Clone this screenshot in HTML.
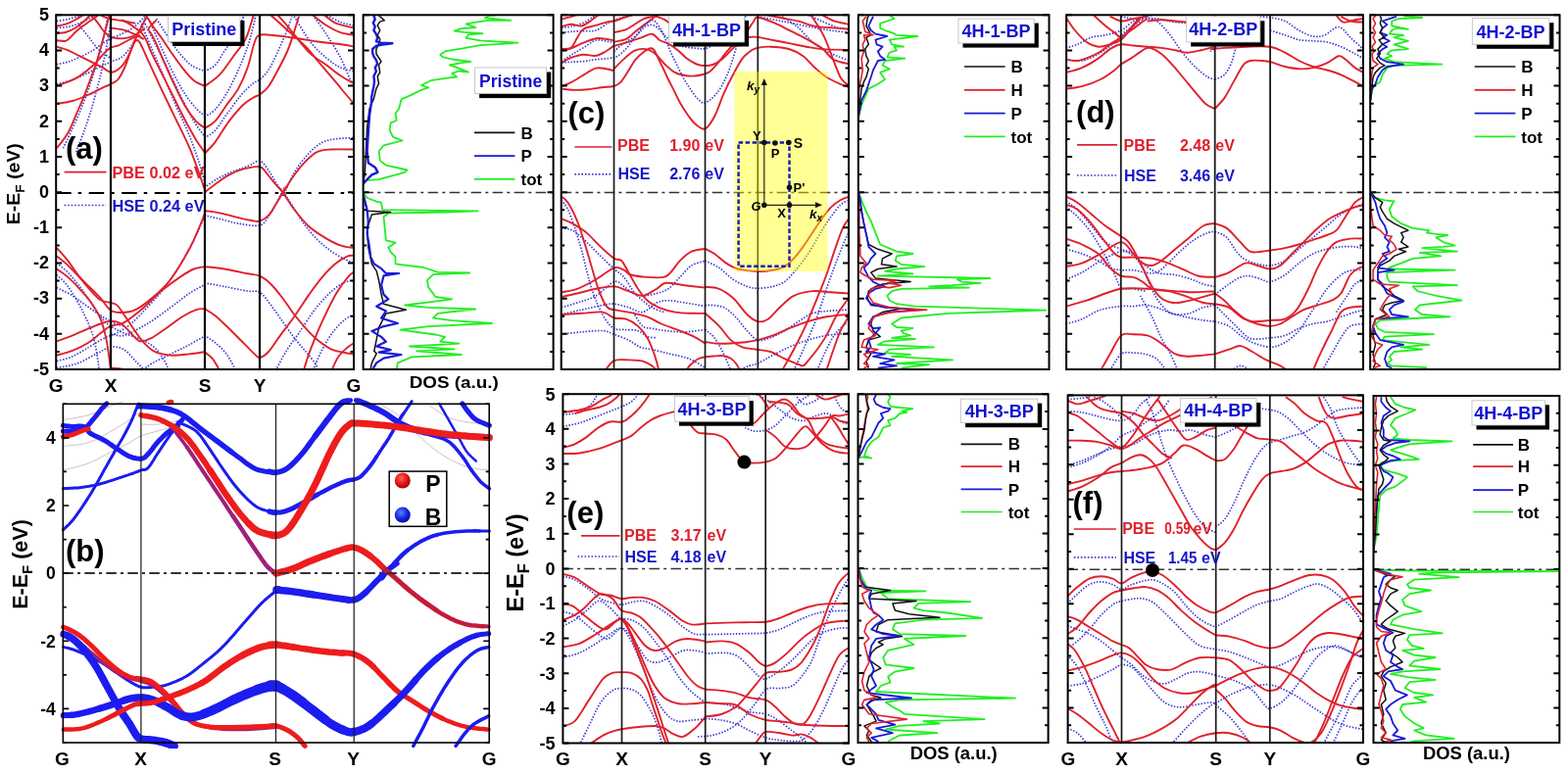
<!DOCTYPE html>
<html><head><meta charset="utf-8"><title>Band structures</title>
<style>
html,body{margin:0;padding:0;background:#fff;}
svg{display:block;}
</style></head><body>
<svg width="1600" height="790" viewBox="0 0 1600 790" style="font-family:'Liberation Sans',Arial,sans-serif;font-weight:bold">
<rect width="1600" height="790" fill="#fff"/>
<defs>
<clipPath id="ca"><rect x="57.2" y="15.3" width="303.8" height="361.7"/></clipPath>
<clipPath id="cda"><rect x="370.6" y="15.3" width="194" height="361.7"/></clipPath>
<clipPath id="cc"><rect x="572.7" y="15.3" width="293.3" height="361.7"/></clipPath>
<clipPath id="cdc"><rect x="875.8" y="15.3" width="194.7" height="361.7"/></clipPath>
<clipPath id="cd"><rect x="1088.1" y="15.3" width="302.9" height="361.7"/></clipPath>
<clipPath id="cdd"><rect x="1398.2" y="15.3" width="193.3" height="361.7"/></clipPath>
<clipPath id="cb"><rect x="61.3" y="406.3" width="441.9" height="357.7"/></clipPath>
<clipPath id="ce"><rect x="574.4" y="402.2" width="291.6" height="356.3"/></clipPath>
<clipPath id="cde"><rect x="875.5" y="402.3" width="194.1" height="355.7"/></clipPath>
<clipPath id="cf"><rect x="1089.6" y="403.4" width="301.4" height="354.6"/></clipPath>
<clipPath id="cdf"><rect x="1401.5" y="404" width="189.8" height="354"/></clipPath>
</defs>
<g clip-path="url(#ca)">
<path d="M64.5,151.3 C66.1,147.9 71.1,137.6 74,131 C77,124.5 79.8,118.3 82.4,112 C85,105.7 87.3,99.3 89.5,93 C91.8,86.6 94,80.3 96,73.9 C97.9,67.6 99.8,60.8 101.4,54.9 C103,48.9 104.3,43.3 105.5,38.2 C106.7,33 107.8,27.9 108.6,23.9 C109.4,19.9 110,16 110.2,14.4" stroke="#3a3ad6" stroke-width="1.7" fill="none" stroke-dasharray="1.5 1.6"/>
<path d="M77.6,154.9 C79,151.3 83.4,140.6 86,133.4 C88.5,126.3 90.9,119.1 93.1,112 C95.3,104.9 97.3,97.3 99,90.6 C100.8,83.8 102.3,77.9 103.8,71.5 C105.3,65.2 106.6,58.8 107.9,52.5 C109.1,46.1 110.3,38.6 111.2,33.4 C112.1,28.3 113,23.5 113.3,21.5" stroke="#3a3ad6" stroke-width="1.7" fill="none" stroke-dasharray="1.5 1.6"/>
<path d="M57.9,65.6 C59.8,65.2 65.4,64.4 69.3,63.2 C73.2,62 77.2,60.2 81.2,58.4 C85.2,56.6 89.1,54.9 93.1,52.5 C97.1,50.1 101.7,46.3 105,44.1 C108.3,42 110.1,40.8 112.9,39.4 C115.6,38 118.6,37.2 121.7,35.8 C124.7,34.4 128.4,32.6 131.2,31 C134,29.5 136,28.3 138.3,26.3 C140.7,24.3 143.7,21.1 145.5,19.1 C147.3,17.2 148.5,15.2 149,14.4" stroke="#3a3ad6" stroke-width="1.7" fill="none" stroke-dasharray="1.5 1.6"/>
<path d="M57.9,85.8 C60.2,85.2 67,83.8 71.7,82.2 C76.3,80.7 81.2,78.5 86,76.3 C90.7,74.1 95.8,71.3 100.2,69.1 C104.7,67 108.9,65 112.9,63.2 C116.8,61.4 120.6,61 124,58.4 C127.5,55.8 130.8,51.7 133.6,47.7 C136.3,43.7 138.5,39 140.7,34.6 C142.9,30.3 145.1,24.9 146.7,21.5 C148.3,18.2 149.6,15.6 150.2,14.4" stroke="#3a3ad6" stroke-width="1.7" fill="none" stroke-dasharray="1.5 1.6"/>
<path d="M57.9,21.5 C59.8,21.2 65.4,20.5 69.3,19.6 C73.2,18.7 78,17.2 81.2,16.3 C84.4,15.3 87.1,14.3 88.3,13.9" stroke="#3a3ad6" stroke-width="1.7" fill="none" stroke-dasharray="1.5 1.6"/>
<path d="M57.9,28.7 C60.2,28.3 67.4,27.8 71.7,26.8 C76,25.8 80,24.2 83.6,22.7 C87.1,21.2 90.5,19.3 93.1,18 C95.7,16.6 98.1,15 99,14.4" stroke="#3a3ad6" stroke-width="1.7" fill="none" stroke-dasharray="1.5 1.6"/>
<path d="M81.2,26.3 C82.8,28.3 87.5,34.2 90.7,38.2 C93.9,42.2 96.5,46.5 100.2,50.1 C103.9,53.7 110.8,58 112.9,59.6" stroke="#3a3ad6" stroke-width="1.7" fill="none" stroke-dasharray="1.5 1.6"/>
<path d="M143.1,21.5 C145.1,26.3 151,40.8 155,50.1 C159,59.4 162.9,68.2 166.9,77.5 C170.9,86.8 174.8,96.9 178.8,106 C182.8,115.2 187.1,123.7 190.7,132.2 C194.3,140.8 197.5,149.5 200.2,157.2 C202.9,165 205.3,173.1 206.9,178.7 C208.5,184.2 209.3,188.6 209.8,190.6" stroke="#3a3ad6" stroke-width="1.7" fill="none" stroke-dasharray="1.5 1.6"/>
<path d="M146.7,21.5 C148.8,25.9 155.2,38.6 159.8,47.7 C164.3,56.8 169.7,67.4 174,76.3 C178.4,85.2 182,93.3 186,101.3 C189.9,109.2 193.9,117.4 197.9,123.9 C201.8,130.5 207.8,137.8 209.8,140.6" stroke="#3a3ad6" stroke-width="1.7" fill="none" stroke-dasharray="1.5 1.6"/>
<path d="M151.4,19.1 C153.4,23.5 159.2,36.2 163.3,45.3 C167.5,54.5 172.3,65.6 176.4,73.9 C180.6,82.2 184.4,89.2 188.3,95.3 C192.3,101.5 196.7,106.9 200.2,110.8 C203.8,114.7 208.2,117.6 209.8,118.9" stroke="#3a3ad6" stroke-width="1.7" fill="none" stroke-dasharray="1.5 1.6"/>
<path d="M159.8,19.1 C161.7,22.3 167.7,32.2 171.7,38.2 C175.6,44.1 179.6,50.1 183.6,54.9 C187.5,59.6 191.1,63.7 195.5,66.8 C199.8,69.8 207.4,71.9 209.8,73" stroke="#3a3ad6" stroke-width="1.7" fill="none" stroke-dasharray="1.5 1.6"/>
<path d="M57.9,151.3 C59.8,148.7 65.8,142 69.3,135.8 C72.8,129.7 76,120.7 78.8,114.4 C81.6,108 83.6,103.7 86,97.7 C88.3,91.8 90.9,84.6 93.1,78.7 C95.3,72.7 97.3,67.6 99,62 C100.8,56.4 102.3,50.7 103.8,45.3 C105.3,40 106.7,34.4 107.9,29.9 C109,25.3 110.2,20.7 111,18 C111.7,15.2 111.9,14 112.1,13.2" stroke="#e0202c" stroke-width="1.9" fill="none"/>
<path d="M57.9,106 C60.6,105.5 68.6,104.5 74,103 C79.5,101.4 86,98.6 90.7,96.5 C95.5,94.5 98.9,92.4 102.6,90.6 C106.3,88.8 109.9,87.4 112.9,85.8 C115.8,84.2 118,84 120.5,81 C122.9,78.1 125.4,72.9 127.6,68 C129.8,63 131.8,55.7 133.6,51.3 C135.4,46.9 136.8,43.1 138.3,41.8 C139.8,40.5 140.6,40.5 142.6,43.4 C144.6,46.4 146.6,51.8 150.2,59.6 C153.9,67.5 159.8,80.5 164.5,90.6 C169.3,100.7 174,110.4 178.8,120.3 C183.6,130.3 188.9,140.4 193.1,150.1 C197.3,159.8 201,170.9 203.8,178.7 C206.6,186.4 208.8,193.5 209.8,196.5" stroke="#e0202c" stroke-width="1.9" fill="none"/>
<path d="M57.9,47.7 C59.8,48.3 65.4,49.7 69.3,51.3 C73.2,52.9 77.2,55.3 81.2,57.2 C85.2,59.2 89.1,61.2 93.1,63.2 C97.1,65.2 101.7,67.4 105,69.1 C108.3,70.9 110.3,73.6 112.9,73.9 C115.4,74.2 118,72.8 120.5,71 C122.9,69.3 125.4,66.5 127.6,63.2 C129.8,59.9 131.8,55.3 133.6,51.3 C135.4,47.3 136.5,43.3 138.3,39.4 C140.1,35.4 142.3,31.2 144.3,27.5 C146.3,23.7 149.2,18.5 150.2,16.8" stroke="#e0202c" stroke-width="1.9" fill="none"/>
<path d="M57.9,87.7 C61.3,86.3 72.3,82.9 78.8,79.1 C85.3,75.4 92.2,69.1 96.7,65.1 C101.1,61.1 102.8,57.8 105.5,55.1 C108.2,52.4 110.3,50.1 112.9,48.7 C115.4,47.2 117.9,47.6 121,46.3 C124,45 128.3,42.4 131,41 C133.7,39.7 135.1,39.1 137.1,38.2 C139.2,37.3 142.1,36.2 143.1,35.8" stroke="#e0202c" stroke-width="1.9" fill="none"/>
<path d="M209.8,156.8 C208.2,154.5 203.8,148.8 200.2,143 C196.7,137.1 192.3,129.1 188.3,121.5 C184.4,114 180.4,105.7 176.4,97.7 C172.5,89.8 168.1,81 164.5,73.9 C161,66.8 157.6,60.4 155,54.9 C152.4,49.3 150.8,44.1 149,40.6 C147.3,37 146.1,35.4 144.3,33.4 C142.5,31.4 140.5,30.3 138.3,28.7 C136.2,27.1 133.6,25.3 131.2,23.9 C128.8,22.5 125.2,20.9 124,20.3" stroke="#e0202c" stroke-width="1.9" fill="none"/>
<path d="M209.8,131 C208.2,129.9 203.8,127.9 200.2,123.9 C196.7,119.9 192.3,114 188.3,107.2 C184.4,100.5 180,91 176.4,83.4 C172.9,75.9 169.7,68.3 166.9,62 C164.1,55.7 161.8,49.9 159.8,45.3 C157.7,40.8 155.9,37.2 154.5,34.6 C153.1,32 151.3,31.4 151.4,29.9 C151.5,28.3 153.6,26.7 155,25.1 C156.4,23.5 159,21.1 159.8,20.3" stroke="#e0202c" stroke-width="1.9" fill="none"/>
<path d="M209.8,88.2 C207.8,87.2 201.8,85.4 197.9,82.2 C193.9,79.1 189.9,74.1 186,69.1 C182,64.2 177.6,57.6 174,52.5 C170.5,47.3 167.3,42.2 164.5,38.2 C161.7,34.2 159.4,31.4 157.4,28.7 C155.4,25.9 154,23.7 152.6,21.5 C151.2,19.3 149.6,16.6 149,15.6" stroke="#e0202c" stroke-width="1.9" fill="none"/>
<path d="M57.9,26.8 C59.8,26.3 65.8,25.2 69.3,23.9 C72.8,22.6 76,20.7 78.8,19.1 C81.6,17.6 84.8,15.2 86,14.4" stroke="#e0202c" stroke-width="1.9" fill="none"/>
<path d="M57.9,33.9 C59.4,33.7 63.8,33.8 66.9,33 C70,32.1 73.3,30.6 76.4,28.7 C79.6,26.8 83.2,23.9 86,21.5 C88.7,19.1 91.9,15.6 93.1,14.4" stroke="#e0202c" stroke-width="1.9" fill="none"/>
<path d="M57.9,41.3 C59.4,41.4 64.6,42.3 66.9,41.8 C69.2,41.2 69.7,40 71.7,38.2 C73.7,36.4 76,33.4 78.8,31 C81.6,28.7 84.8,26.5 88.3,23.9 C91.9,21.3 98.3,17 100.2,15.6" stroke="#e0202c" stroke-width="1.9" fill="none"/>
<path d="M93.1,15.6 C94.3,17 98.1,21.1 100.2,23.9 C102.4,26.7 104.1,29.9 106.2,32.2 C108.3,34.5 109.9,36.5 112.9,37.7 C115.8,38.9 120.6,39.4 124,39.4 C127.5,39.4 130.8,38.6 133.6,37.7 C136.3,36.8 138.3,35.4 140.7,33.9 C143.1,32.4 146.7,29.5 147.9,28.7" stroke="#e0202c" stroke-width="1.9" fill="none"/>
<path d="M112.9,28.4 C115.1,28.8 122.2,29.4 126.4,30.6 C130.7,31.7 135,33.7 138.3,35.3 C141.7,36.9 145.3,39.3 146.7,40.1" stroke="#e0202c" stroke-width="1.9" fill="none"/>
<path d="M102.6,15.6 C104.2,16.2 108.2,18.2 112.1,19.1 C116.1,20.1 122.1,20.7 126.4,21.5 C130.8,22.3 136.3,23.5 138.3,23.9" stroke="#e0202c" stroke-width="1.9" fill="none"/>
<path d="M208.6,72.7 C210.4,71.7 215.9,70.1 219.3,66.8 C222.7,63.4 225.6,57.2 228.8,52.5 C232,47.7 235.6,43 238.3,38.2 C241.1,33.4 243.7,27.7 245.5,23.9 C247.3,20.1 248.5,17 249,15.6" stroke="#3a3ad6" stroke-width="1.7" fill="none" stroke-dasharray="1.5 1.6"/>
<path d="M208.6,119.1 C210.4,118 215.5,116 219.3,112 C223.1,108 227.2,102.1 231.2,95.3 C235.2,88.6 239.5,79.5 243.1,71.5 C246.7,63.6 250,55.3 252.6,47.7 C255.2,40.2 257.2,31.6 258.6,26.3 C260,20.9 260.6,17.4 261,15.6" stroke="#3a3ad6" stroke-width="1.7" fill="none" stroke-dasharray="1.5 1.6"/>
<path d="M208.6,140.6 C210.4,139.4 215.5,137.4 219.3,133.4 C223.1,129.5 226.8,122.7 231.2,116.8 C235.6,110.8 241.1,102.9 245.5,97.7 C249.8,92.6 254.1,88.6 257.4,85.8 C260.6,83 262.2,83.4 265,81 C267.8,78.7 271,76.3 274,71.5 C277.1,66.8 280.6,58.8 283.6,52.5 C286.5,46.1 289.5,39.4 291.9,33.4 C294.3,27.5 296.9,19.5 297.9,16.8" stroke="#3a3ad6" stroke-width="1.7" fill="none" stroke-dasharray="1.5 1.6"/>
<path d="M208.6,191.8 C210.4,190.5 215.1,186.4 219.3,183.9 C223.5,181.4 228,179.1 233.6,176.8 C239.1,174.4 247.4,171.7 252.6,169.6 C257.9,167.6 261.4,163.7 265,164.4 C268.6,165.1 271.3,170.3 274,173.9 C276.7,177.5 278.8,182 281.2,185.8 C283.6,189.6 287.1,194.1 288.3,196.5 C289.6,198.9 288.7,199.5 288.8,200.1" stroke="#3a3ad6" stroke-width="1.7" fill="none" stroke-dasharray="1.5 1.6"/>
<path d="M288.8,200.1 C290.7,196.1 296,183.4 300.2,176.3 C304.5,169.1 309.8,162.4 314.5,157.2 C319.3,152.1 324,147.9 328.8,145.3 C333.6,142.8 337.7,142.6 343.1,141.8 C348.5,141 358,140.8 361,140.6" stroke="#3a3ad6" stroke-width="1.7" fill="none" stroke-dasharray="1.5 1.6"/>
<path d="M300.2,16.8 C303,21.1 311.3,35.8 316.9,43 C322.5,50.1 328.4,55.3 333.6,59.6 C338.7,64 343.3,67 347.9,69.1 C352.4,71.3 358.8,72.1 361,72.7" stroke="#3a3ad6" stroke-width="1.7" fill="none" stroke-dasharray="1.5 1.6"/>
<path d="M319.3,15.6 C321.7,18.9 328.8,28.5 333.6,35.8 C338.3,43.2 343.9,52.1 347.9,59.6 C351.8,67.2 355,76.7 357.4,81 C359.8,85.4 361.3,85 362.1,85.8" stroke="#3a3ad6" stroke-width="1.7" fill="none" stroke-dasharray="1.5 1.6"/>
<path d="M333.6,15.6 C336,16.8 343.1,20.9 347.9,22.7 C352.6,24.5 359.8,25.7 362.1,26.3" stroke="#3a3ad6" stroke-width="1.7" fill="none" stroke-dasharray="1.5 1.6"/>
<path d="M208.6,88.2 C211.2,86.2 219.1,81.4 224,76.3 C229,71.1 234,63.2 238.3,57.2 C242.7,51.3 247.3,46.1 250.2,40.6 C253.2,35 254.8,28.1 256.2,23.9 C257.6,19.7 258.2,17 258.6,15.6" stroke="#e0202c" stroke-width="1.9" fill="none"/>
<path d="M208.6,131 C210.4,129.9 215.5,127.9 219.3,123.9 C223.1,119.9 227.2,112.8 231.2,107.2 C235.2,101.7 239.5,96.9 243.1,90.6 C246.7,84.2 249.8,77.1 252.6,69.1 C255.4,61.2 257.7,48.5 259.8,43 C261.8,37.4 262.2,37 265,35.8 C267.8,34.6 270.6,35.3 276.4,35.8 C282.3,36.3 292.3,37.6 300.2,38.7 C308.2,39.8 316.1,41.4 324,42.5 C332,43.6 341.5,44.5 347.9,45.3 C354.2,46.2 359.8,47.3 362.1,47.7" stroke="#e0202c" stroke-width="1.9" fill="none"/>
<path d="M208.6,156.8 C210.4,154.9 215.1,150.8 219.3,145.3 C223.5,139.9 228.8,130.3 233.6,123.9 C238.3,117.6 243.5,111.4 247.9,107.2 C252.2,103.1 256.9,100.7 259.8,98.9 C262.6,97.1 262.6,98.3 265,96.5 C267.4,94.7 271,92.4 274,88.2 C277.1,84 280.4,77.5 283.6,71.5 C286.7,65.6 290.5,58.4 293.1,52.5 C295.7,46.5 297.1,41.8 299,35.8 C301,29.9 304,19.9 305,16.8" stroke="#e0202c" stroke-width="1.9" fill="none"/>
<path d="M208.6,196.5 C210.4,195.1 215.1,191.2 219.3,188.2 C223.5,185.2 228.8,181.2 233.6,178.7 C238.3,176.1 242.6,174.1 247.9,172.7 C253.1,171.3 261,169.7 265,170.3 C269,170.9 269,173.3 271.7,176.3 C274.4,179.3 278.3,184.8 281.2,188.2 C284,191.6 287,194.5 288.8,196.5 C290.6,198.5 291.4,199.5 291.9,200.1" stroke="#e0202c" stroke-width="1.9" fill="none"/>
<path d="M286,200.1 C286.4,199.5 286.4,200.1 288.8,196.5 C291.2,193 296.3,184 300.2,178.7 C304.1,173.3 308.2,168.3 312.1,164.4 C316.1,160.4 319.7,156.8 324,154.9 C328.4,152.9 332,152.9 338.3,152.5 C344.7,152.1 358.2,152.5 362.1,152.5" stroke="#e0202c" stroke-width="1.9" fill="none"/>
<path d="M276.4,15.6 C278.4,17.4 284.6,22.9 288.3,26.3 C292.1,29.7 295.1,32.2 299,35.8 C303,39.4 308,43.3 312.1,47.7 C316.3,52.1 319.7,56.8 324,62 C328.4,67.2 334,73.5 338.3,78.7 C342.7,83.8 346.3,88.2 350.2,93 C354.2,97.7 360.2,104.9 362.1,107.2" stroke="#e0202c" stroke-width="1.9" fill="none"/>
<path d="M283.6,15.6 C285.2,17.4 289.9,22.5 293.1,26.3 C296.3,30.1 298.7,33.4 302.6,38.2 C306.6,43 311.7,50.1 316.9,54.9 C322.1,59.6 328.4,63 333.6,66.8 C338.7,70.5 343.1,74.3 347.9,77.5 C352.6,80.7 359.8,84.4 362.1,85.8" stroke="#e0202c" stroke-width="1.9" fill="none"/>
<path d="M319.3,15.6 C321.7,17.4 328.8,23.3 333.6,26.3 C338.3,29.3 343.1,31.8 347.9,33.4 C352.6,35 359.8,35.4 362.1,35.8" stroke="#e0202c" stroke-width="1.9" fill="none"/>
<path d="M331.2,15.6 C333.2,17 337.9,21.7 343.1,23.9 C348.3,26.1 359,27.9 362.1,28.7" stroke="#e0202c" stroke-width="1.9" fill="none"/>
<path d="M57.9,268.6 C59.8,270.2 65.4,274.1 69.3,278.1 C73.2,282.1 77.2,287.2 81.2,292.4 C85.2,297.5 89.5,303.9 93.1,309 C96.7,314.2 99.3,319.4 102.6,323.3 C105.9,327.3 108.9,330.1 112.9,332.9 C116.8,335.6 121,337.6 126.4,340 C131.9,342.4 139.9,344.4 145.5,347.1 C151,349.9 155.8,352.7 159.8,356.7 C163.7,360.6 167.3,367.4 169.3,371 C171.3,374.5 171.3,376.9 171.7,378.1" stroke="#3a3ad6" stroke-width="1.7" fill="none" stroke-dasharray="1.5 1.6"/>
<path d="M57.9,280.5 C59.8,282.5 65,286.4 69.3,292.4 C73.6,298.3 79.2,307.5 83.6,316.2 C87.9,324.9 92.5,334.4 95.5,344.8 C98.5,355.1 100.4,372.5 101.4,378.1" stroke="#3a3ad6" stroke-width="1.7" fill="none" stroke-dasharray="1.5 1.6"/>
<path d="M57.9,293.6 C60.6,295 68.6,298.5 74,301.9 C79.5,305.3 84.2,309.4 90.7,313.8 C97.2,318.2 106.9,324.9 112.9,328.1 C118.8,331.3 124.2,332.1 126.4,332.9" stroke="#3a3ad6" stroke-width="1.7" fill="none" stroke-dasharray="1.5 1.6"/>
<path d="M57.9,375.7 C61.3,374.9 72.1,373.3 78.8,371 C85.5,368.6 92.2,364.2 97.9,361.4 C103.5,358.7 108.1,355.1 112.9,354.3 C117.6,353.5 122.2,354.3 126.4,356.7 C130.7,359 134.8,365 138.3,368.6 C141.9,372.1 146.3,376.5 147.9,378.1" stroke="#3a3ad6" stroke-width="1.7" fill="none" stroke-dasharray="1.5 1.6"/>
<path d="M112.9,340 C115.1,340.4 120.2,344 126.4,342.4 C132.7,340.8 142.3,335.2 150.2,330.5 C158.2,325.7 166.9,319 174,313.8 C181.2,308.7 187.1,303.5 193.1,299.5 C199,295.6 207,291.6 209.8,290" stroke="#3a3ad6" stroke-width="1.7" fill="none" stroke-dasharray="1.5 1.6"/>
<path d="M209.8,342.4 C207,344 199,348.7 193.1,351.9 C187.1,355.1 180.4,358.3 174,361.4 C167.7,364.6 159.8,368.2 155,371 C150.2,373.7 147.1,376.9 145.5,378.1" stroke="#3a3ad6" stroke-width="1.7" fill="none" stroke-dasharray="1.5 1.6"/>
<path d="M209.8,218.6 C207.8,222.9 202.2,236 197.9,244.8 C193.5,253.5 188.7,262.6 183.6,271 C178.4,279.3 172.5,287.6 166.9,294.8 C161.3,301.9 155.8,307.9 150.2,313.8 C144.7,319.8 138.7,326.1 133.6,330.5 C128.4,334.8 122.7,338 119.3,340 C115.8,342 115.6,341.2 112.9,342.4 C110.1,343.6 106.3,345.2 102.6,347.1 C98.9,349.1 95.5,351.5 90.7,354.3 C86,357.1 79.5,361.4 74,363.8 C68.6,366.2 60.6,367.8 57.9,368.6" stroke="#3a3ad6" stroke-width="1.7" fill="none" stroke-dasharray="1.5 1.6"/>
<path d="M57.9,253.1 C59.8,255.3 65.4,261.2 69.3,266.2 C73.2,271.2 77.2,277.7 81.2,282.9 C85.2,288 89.5,293.3 93.1,297.1 C96.7,301 99.3,304.2 102.6,306.2 C105.9,308.2 110.1,308.2 112.9,309 C115.6,309.9 117,309.4 119.3,311.4 C121.5,313.4 123.7,317 126.4,321 C129.2,324.9 132.8,330.7 136,335.2 C139.1,339.8 141.9,344.4 145.5,348.3 C149,352.2 152.6,356.2 157.4,358.6 C162.1,361 168.1,362.1 174,362.6 C180,363.1 187.1,362 193.1,361.4 C199,360.8 207,359.4 209.8,359" stroke="#e0202c" stroke-width="1.9" fill="none"/>
<path d="M57.9,261.4 C59.4,262.6 63.4,265.4 66.9,268.6 C70.4,271.7 74.8,276.5 78.8,280.5 C82.8,284.4 86.7,288.4 90.7,292.4 C94.7,296.3 98.9,300.2 102.6,304.3 C106.3,308.3 109.3,314.2 112.9,316.7 C116.4,319.1 119.8,319.1 124,319 C128.3,319 133.2,318.7 138.3,316.2 C143.5,313.7 149,309.4 155,304.3 C161,299.1 167.7,293.6 174,285.2 C180.4,276.9 187.9,263.8 193.1,254.3 C198.3,244.8 202.2,234.6 205,228.1 C207.8,221.5 209,217.2 209.8,215" stroke="#e0202c" stroke-width="1.9" fill="none"/>
<path d="M57.9,274.5 C59.8,275.9 65.4,279.5 69.3,282.9 C73.2,286.2 77.2,290.4 81.2,294.8 C85.2,299.1 89.5,303.9 93.1,309 C96.7,314.2 100,319.4 102.6,325.7 C105.2,332.1 106.9,338.8 108.6,347.1 C110.3,355.5 112.1,371 112.9,375.7" stroke="#e0202c" stroke-width="1.9" fill="none"/>
<path d="M57.9,348.3 C60.6,347.3 68.6,344.6 74,342.4 C79.5,340.2 86,337.2 90.7,335.2 C95.5,333.3 98.9,331.7 102.6,330.5 C106.3,329.2 109.3,327.6 112.9,327.6 C116.4,327.6 120.6,328.4 124,330.5 C127.5,332.5 130.4,337 133.6,340 C136.7,343 139.5,347.5 143.1,348.3 C146.7,349.1 150.6,346.9 155,344.8 C159.4,342.6 164.1,338.8 169.3,335.2 C174.4,331.7 180.8,326.5 186,323.3 C191.1,320.2 196.3,317.6 200.2,316.2 C204.2,314.8 208.2,315.2 209.8,315" stroke="#e0202c" stroke-width="1.9" fill="none"/>
<path d="M57.9,362.6 C60.6,361.8 68.6,360 74,357.9 C79.5,355.7 86,352.5 90.7,349.5 C95.5,346.5 98.9,342.8 102.6,340 C106.3,337.2 108.9,334.6 112.9,332.9 C116.8,331.1 121,332.3 126.4,329.3 C131.9,326.3 139.1,320.4 145.5,315 C151.8,309.6 158.2,302.5 164.5,297.1 C170.9,291.8 178,286.6 183.6,282.9 C189.1,279.1 193.5,276.3 197.9,274.5 C202.2,272.7 207.8,272.5 209.8,272.1" stroke="#e0202c" stroke-width="1.9" fill="none"/>
<path d="M112.9,375.7 C114.3,375.8 118.6,375.8 121.7,376.2 C124.7,376.6 129.6,377.8 131.2,378.1" stroke="#e0202c" stroke-width="1.9" fill="none"/>
<path d="M208.6,219.8 C211.2,220.4 218.3,221.9 224,223.3 C229.8,224.7 236.3,227 243.1,228.1 C249.9,229.2 259.8,231.2 265,230 C270.2,228.8 271.3,224.4 274,221 C276.7,217.5 278.8,213.4 281.2,209 C283.6,204.7 286.7,197.9 288.3,194.8 C289.9,191.6 290.3,190.8 290.7,190" stroke="#3a3ad6" stroke-width="1.7" fill="none" stroke-dasharray="1.5 1.6"/>
<path d="M288.8,196 C290.3,198.1 294.4,203.7 297.9,209 C301.3,214.4 305.4,222.1 309.8,228.1 C314.1,234 319.3,240 324,244.8 C328.8,249.5 333.6,253.3 338.3,256.7 C343.1,260 348.7,263 352.6,265 C356.6,267 360.6,268 362.1,268.6" stroke="#3a3ad6" stroke-width="1.7" fill="none" stroke-dasharray="1.5 1.6"/>
<path d="M208.6,288.8 C211.9,289.4 221.5,291 228.8,292.4 C236.2,293.8 246.6,296.2 252.6,297.1 C258.7,298.1 261,296 265,298.3 C269,300.7 272.5,306.5 276.4,311.4 C280.3,316.4 284.4,322.5 288.3,328.1 C292.3,333.7 296.3,339.6 300.2,344.8 C304.2,349.9 308.6,354.7 312.1,359 C315.7,363.4 319.7,367.8 321.7,371 C323.7,374.1 323.7,376.9 324,378.1" stroke="#3a3ad6" stroke-width="1.7" fill="none" stroke-dasharray="1.5 1.6"/>
<path d="M208.6,342.4 C210.4,343.6 215.5,346.3 219.3,349.5 C223.1,352.7 227.6,356.7 231.2,361.4 C234.8,366.2 239.1,375.3 240.7,378.1" stroke="#3a3ad6" stroke-width="1.7" fill="none" stroke-dasharray="1.5 1.6"/>
<path d="M281.2,378.1 C283.2,374.5 289.1,363 293.1,356.7 C297.1,350.3 300.6,346.3 305,340 C309.4,333.7 314.5,324.9 319.3,318.6 C324,312.2 328.8,306.7 333.6,301.9 C338.3,297.1 343.1,292.8 347.9,290 C352.6,287.2 359.8,286 362.1,285.2" stroke="#3a3ad6" stroke-width="1.7" fill="none" stroke-dasharray="1.5 1.6"/>
<path d="M319.3,378.1 C320.9,374.5 325.2,363.4 328.8,356.7 C332.4,349.9 336.7,342.8 340.7,337.6 C344.7,332.5 349,328.5 352.6,325.7 C356.2,322.9 360.6,321.7 362.1,321" stroke="#3a3ad6" stroke-width="1.7" fill="none" stroke-dasharray="1.5 1.6"/>
<path d="M208.6,215 C211.2,215.4 218.3,216.2 224,217.4 C229.8,218.6 237.5,220.8 243.1,222.1 C248.7,223.5 253.7,224.6 257.4,225.2 C261,225.8 262.2,226.6 265,225.7 C267.8,224.8 271.3,222.5 274,219.8 C276.7,217 278.8,212.8 281.2,209 C283.6,205.3 286.3,200.3 288.3,197.1 C290.3,194 292.3,191.2 293.1,190" stroke="#e0202c" stroke-width="1.9" fill="none"/>
<path d="M286,192.4 C286.4,193.1 286.4,193.1 288.8,196.7 C291.2,200.2 296,208.2 300.2,213.8 C304.5,219.4 309.4,225.7 314.5,230.5 C319.7,235.2 325.6,239 331.2,242.4 C336.7,245.8 342.7,248.9 347.9,250.7 C353,252.5 359.8,252.7 362.1,253.1" stroke="#e0202c" stroke-width="1.9" fill="none"/>
<path d="M208.6,272.1 C211.9,272.5 221.5,273.3 228.8,274.5 C236.2,275.7 246.6,278.1 252.6,279.3 C258.7,280.5 261,279.9 265,281.7 C269,283.5 272.5,286.2 276.4,290 C280.3,293.8 284.4,299.1 288.3,304.3 C292.3,309.4 296.3,315.8 300.2,321 C304.2,326.1 308.2,330.9 312.1,335.2 C316.1,339.6 319.7,343.6 324,347.1 C328.4,350.7 333.6,354.5 338.3,356.7 C343.1,358.8 348.7,359.4 352.6,360.2 C356.6,361 360.6,361.2 362.1,361.4" stroke="#e0202c" stroke-width="1.9" fill="none"/>
<path d="M208.6,315 C210.4,316.2 215.1,318.8 219.3,322.1 C223.5,325.5 228.8,330.7 233.6,335.2 C238.3,339.8 243.5,345.2 247.9,349.5 C252.2,353.9 256.9,358.8 259.8,361.4 C262.6,364 262.6,365.4 265,365 C267.4,364.6 270.6,362.8 274,359 C277.5,355.3 281.6,348.3 286,342.4 C290.3,336.4 295.5,330.1 300.2,323.3 C305,316.6 309.8,308.7 314.5,301.9 C319.3,295.2 324,288.4 328.8,282.9 C333.6,277.3 338.7,272.1 343.1,268.6 C347.5,265 351.8,262.7 355,261.4 C358.2,260.2 361,261 362.1,261" stroke="#e0202c" stroke-width="1.9" fill="none"/>
<path d="M309.8,378.1 C311,374.5 313.7,365 316.9,356.7 C320.1,348.3 324.4,337.6 328.8,328.1 C333.2,318.6 338.7,307.1 343.1,299.5 C347.5,292 351.8,286.6 355,282.9 C358.2,279.1 361,277.9 362.1,276.9" stroke="#e0202c" stroke-width="1.9" fill="none"/>
<path d="M208.6,359 C210,360.2 214.3,363 216.9,366.2 C219.5,369.4 222.9,376.1 224,378.1" stroke="#e0202c" stroke-width="1.9" fill="none"/>
<path d="M338.3,378.1 C339.5,375.7 342.7,367.8 345.5,363.8 C348.3,359.8 352.2,356.7 355,354.3 C357.8,351.9 361,350.3 362.1,349.5" stroke="#e0202c" stroke-width="1.9" fill="none"/>
</g>
<path d="M57.2,197H361" stroke="#000" stroke-width="2.2" stroke-dasharray="15.5 7 3.5 7.5" fill="none"/>
<path d="M113,15.3V377M209,15.3V377M265,15.3V377" stroke="#000" stroke-width="2.2" fill="none"/>
<rect x="57.2" y="15.3" width="303.8" height="361.7" fill="none" stroke="#000" stroke-width="2"/>
<path d="M57.2,377h6 M361,377h-6 M57.2,358.9h3.5 M361,358.9h-3.5 M57.2,340.8h6 M361,340.8h-6 M57.2,322.7h3.5 M361,322.7h-3.5 M57.2,304.7h6 M361,304.7h-6 M57.2,286.6h3.5 M361,286.6h-3.5 M57.2,268.5h6 M361,268.5h-6 M57.2,250.4h3.5 M361,250.4h-3.5 M57.2,232.3h6 M361,232.3h-6 M57.2,214.2h3.5 M361,214.2h-3.5 M57.2,196.2h6 M361,196.2h-6 M57.2,178.1h3.5 M361,178.1h-3.5 M57.2,160h6 M361,160h-6 M57.2,141.9h3.5 M361,141.9h-3.5 M57.2,123.8h6 M361,123.8h-6 M57.2,105.7h3.5 M361,105.7h-3.5 M57.2,87.6h6 M361,87.6h-6 M57.2,69.6h3.5 M361,69.6h-3.5 M57.2,51.5h6 M361,51.5h-6 M57.2,33.4h3.5 M361,33.4h-3.5 M57.2,15.3h6 M361,15.3h-6 " stroke="#000" stroke-width="2" fill="none"/>
<g clip-path="url(#cda)">
<polyline points="369.8,184.4 386.6,183.2 413.1,175.9 415.5,173.5 393.9,168.7 387.8,163.9 386.6,154.3 391.5,148.3 401.1,145.9 410.7,143.5 401.1,139.9 397.5,132.7 398.7,125.4 404.7,123 403.5,115.8 407.1,111 409.5,101.4 420.3,96.6 429.9,91.8 437.2,89.4 429.9,87 439.6,82.2 456.4,79.7 466,78.5 461.2,74.9 468.4,72.5 478,73.7 466,68.9 458.8,66.5 470.8,64.1 480.4,62.9 461.2,60.5 451.6,58.1 449.2,55.7 455.2,52.1 470.8,49.7 490.1,46.1 528.5,43.7 490.1,41.3 475.6,38.9 478,35.3 492.5,34.1 473.2,32.8 463.6,31.6 470.8,29.2 485.3,28 475.6,24.4 497.3,20.8 521.3,20.8 494.9,18.4 499.7,16 509.3,14.8" stroke="#22ee22" stroke-width="1.8" fill="none" stroke-linejoin="round"/>
<polyline points="386.5,15.8 392.2,20.9 387.7,22.1 385.2,25.9 387.7,31 385.2,36 387.7,39.8 386.5,44.9 383.9,50 383.9,55 389,62.6 386.5,66.4 387.7,74 385.2,77.8 386.5,85.4 383.9,90.5 382.7,95.5 381.4,100.6 377,111 374.6,130.3 373.4,154.3 372.2,178.4 370.3,188" stroke="#111" stroke-width="1.5" fill="none" stroke-linejoin="round"/>
<polyline points="381.4,15.8 382.7,19.6 380.8,23.4 382.7,27.2 381.4,31 383.9,34.8 385.2,38.6 383.9,42.4 389,43.6 400.4,44.3 390.3,45.5 383.9,46.8 380.1,50 380.1,53.8 381.4,57.6 383.9,61.4 385.2,65.2 382.7,69 383.9,72.8 381.4,77.8 382,82.9 381.4,87.9 380.1,94.3 378.9,100.6 379.4,101.4 377,118.2 375.8,135.1 374.6,154.3 375.8,166.3 383,171.1 385.4,175.9 379.4,178.4 374.6,183.2 370.3,188" stroke="#1a1ad8" stroke-width="2.4" fill="none" stroke-linejoin="round"/>
<polyline points="370.3,196 374.6,202 384.2,205.6 389.1,206.8 390.3,214.1 487.7,215.3 456.4,216.5 396.3,217.7 391.5,221.3 392.7,233.3 393.9,245.3 403.5,247.7 396.3,252.5 398.7,257.3 403.5,262.2 403.5,269.4 413.1,270.6 432.3,273 446.8,277.8 479.2,278.5 442,280.2 435.9,286.2 437.2,293.4 444.4,303 461.2,305.4 442,307.8 413.1,311.5 437.2,313.9 485.3,315.5 446.8,319.9 442,324.7 461.2,327.1 502.1,330 437.2,333.1 408.3,336.7 444.4,341.5 454,343.9 449.2,348.7 468.4,350.7 417.9,353.5 463.6,356.4 425.1,358.4 470.8,362 420.3,364.4 405.9,370.4 404.7,376.4" stroke="#22ee22" stroke-width="1.8" fill="none" stroke-linejoin="round"/>
<polyline points="370.3,197.2 374.6,215.3 398.7,216.5 379.4,218.9 374.6,233.3 375.8,252.5 379.4,269.4 384.2,276.6 386.6,286.2 389.1,300.6 391.5,310.3 414.3,316.3 393.9,319.9 391.5,324.7 386.6,334.3 384.2,346.3 381.8,358.4 384.2,360.8 379.4,370.4 378.2,376.4" stroke="#111" stroke-width="1.5" fill="none" stroke-linejoin="round"/>
<polyline points="370.3,197.2 372.2,204.4 374.6,214.1 375.8,226.1 374.6,238.1 377,252.5 378.2,262.2 381.8,269.4 389.1,274.2 393.9,279 407.1,279 391.5,281.4 389.1,291 391.5,300.6 396.3,305.4 384.2,312.7 393.9,317.5 389.1,324.7 405.9,330 391.5,333.1 379.4,337.9 389.1,343.9 393.9,348.7 384.2,353.5 398.7,357.1 386.6,359.6 409.5,362 391.5,365.6 384.2,370.4 380.6,376.4" stroke="#1a1ad8" stroke-width="2.2" fill="none" stroke-linejoin="round"/>
</g>
<path d="M370.6,196.5H564.6" stroke="#333" stroke-width="1.6" stroke-dasharray="10.5 4.2 3 4.3" fill="none"/>
<rect x="370.6" y="15.3" width="194" height="361.7" fill="none" stroke="#000" stroke-width="2"/>
<path d="M370.6,377h6 M564.6,377h-6 M370.6,358.9h3.5 M564.6,358.9h-3.5 M370.6,340.8h6 M564.6,340.8h-6 M370.6,322.7h3.5 M564.6,322.7h-3.5 M370.6,304.7h6 M564.6,304.7h-6 M370.6,286.6h3.5 M564.6,286.6h-3.5 M370.6,268.5h6 M564.6,268.5h-6 M370.6,250.4h3.5 M564.6,250.4h-3.5 M370.6,232.3h6 M564.6,232.3h-6 M370.6,214.2h3.5 M564.6,214.2h-3.5 M370.6,196.2h6 M564.6,196.2h-6 M370.6,178.1h3.5 M564.6,178.1h-3.5 M370.6,160h6 M564.6,160h-6 M370.6,141.9h3.5 M564.6,141.9h-3.5 M370.6,123.8h6 M564.6,123.8h-6 M370.6,105.7h3.5 M564.6,105.7h-3.5 M370.6,87.6h6 M564.6,87.6h-6 M370.6,69.6h3.5 M564.6,69.6h-3.5 M370.6,51.5h6 M564.6,51.5h-6 M370.6,33.4h3.5 M564.6,33.4h-3.5 M370.6,15.3h6 M564.6,15.3h-6 " stroke="#000" stroke-width="2" fill="none"/>
<g clip-path="url(#cc)">
<path d="M573.2,62.6 C574.7,61.6 579,58.6 582.7,56.3 C586.4,54 591.1,51.2 595.3,48.7 C599.5,46.2 603.8,42.2 608,41.1 C612.2,40.1 617.6,42 620.6,42.4 C623.7,42.8 625.4,43.4 626.3,43.6" stroke="#3a3ad6" stroke-width="1.7" fill="none" stroke-dasharray="1.5 1.6"/>
<path d="M573.2,33.5 C574.7,33.3 579,32.6 582.7,32.3 C586.4,31.9 591.1,31.8 595.3,31.6 C599.5,31.4 603.8,32.4 608,31 C612.2,29.6 617.6,25.1 620.6,23.4 C623.7,21.7 624.2,21.7 626.3,20.9 C628.4,20 630.9,19.1 633.3,18.3 C635.7,17.6 638.4,17.1 640.9,16.4 C643.4,15.8 647.2,14.8 648.5,14.5" stroke="#3a3ad6" stroke-width="1.7" fill="none" stroke-dasharray="1.5 1.6"/>
<path d="M573.2,28.5 C574.7,28.2 579,28 582.7,27.2 C586.4,26.3 591.5,25.1 595.3,23.4 C599.1,21.7 603.1,18.5 605.4,17.1 C607.8,15.6 608.6,15 609.2,14.5" stroke="#3a3ad6" stroke-width="1.7" fill="none" stroke-dasharray="1.5 1.6"/>
<path d="M573.2,87.9 C574.7,87.3 579,86.1 582.7,84.2 C586.4,82.3 591.1,79 595.3,76.6 C599.5,74.1 604.2,70.6 608,69.6 C611.8,68.5 615,69.8 618.1,70.2 C621.2,70.6 625,71.8 626.3,72.1" stroke="#e0202c" stroke-width="1.9" fill="none"/>
<path d="M573.2,63.9 C574.7,63.1 579,60.2 582.7,58.8 C586.4,57.5 591.1,56 595.3,55.7 C599.5,55.4 604.2,57.5 608,56.9 C611.8,56.4 615,54.2 618.1,52.5 C621.2,50.8 625,47.8 626.3,46.8" stroke="#e0202c" stroke-width="1.9" fill="none"/>
<path d="M573.2,51.9 C574.7,51.5 579,50.7 582.7,49.3 C586.4,48 591.1,45.3 595.3,43.6 C599.5,42 604.2,39.8 608,39.2 C611.8,38.6 615,39.5 618.1,39.8 C621.2,40.2 625,40.9 626.3,41.1" stroke="#e0202c" stroke-width="1.9" fill="none"/>
<path d="M573.2,50 C574.7,49.8 580,50.6 582.7,48.7 C585.3,46.8 586.9,41.7 589,38.6 C591.1,35.4 592.2,31.8 595.3,29.7 C598.5,27.6 603.8,27.2 608,25.9 C612.2,24.7 617.6,22.9 620.6,22.1 C623.7,21.4 623.8,22.1 626.3,21.5 C628.9,20.9 633,19.3 635.8,18.3 C638.7,17.4 641.3,16.4 643.4,15.8 C645.5,15.2 647.6,14.7 648.5,14.5" stroke="#e0202c" stroke-width="1.9" fill="none"/>
<path d="M573.2,27.2 C574.7,26.8 579.4,24.8 582.7,24.7 C585.9,24.6 589.6,27 592.8,26.6 C595.9,26.1 599.1,23.7 601.6,22.1 C604.2,20.5 606.3,18.3 608,17.1 C609.7,15.8 611.1,15 611.8,14.5" stroke="#e0202c" stroke-width="1.9" fill="none"/>
<path d="M573.2,19.6 C574.7,19.2 580,17.8 582.7,17.1 C585.3,16.3 587.9,15.5 589,15.2" stroke="#e0202c" stroke-width="1.9" fill="none"/>
<path d="M626.5,52.5 C628.1,51.2 632.4,47.1 636.2,44.4 C640,41.7 645.4,39.3 649.2,36.3 C653,33.3 655.7,28.2 658.9,26.6 C662.1,25 665.4,25 668.6,26.6 C671.9,28.2 675.1,33.3 678.3,36.3 C681.6,39.3 684.8,42.5 688.1,44.4 C691.3,46.3 694,46.8 697.8,47.7 C701.6,48.5 707.1,49 710.8,49.3 C714.4,49.6 716.4,50.4 719.7,49.6 C722.9,48.8 726.8,46.9 730.2,44.4 C733.6,41.9 737,37.9 739.9,34.7 C742.9,31.4 745.6,27.9 748,25 C750.5,22 753.4,18.2 754.5,16.9" stroke="#3a3ad6" stroke-width="1.7" fill="none" stroke-dasharray="1.5 1.6"/>
<path d="M773.2,16.9 C776,17.4 784.6,19 790.2,20.1 C795.7,21.2 799.6,22 806.4,23.3 C813.1,24.7 823.4,26.9 830.7,28.2 C838,29.6 844.1,30.6 850.1,31.4 C856.2,32.3 864.3,32.8 867.2,33.1" stroke="#3a3ad6" stroke-width="1.7" fill="none" stroke-dasharray="1.5 1.6"/>
<path d="M798.3,16.9 C801,18.8 809.1,23.6 814.5,28.2 C819.9,32.8 825.3,40.1 830.7,44.4 C836.1,48.7 840.8,51.2 846.9,54.1 C853,57.1 863.8,60.9 867.2,62.2" stroke="#3a3ad6" stroke-width="1.7" fill="none" stroke-dasharray="1.5 1.6"/>
<path d="M822.6,14.4 C825.3,15.6 833.4,19.4 838.8,21.7 C844.2,24 850.3,26.9 855,28.2 C859.7,29.6 865.1,29.6 867.2,29.8" stroke="#3a3ad6" stroke-width="1.7" fill="none" stroke-dasharray="1.5 1.6"/>
<path d="M626.5,70.3 C628.1,68.7 632.7,63.7 636.2,60.6 C639.7,57.5 643.8,53.5 647.6,51.7 C651.3,50 655.4,49.5 658.9,50.1 C662.4,50.6 665.4,52.4 668.6,54.9 C671.9,57.5 675.1,62.4 678.3,65.5 C681.6,68.6 684.8,71.7 688.1,73.6 C691.3,75.5 694.6,76.2 697.8,76.8 C701,77.5 704.3,77.8 707.5,77.6 C710.8,77.5 714.5,76.7 717.2,76 C719.9,75.3 721.6,75.1 723.7,73.6 C725.9,72.1 728,69.5 730.2,67.1 C732.4,64.7 734.5,61.7 736.7,59 C738.9,56.3 741,53.3 743.2,50.9 C745.3,48.5 747.2,46.3 749.7,44.4 C752.1,42.5 755.1,40.6 757.8,39.6 C760.5,38.5 763.3,38.2 765.9,37.9 C768.4,37.7 769.1,37.4 773.2,37.9 C777.2,38.5 784.6,40.1 790.2,41.2 C795.7,42.3 801,43.3 806.4,44.4 C811.8,45.5 817.2,46.7 822.6,47.7 C828,48.6 831.4,49.5 838.8,50.1 C846.2,50.6 862.4,50.8 867.2,50.9" stroke="#e0202c" stroke-width="1.9" fill="none"/>
<path d="M626.5,46.8 C628.1,46.4 633,45.4 636.2,44.4 C639.4,43.5 642.7,42.3 645.9,41.2 C649.2,40.1 652.4,39 655.7,37.9 C658.9,36.9 662.4,34.2 665.4,34.7 C668.4,35.2 670.8,39.6 673.5,41.2 C676.2,42.8 678.6,42.8 681.6,44.4 C684.6,46 688.1,48.3 691.3,50.9 C694.6,53.5 697.8,57.4 701,59.8 C704.3,62.2 707.7,64.3 710.8,65.5 C713.9,66.7 716.7,67.1 719.7,67.1 C722.6,67.1 725.8,66.6 728.6,65.5 C731.4,64.4 733.7,63.1 736.7,60.6 C739.7,58.2 743.4,53.9 746.4,50.9 C749.4,47.9 751.8,46 754.5,42.8 C757.2,39.6 760.2,35 762.6,31.4 C765.1,27.9 767.4,24 769.1,21.7 C770.9,19.4 769.6,17.4 773.2,17.7 C776.7,17.9 784.6,21 790.2,23.3 C795.7,25.6 801,28.7 806.4,31.4 C811.8,34.2 817.2,36.6 822.6,39.6 C828,42.5 834.2,45.8 838.8,49.3 C843.4,52.8 845.4,57.9 850.1,60.6 C854.9,63.3 864.3,64.7 867.2,65.5" stroke="#e0202c" stroke-width="1.9" fill="none"/>
<path d="M626.5,42.8 C628.6,42.3 635.7,41.4 639.4,39.6 C643.2,37.7 646.5,33.6 649.2,31.4 C651.9,29.3 653.5,28.2 655.7,26.6 C657.8,25 660,23.3 662.1,21.7 C664.3,20.1 666.7,18.1 668.6,16.9 C670.5,15.6 672.7,14.8 673.5,14.4" stroke="#e0202c" stroke-width="1.9" fill="none"/>
<path d="M626.5,33.1 C628.6,32.5 635.1,31.7 639.4,29.8 C643.8,27.9 649.2,23.6 652.4,21.7 C655.7,19.8 656.2,19.3 658.9,18.5 C661.6,17.7 665.4,16.6 668.6,16.9 C671.9,17.1 675.6,18.8 678.3,20.1 C681,21.5 683.7,24.2 684.8,25" stroke="#e0202c" stroke-width="1.9" fill="none"/>
<path d="M827.5,15.2 C829.6,18.8 836.6,28.7 840.4,36.3 C844.2,43.9 847.2,53.3 850.1,60.6 C853.1,67.9 855.4,75.5 858.2,80.1 C861.1,84.7 865.7,86.8 867.2,88.2" stroke="#e0202c" stroke-width="1.9" fill="none"/>
<path d="M782.1,15.2 C784.8,15.8 792.9,17.4 798.3,18.5 C803.7,19.6 809.1,20.4 814.5,21.7 C819.9,23.1 825.3,25.5 830.7,26.6 C836.1,27.7 840.8,27.7 846.9,28.2 C853,28.7 863.8,29.6 867.2,29.8" stroke="#e0202c" stroke-width="1.9" fill="none"/>
<path d="M838.8,15.2 C841,16.3 847,20.1 851.8,21.7 C856.5,23.3 864.6,24.4 867.2,25" stroke="#e0202c" stroke-width="1.9" fill="none"/>
<path d="M572.9,204.3 C574,205.9 577.2,209 579.5,213.8 C581.8,218.6 584.3,225.7 586.7,232.9 C589,240 591.4,247.9 593.8,256.7 C596.2,265.4 598.6,276.9 601,285.2 C603.3,293.6 605.3,299.9 608.1,306.7 C610.9,313.4 614.5,321 617.6,325.7 C620.7,330.5 623.5,333.5 626.7,335.2 C629.8,337 632.6,336 636.7,336.4 C640.7,336.8 647,336.4 651,337.6 C654.9,338.8 657.3,342.4 660.5,343.6 C663.7,344.8 668.4,344.6 670,344.8" stroke="#3a3ad6" stroke-width="1.7" fill="none" stroke-dasharray="1.5 1.6"/>
<path d="M572.9,232.9 C574.8,233.3 580,232.9 584.3,235.2 C588.6,237.6 593.8,242.8 598.6,247.1 C603.3,251.5 608.2,256.9 612.9,261.4 C617.5,266 622.7,271 626.7,274.5 C630.6,278.1 633.4,279.1 636.7,282.9 C639.9,286.6 643,293.2 646.2,297.1 C649.4,301.1 652.5,303.9 655.7,306.7 C658.9,309.4 661.7,311.8 665.2,313.8 C668.8,315.8 675.2,317.8 677.1,318.6" stroke="#3a3ad6" stroke-width="1.7" fill="none" stroke-dasharray="1.5 1.6"/>
<path d="M572.9,313.8 C575.6,313 583.2,311 589,309 C594.9,307.1 601.8,305.5 608.1,301.9 C614.4,298.3 621.9,289.2 626.7,287.6 C631.4,286 633.4,290.4 636.7,292.4 C639.9,294.4 643,297.9 646.2,299.5 C649.4,301.1 651.7,301.9 655.7,301.9 C659.7,301.9 665.6,300.7 670,299.5 C674.4,298.3 677.9,297.5 681.9,294.8 C685.9,292 689.8,286.8 693.8,282.9 C697.8,278.9 701.3,273.7 705.7,271 C710.1,268.2 717.6,267 720,266.2" stroke="#3a3ad6" stroke-width="1.7" fill="none" stroke-dasharray="1.5 1.6"/>
<path d="M572.9,321 C576.3,320.2 586.7,317.8 593.8,316.2 C600.9,314.6 609.8,312.4 615.2,311.4 C620.7,310.4 622.3,309.8 626.7,310.2 C631,310.6 636.6,312.4 641.4,313.8 C646.3,315.2 651,319.4 655.7,318.6 C660.5,317.8 665.6,311 670,309 C674.4,307.1 677.1,306.7 681.9,306.7 C686.7,306.7 692.2,308.1 698.6,309 C704.9,310 716.4,312 720,312.6" stroke="#3a3ad6" stroke-width="1.7" fill="none" stroke-dasharray="1.5 1.6"/>
<path d="M572.9,341.2 C576.3,340.8 586.7,339.4 593.8,338.8 C600.9,338.2 609.8,337.2 615.2,337.6 C620.7,338 622.3,339.6 626.7,341.2 C631,342.8 637,345 641.4,347.1 C645.9,349.3 649.4,352.7 653.3,354.3 C657.3,355.9 660.1,355.5 665.2,356.7 C670.4,357.9 677.9,359.8 684.3,361.4 C690.6,363 697.4,363.8 703.3,366.2 C709.3,368.6 717.2,374.1 720,375.7" stroke="#3a3ad6" stroke-width="1.7" fill="none" stroke-dasharray="1.5 1.6"/>
<path d="M646.2,318.6 C647.8,321 652.5,330.1 655.7,332.9 C658.9,335.6 661.3,334.4 665.2,335.2 C669.2,336 674,337 679.5,337.6 C685.1,338.2 691.8,339 698.6,338.8 C705.3,338.6 716.4,336.8 720,336.4" stroke="#3a3ad6" stroke-width="1.7" fill="none" stroke-dasharray="1.5 1.6"/>
<path d="M572.9,200.7 C574,201.7 576.8,202.5 579.5,206.7 C582.2,210.8 586.3,219 589,225.7 C591.8,232.5 593.8,239.6 596.2,247.1 C598.6,254.7 601,263 603.3,271 C605.7,278.9 607.9,287.8 610.5,294.8 C613.1,301.7 616.1,309 618.8,312.6 C621.5,316.2 622.9,315.2 626.7,316.2 C630.4,317.2 635.8,317.4 641.4,318.6 C647.1,319.8 654.9,321.3 660.5,323.3 C666,325.3 669.2,328.1 674.8,330.5 C680.3,332.9 688.3,335.4 693.8,337.6 C699.4,339.8 703.7,341.4 708.1,343.6 C712.5,345.8 718,349.5 720,350.7" stroke="#e0202c" stroke-width="1.9" fill="none"/>
<path d="M572.9,223.3 C574.8,224.1 580,225.7 584.3,228.1 C588.6,230.5 593.8,233.7 598.6,237.6 C603.3,241.6 608.2,247.5 612.9,251.9 C617.5,256.3 623.1,261.4 626.7,263.8 C630.2,266.2 631.8,263.8 634.3,266.2 C636.7,268.6 638.7,273.3 641.4,278.1 C644.2,282.9 647.8,290 651,294.8 C654.1,299.5 656.9,303.5 660.5,306.7 C664,309.8 667.6,311.8 672.4,313.8 C677.1,315.8 683.1,317.6 689,318.6 C695,319.6 702.9,319.6 708.1,319.8 C713.3,320 718,319.8 720,319.8" stroke="#e0202c" stroke-width="1.9" fill="none"/>
<path d="M572.9,298.3 C575.6,297.7 583.2,296.9 589,294.8 C594.9,292.6 601.8,288.8 608.1,285.2 C614.4,281.7 621.9,274.9 626.7,273.3 C631.4,271.7 633.8,274.5 636.7,275.7 C639.5,276.9 639.8,279.3 643.8,280.5 C647.8,281.7 654.9,282.5 660.5,282.9 C666,283.3 673.2,283.7 677.1,282.9 C681.1,282.1 681.5,280.9 684.3,278.1 C687.1,275.3 690.2,269.8 693.8,266.2 C697.4,262.6 701.3,258.7 705.7,256.7 C710.1,254.6 717.6,254.3 720,253.8" stroke="#e0202c" stroke-width="1.9" fill="none"/>
<path d="M572.9,303.1 C575.6,302.5 583.2,300.9 589,299.5 C594.9,298.1 601.8,296 608.1,294.8 C614.4,293.6 621.1,292 626.7,292.4 C632.2,292.8 636.6,295.6 641.4,297.1 C646.3,298.7 651,302.3 655.7,301.9 C660.5,301.5 666,296.9 670,294.8 C674,292.6 674.8,289.4 679.5,288.8 C684.3,288.2 691.8,290.4 698.6,291.2 C705.3,292 716.4,293.2 720,293.6" stroke="#e0202c" stroke-width="1.9" fill="none"/>
<path d="M572.9,321 C576.3,320.8 586.7,320.2 593.8,319.8 C600.9,319.4 609.8,317.8 615.2,318.6 C620.7,319.4 622.7,323.3 626.7,324.5 C630.6,325.7 635,324.3 639,325.7 C643.1,327.1 647.4,329.7 651,332.9 C654.5,336 657.7,340 660.5,344.8 C663.3,349.5 665.6,355.9 667.6,361.4 C669.6,367 671.6,375.3 672.4,378.1" stroke="#e0202c" stroke-width="1.9" fill="none"/>
<path d="M617.6,378.1 C619.1,376.4 622.7,369.9 626.7,368.1 C630.6,366.3 636.6,367.3 641.4,367.4 C646.3,367.5 651.7,367.6 655.7,368.6 C659.7,369.6 662.9,371.7 665.2,373.3 C667.6,374.9 669.2,377.3 670,378.1" stroke="#e0202c" stroke-width="1.9" fill="none"/>
<path d="M719.5,266.2 C721.9,267.4 729,270.2 733.8,273.3 C738.6,276.5 743.3,282.1 748.1,285.2 C752.9,288.4 758.2,290.9 762.4,292.4 C766.5,293.9 768.7,294.3 773.1,294.3 C777.5,294.3 784,293.5 788.6,292.4 C793.1,291.3 796.9,290 800.5,287.6 C804,285.2 806.8,281.7 810,278.1 C813.2,274.5 816.3,270.6 819.5,266.2 C822.7,261.8 825.9,257.1 829,251.9 C832.2,246.7 835.4,240.4 838.6,235.2 C841.7,230.1 844.9,225.3 848.1,221 C851.3,216.6 854.6,211.8 857.6,209 C860.6,206.3 864.6,205.1 866,204.3" stroke="#3a3ad6" stroke-width="1.7" fill="none" stroke-dasharray="1.5 1.6"/>
<path d="M719.5,311.9 C720.3,311.8 721.1,311.1 724.3,311.4 C727.5,311.7 734.2,311.8 738.6,313.8 C742.9,315.8 746.5,319.4 750.5,323.3 C754.4,327.3 758.6,333.7 762.4,337.6 C766.2,341.6 769.1,346 773.1,347.1 C777.1,348.3 781.6,346.3 786.2,344.8 C790.8,343.2 795.7,340.4 800.5,337.6 C805.2,334.8 810,331.1 814.8,328.1 C819.5,325.1 823.9,321.5 829,319.8 C834.2,318 839.6,318 845.7,317.4 C851.9,316.8 862.6,316.4 866,316.2" stroke="#3a3ad6" stroke-width="1.7" fill="none" stroke-dasharray="1.5 1.6"/>
<path d="M719.5,336.4 C721.1,337.8 725.9,340.6 729,344.8 C732.2,348.9 735.8,355.9 738.6,361.4 C741.3,367 744.5,375.3 745.7,378.1" stroke="#3a3ad6" stroke-width="1.7" fill="none" stroke-dasharray="1.5 1.6"/>
<path d="M752.9,378.1 C754.8,377.3 761.4,374.5 764.8,373.3 C768.1,372.1 769.5,372.5 773.1,371 C776.7,369.4 780.8,366.6 786.2,363.8 C791.5,361 798.9,357.1 805.2,354.3 C811.6,351.5 817.9,349.1 824.3,347.1 C830.6,345.2 836.4,343.6 843.3,342.4 C850.3,341.2 862.2,340.4 866,340" stroke="#3a3ad6" stroke-width="1.7" fill="none" stroke-dasharray="1.5 1.6"/>
<path d="M810,378.1 C812,373.7 817.9,361 821.9,351.9 C825.9,342.8 830.2,332.9 833.8,323.3 C837.4,313.8 840.2,303.9 843.3,294.8 C846.5,285.6 849.7,276.9 852.9,268.6 C856,260.2 860.2,249.9 862.4,244.8 C864.6,239.6 865.4,238.8 866,237.6" stroke="#3a3ad6" stroke-width="1.7" fill="none" stroke-dasharray="1.5 1.6"/>
<path d="M833.8,378.1 C835.4,374.5 840.2,363 843.3,356.7 C846.5,350.3 849.1,344.8 852.9,340 C856.6,335.2 863.8,330.1 866,328.1" stroke="#3a3ad6" stroke-width="1.7" fill="none" stroke-dasharray="1.5 1.6"/>
<path d="M719.5,253.8 C721.1,254.7 725.5,256.6 729,259 C732.6,261.5 737,266 741,268.6 C744.9,271.2 747.5,273.1 752.9,274.5 C758.2,275.9 767.1,276.7 773.1,276.9 C779,277.1 784,276.5 788.6,275.7 C793.1,274.9 796.9,274.1 800.5,272.1 C804,270.2 806.8,267.2 810,263.8 C813.2,260.4 816.3,256.3 819.5,251.9 C822.7,247.5 825.9,242.4 829,237.6 C832.2,232.9 835.4,227.7 838.6,223.3 C841.7,219 844.9,214.6 848.1,211.4 C851.3,208.3 854.6,206.1 857.6,204.3 C860.6,202.5 864.6,201.3 866,200.7" stroke="#e0202c" stroke-width="1.9" fill="none"/>
<path d="M719.5,292.9 C721.9,293.2 729,292.9 733.8,294.8 C738.6,296.7 743.3,299.9 748.1,304.3 C752.9,308.7 758.2,317 762.4,321 C766.5,324.9 769.5,327.3 773.1,328.1 C776.7,328.9 780,328.1 783.8,325.7 C787.6,323.3 791.3,317.8 795.7,313.8 C800.1,309.8 804.4,304.7 810,301.9 C815.6,299.1 822.7,297.7 829,297.1 C835.4,296.5 841.9,297.9 848.1,298.3 C854.2,298.7 863,299.3 866,299.5" stroke="#e0202c" stroke-width="1.9" fill="none"/>
<path d="M719.5,319.8 C721.9,321.9 729.4,328.3 733.8,332.9 C738.2,337.4 741.7,343.6 745.7,347.1 C749.7,350.7 753.3,352.7 757.6,354.3 C762,355.9 767.1,355.9 771.9,356.7 C776.7,357.5 781.4,357.5 786.2,359 C791,360.6 796.1,364.2 800.5,366.2 C804.8,368.2 809.2,369.8 812.4,371 C815.6,372.1 817.5,373.7 819.5,373.3 C821.5,372.9 821.9,371.3 824.3,368.6 C826.7,365.8 830.6,361 833.8,356.7 C837,352.3 840.2,347.9 843.3,342.4 C846.5,336.8 849.7,328.9 852.9,323.3 C856,317.8 860.2,312.2 862.4,309 C864.6,305.9 865.4,305.1 866,304.3" stroke="#e0202c" stroke-width="1.9" fill="none"/>
<path d="M719.5,349 C721.9,349.3 727.5,350.6 733.8,350.7 C740.2,350.8 751.1,350.1 757.6,349.5 C764.2,348.9 767.9,348.3 773.1,347.1 C778.3,346 783.2,344.4 788.6,342.4 C793.9,340.4 799.3,337.6 805.2,335.2 C811.2,332.9 817.9,330.1 824.3,328.1 C830.6,326.1 836.4,324.5 843.3,323.3 C850.3,322.1 862.2,321.3 866,321" stroke="#e0202c" stroke-width="1.9" fill="none"/>
<path d="M798.1,378.1 C800.1,374.5 806,364.2 810,356.7 C814,349.1 817.9,341.6 821.9,332.9 C825.9,324.1 830.2,313 833.8,304.3 C837.4,295.6 840.2,289.2 843.3,280.5 C846.5,271.7 850.1,259.8 852.9,251.9 C855.6,244 857.8,237.6 860,232.9 C862.2,228.1 865,224.9 866,223.3" stroke="#e0202c" stroke-width="1.9" fill="none"/>
<path d="M843.3,378.1 C844.5,374.5 848.1,363.4 850.5,356.7 C852.9,349.9 855,343.2 857.6,337.6 C860.2,332.1 864.6,325.7 866,323.3" stroke="#e0202c" stroke-width="1.9" fill="none"/>
<path d="M573,90.6 C575.5,90.8 583.2,91.8 588,91.9 C592.8,92 597.3,91.5 601.6,91.1 C605.9,90.6 609.9,89.7 614,89.2 C618.1,88.7 623.1,88.8 626.3,88 C629.5,87.2 630.6,86.7 633,84.2 C635.4,81.7 638.4,76.6 640.9,72.8 C643.4,69 645.5,64.6 648,61.4 C650.5,58.2 653.4,55.8 656,53.8 C658.6,51.8 661.8,49.7 663.7,49.3 C665.6,48.9 666.2,49.6 667.5,51.2 C668.8,52.8 669.8,55.8 671.3,58.8 C672.8,61.8 674.6,65.5 676.3,69 C678,72.5 679.5,76.1 681.4,80 C683.3,83.9 685.6,88.2 687.7,92.4 C689.8,96.6 691.6,100.7 694,105 C696.4,109.3 699.6,114.3 702.3,118 C705,121.7 707.1,124.8 710,127 C712.9,129.2 716.3,132.8 719.5,131.5 C722.7,130.2 725.8,125 729,119 C732.2,113 735.4,102.4 738.6,95.3 C741.8,88.2 744.8,82.2 748,76.3 C751.2,70.3 754.4,63.8 757.6,59.6 C760.8,55.4 764.4,53.1 767,51.3 C769.6,49.5 769.8,49.5 773,48.9 C776.2,48.3 780.7,47.5 786,47.7 C791.3,47.9 799.4,48.4 805,50 C810.6,51.6 815.1,54 819.5,57.2 C823.9,60.4 827.4,65.4 831.4,69 C835.4,72.6 838.9,75.9 843.3,78.7 C847.7,81.5 853.6,84 857.6,85.8 C861.6,87.6 865.4,88.8 867,89.4" stroke="#e0202c" stroke-width="1.9" fill="none"/>
<path d="M573.2,63.9 C574.8,63.8 579,63.5 582.7,63.3 C586.4,63.1 591.1,63 595.3,62.6 C599.5,62.2 602.8,61.3 608,60.7 C613.2,60.1 622.1,59.8 626.3,58.8 C630.5,57.8 630.9,56.9 633.3,55 C635.7,53.1 638.4,50.4 640.9,47.4 C643.4,44.4 646,40.7 648.5,37.3 C651,33.9 653.5,29.8 656,27.2 C658.5,24.6 661.6,22.4 663.7,21.5 C665.8,20.6 666.8,20.5 668.7,22.1 C670.6,23.7 673.1,27.6 675,31 C676.9,34.4 678.3,38.4 680,42.4 C681.7,46.4 683.3,50.8 685.2,55 C687.1,59.2 689.4,63.5 691.5,67.7 C693.6,71.9 695.7,76.6 697.8,80.4 C699.9,84.2 701.9,87.1 704.2,90.5 C706.5,93.9 709.2,98.2 711.8,100.6 C714.3,103 716.2,105.8 719.5,104.9 C722.8,104 727.8,99.7 731.4,95.3 C735,90.9 738.2,84.7 741,78.7 C743.8,72.8 745.7,66.8 748,59.6 C750.3,52.5 753,42.6 755,35.8 C757,29 758.8,23 760,19 C761.2,15 761.7,13.2 762,12" stroke="#3a3ad6" stroke-width="1.7" fill="none" stroke-dasharray="1.5 1.6"/>
<path d="M699.9,378 C700.8,377 703,373.9 705,372 C707,370.1 709.6,367.8 712,366.5 C714.4,365.2 716.4,364.9 719.1,364.4 C721.8,363.9 724.8,363.7 728,363.5 C731.2,363.3 735.4,362.8 738.4,363.2 C741.4,363.6 743.9,364.7 746,366 C748.1,367.3 749.5,369 751,371 C752.5,373 754.5,376.8 755.2,378" stroke="#e0202c" stroke-width="1.9" fill="none"/>
</g>
<path d="M572.7,196.5H866" stroke="#333" stroke-width="1.6" stroke-dasharray="10.5 4.2 3 4.3" fill="none"/>
<path d="M626.5,15.3V377M719.5,15.3V377M773.3,15.3V377" stroke="#1a1a1a" stroke-width="1.7" fill="none"/>
<rect x="749.5" y="73" width="95" height="204" fill="#ffff00" fill-opacity="0.42"/>
<rect x="753.6" y="145.5" width="51.9" height="126.3" fill="none" stroke="#1a1ab8" stroke-width="2.4" stroke-dasharray="4.5 2.5"/>
<path d="M779.8,209.3V84" stroke="#222" stroke-width="1.2"/>
<path d="M776.8,87 L779.8,80 L782.8,87 Z" fill="#111"/>
<path d="M779.8,209.3H833" stroke="#222" stroke-width="1.2"/>
<path d="M832,206.3 L839,209.3 L832,212.3 Z" fill="#111"/>
<circle cx="779.8" cy="145.5" r="2.8" fill="#111"/>
<circle cx="790.9" cy="146" r="2.8" fill="#111"/>
<circle cx="804.8" cy="145.5" r="2.8" fill="#111"/>
<circle cx="805.5" cy="191.3" r="2.8" fill="#111"/>
<circle cx="779.8" cy="209.3" r="2.8" fill="#111"/>
<circle cx="805.5" cy="209.3" r="2.8" fill="#111"/>
<text x="772.3" y="142.5" font-size="13" fill="#000" text-anchor="middle" >Y</text>
<text x="791" y="161" font-size="13" fill="#000" text-anchor="middle" >P</text>
<text x="814.5" y="151" font-size="14" fill="#000" text-anchor="middle" >S</text>
<text x="815.5" y="196" font-size="13" fill="#000" text-anchor="middle" >P'</text>
<text x="771.5" y="214.5" font-size="13" fill="#000" text-anchor="middle" font-style="italic">G</text>
<text x="797.5" y="222" font-size="13" fill="#000" text-anchor="middle" >X</text>
<text x="762" y="92" font-size="13.5" font-style="italic">k<tspan font-size="10" dy="3">y</tspan></text>
<text x="826" y="223" font-size="13.5" font-style="italic">k<tspan font-size="10" dy="3">x</tspan></text>
<rect x="572.7" y="15.3" width="293.3" height="361.7" fill="none" stroke="#000" stroke-width="2"/>
<path d="M572.7,377h6 M866,377h-6 M572.7,358.9h3.5 M866,358.9h-3.5 M572.7,340.8h6 M866,340.8h-6 M572.7,322.7h3.5 M866,322.7h-3.5 M572.7,304.7h6 M866,304.7h-6 M572.7,286.6h3.5 M866,286.6h-3.5 M572.7,268.5h6 M866,268.5h-6 M572.7,250.4h3.5 M866,250.4h-3.5 M572.7,232.3h6 M866,232.3h-6 M572.7,214.2h3.5 M866,214.2h-3.5 M572.7,196.2h6 M866,196.2h-6 M572.7,178.1h3.5 M866,178.1h-3.5 M572.7,160h6 M866,160h-6 M572.7,141.9h3.5 M866,141.9h-3.5 M572.7,123.8h6 M866,123.8h-6 M572.7,105.7h3.5 M866,105.7h-3.5 M572.7,87.6h6 M866,87.6h-6 M572.7,69.6h3.5 M866,69.6h-3.5 M572.7,51.5h6 M866,51.5h-6 M572.7,33.4h3.5 M866,33.4h-3.5 M572.7,15.3h6 M866,15.3h-6 " stroke="#000" stroke-width="2" fill="none"/>
<g clip-path="url(#cdc)">
<polyline points="875.6,121.5 879.1,107.2 886.3,90.6 895.8,85.8 903,81 898.2,73.9 907.7,70.3 900.6,66.8 903,62 923.2,59.6 905.3,58.4 907.7,53.7 914.9,51.3 912.5,47.7 922,47.7 910.1,45.3 907.7,40.6 936.3,37 914.9,35.8 910.1,33.4 903,31 898.2,28.7 898.2,23.9 905.3,21.5 912.5,19.1 907.7,15.6" stroke="#22ee22" stroke-width="1.8" fill="none" stroke-linejoin="round"/>
<polyline points="875.6,121.5 879.1,102.5 883.9,93 886.3,85.8 888.7,78.7 891,71.5 893.4,66.8 895.8,62 903,60.8 898.2,57.2 895.8,52.5 900.6,47.7 894.6,45.3 893.4,40.6 905.3,37 893.4,34.6 888.7,31 886.3,26.3 888.7,21.5 891,16.8" stroke="#1a1ad8" stroke-width="1.8" fill="none" stroke-linejoin="round"/>
<polyline points="875.6,119.1 879.1,90.6 881.5,83.4 883.9,78.7 886.3,70.3 883.9,66.8 886.3,62 883.9,57.2 882.7,50.1 886.3,45.3 883.9,38.2 888.7,35.8 886.3,31 883.9,26.3 885.1,19.1 886.3,15.6" stroke="#111" stroke-width="1.5" fill="none" stroke-linejoin="round"/>
<polyline points="875.6,116.8 876.8,90.6 878,83.4 880.3,71.5 879.1,59.6 881.5,52.5 880.3,45.3 882.7,40.6 881.5,35.8 891,35.8 882.7,32.2 881.5,26.3 880.3,21.5 883.9,16.8" stroke="#e0202c" stroke-width="1.6" fill="none" stroke-linejoin="round"/>
<polyline points="875.6,194.8 879.1,204.3 883.9,216.2 888.7,225.7 893.4,237.6 898.2,249.5 914.9,256.7 931.5,259 914.9,261.4 913.7,266.2 919.6,269.8 943.4,272.1 914.9,274.5 903,276.9 931.5,279.3 895.8,281.7 1010.1,284 976.8,285.2 981.5,287.6 1000.6,288.8 972,291.2 948.2,292.4 988.7,293.6 919.6,294.8 910.1,297.1 905.3,301.9 907.7,306.7 914.9,310.2 933.9,312.6 1067.2,316.7 967.2,319.8 919.6,324.5 910.1,330.5 914.9,334 931.5,334.8 919.6,337.6 922,340 929.1,342.4 910.1,344.8 933.9,346 903,348.3 895.8,351.9 953,354.3 907.7,356.7 903,360.2 929.1,361.9 910.1,363.8 972,367.4 914.9,371 948.2,372.1 919.6,375.7" stroke="#22ee22" stroke-width="1.8" fill="none" stroke-linejoin="round"/>
<polyline points="875.6,194.8 879.1,213.8 881.5,228.1 886.3,249.5 895.8,254.3 910.1,259 900.6,263.8 899.4,269.8 914.9,272.1 895.8,274.5 888.7,278.1 893.4,284 929.1,287.6 900.6,290 893.4,292.4 886.3,297.1 885.1,304.3 888.7,311.4 919.6,315 900.6,318.6 891,323.3 888.7,330.5 891,337.6 898.2,343.6 886.3,347.1 883.9,354.3 888.7,361.4 883.9,368.6 886.3,375.7" stroke="#111" stroke-width="1.5" fill="none" stroke-linejoin="round"/>
<polyline points="875.6,194.8 878,204.3 879.1,216.2 881.5,228.1 885.1,244.8 886.3,251.9 893.4,259 888.7,263.8 886.3,268.6 881.5,273.3 883.9,278.1 886.3,282.9 891,287.6 895.8,290 903,292.4 893.4,294.8 886.3,299.5 883.9,304.3 888.7,310.2 903,313.8 938.7,316.2 907.7,318.6 891,323.3 886.3,330.5 891,335.2 898.2,334.5 893.4,340 886.3,347.1 888.7,354.3 883.9,359 903,361.4 891,363.8 912.5,367.4 898.2,371 914.9,373.3 895.8,375.7" stroke="#1a1ad8" stroke-width="1.8" fill="none" stroke-linejoin="round"/>
<polyline points="875.6,194.8 876.8,213.8 876.8,237.6 878,261.4 883.9,268.6 879.1,273.3 878,278.1 881.5,280.5 891,285.2 914.9,286.4 905.3,288.8 919.6,291.2 907.7,293.6 895.8,292.4 888.7,294.8 886.3,301.9 891,309 907.7,313.8 945.8,316.2 910.1,318.6 893.4,322.1 888.7,328.1 886.3,335.2 893.4,342.4 881.5,347.1 879.1,354.3 895.8,356.7 881.5,361.4 886.3,366.2 881.5,371 886.3,373.3 881.5,375.7" stroke="#e0202c" stroke-width="1.6" fill="none" stroke-linejoin="round"/>
</g>
<path d="M875.8,196.5H1070.5" stroke="#333" stroke-width="1.6" stroke-dasharray="10.5 4.2 3 4.3" fill="none"/>
<rect x="875.8" y="15.3" width="194.7" height="361.7" fill="none" stroke="#000" stroke-width="2"/>
<path d="M875.8,377h6 M1070.5,377h-6 M875.8,358.9h3.5 M1070.5,358.9h-3.5 M875.8,340.8h6 M1070.5,340.8h-6 M875.8,322.7h3.5 M1070.5,322.7h-3.5 M875.8,304.7h6 M1070.5,304.7h-6 M875.8,286.6h3.5 M1070.5,286.6h-3.5 M875.8,268.5h6 M1070.5,268.5h-6 M875.8,250.4h3.5 M1070.5,250.4h-3.5 M875.8,232.3h6 M1070.5,232.3h-6 M875.8,214.2h3.5 M1070.5,214.2h-3.5 M875.8,196.2h6 M1070.5,196.2h-6 M875.8,178.1h3.5 M1070.5,178.1h-3.5 M875.8,160h6 M1070.5,160h-6 M875.8,141.9h3.5 M1070.5,141.9h-3.5 M875.8,123.8h6 M1070.5,123.8h-6 M875.8,105.7h3.5 M1070.5,105.7h-3.5 M875.8,87.6h6 M1070.5,87.6h-6 M875.8,69.6h3.5 M1070.5,69.6h-3.5 M875.8,51.5h6 M1070.5,51.5h-6 M875.8,33.4h3.5 M1070.5,33.4h-3.5 M875.8,15.3h6 M1070.5,15.3h-6 " stroke="#000" stroke-width="2" fill="none"/>
<g clip-path="url(#cd)">
<path d="M1087.9,48.9 C1089.8,48.3 1095,47.1 1099.3,45.3 C1103.6,43.5 1108.8,39.8 1113.6,38.2 C1118.3,36.6 1122.8,37 1127.9,35.8 C1132.9,34.6 1139.3,33.4 1144,31 C1148.8,28.7 1152.8,23.7 1156.4,21.5 C1160.1,19.3 1162.8,18.9 1166,18 C1169.1,17 1173.9,16 1175.5,15.6" stroke="#3a3ad6" stroke-width="1.7" fill="none" stroke-dasharray="1.5 1.6"/>
<path d="M1087.9,60.8 C1089.8,61 1095.8,62 1099.3,62 C1102.8,62 1104.8,62.2 1108.8,60.8 C1112.8,59.4 1118.3,56.6 1123.1,53.7 C1127.9,50.7 1133.4,46.3 1137.4,43 C1141.3,39.6 1143.7,36.2 1146.9,33.4 C1150.1,30.7 1153.3,28.5 1156.4,26.3 C1159.6,24.1 1164.4,21.3 1166,20.3" stroke="#3a3ad6" stroke-width="1.7" fill="none" stroke-dasharray="1.5 1.6"/>
<path d="M1166,16.8 C1168.3,17.6 1175.9,18.7 1180.2,21.5 C1184.6,24.3 1188.2,28.7 1192.1,33.4 C1196.1,38.2 1200.5,45.3 1204,50.1 C1207.6,54.9 1210.4,58.4 1213.6,62 C1216.7,65.6 1219.9,68.7 1223.1,71.5 C1226.3,74.3 1229.9,77.1 1232.6,78.7 C1235.3,80.3 1238.2,80.7 1239.3,81" stroke="#3a3ad6" stroke-width="1.7" fill="none" stroke-dasharray="1.5 1.6"/>
<path d="M1144,16.8 C1146.1,17.2 1150.4,18.7 1156.4,19.1 C1162.5,19.5 1173.1,18.5 1180.2,19.1 C1187.4,19.7 1192.9,21.9 1199.3,22.7 C1205.6,23.5 1211.7,23.3 1218.3,23.9 C1225,24.5 1235.8,25.9 1239.3,26.3" stroke="#3a3ad6" stroke-width="1.7" fill="none" stroke-dasharray="1.5 1.6"/>
<path d="M1087.9,90.6 C1090.6,90.2 1098.2,89.8 1104,88.2 C1109.9,86.6 1117.5,83.8 1123.1,81 C1128.7,78.3 1133.9,74.1 1137.4,71.5 C1140.9,68.9 1141.3,67.6 1144,65.6 C1146.8,63.6 1150.4,62 1154,59.6 C1157.7,57.2 1162.8,53.1 1166,51.3 C1169.1,49.5 1169.9,48.3 1173.1,48.9 C1176.3,49.5 1181,51.9 1185,54.9 C1189,57.8 1192.9,62.4 1196.9,66.8 C1200.9,71.1 1204.8,76.3 1208.8,81 C1212.8,85.8 1217.1,91.2 1220.7,95.3 C1224.3,99.5 1227.1,103.5 1230.2,106 C1233.3,108.6 1237.8,110 1239.3,110.8" stroke="#e0202c" stroke-width="1.9" fill="none"/>
<path d="M1087.9,73.9 C1090.6,73.1 1098.6,71.5 1104,69.1 C1109.5,66.8 1116,62.8 1120.7,59.6 C1125.5,56.4 1128.7,52.5 1132.6,50.1 C1136.5,47.7 1140.1,45.9 1144,45.3 C1148,44.7 1152,46.1 1156.4,46.5 C1160.9,46.9 1166,47.3 1170.7,47.7 C1175.5,48.1 1180.2,48.3 1185,48.9 C1189.8,49.5 1194.9,50.5 1199.3,51.3 C1203.7,52.1 1206.8,53.7 1211.2,53.7 C1215.6,53.7 1220.8,52.3 1225.5,51.3 C1230.2,50.3 1237,48.3 1239.3,47.7" stroke="#e0202c" stroke-width="1.9" fill="none"/>
<path d="M1087.9,60.8 C1089.8,61 1095.4,62.4 1099.3,62 C1103.2,61.6 1107.2,60 1111.2,58.4 C1115.2,56.8 1119.5,54.7 1123.1,52.5 C1126.7,50.3 1129.1,47.7 1132.6,45.3 C1136.1,43 1140.5,40.6 1144,38.2 C1147.6,35.8 1150.8,33.4 1154,31 C1157.3,28.7 1160.8,25.9 1163.6,23.9 C1166.3,21.9 1169.5,19.9 1170.7,19.1" stroke="#e0202c" stroke-width="1.9" fill="none"/>
<path d="M1087.9,18 C1089.4,20.1 1093.4,26.9 1096.9,31 C1100.4,35.2 1104.8,40.2 1108.8,43 C1112.8,45.7 1116.7,47.3 1120.7,47.7 C1124.7,48.1 1128.7,46.5 1132.6,45.3 C1136.5,44.1 1140.1,43.7 1144,40.6 C1148,37.4 1153.2,29.9 1156.4,26.3 C1159.7,22.7 1162.4,20.3 1163.6,19.1" stroke="#e0202c" stroke-width="1.9" fill="none"/>
<path d="M1116,15.6 C1117.9,17.4 1124.3,23.3 1127.9,26.3 C1131.4,29.3 1134.7,31.4 1137.4,33.4 C1140.1,35.4 1141.7,38.6 1144,38.2 C1146.4,37.8 1149.2,33.6 1151.7,31 C1154.1,28.5 1156.8,24.9 1158.8,22.7 C1160.8,20.5 1162.8,18.7 1163.6,18" stroke="#e0202c" stroke-width="1.9" fill="none"/>
<path d="M1132.6,16.8 C1134.6,17.6 1140.6,21.1 1144.5,21.5 C1148.5,21.9 1152.1,19.9 1156.4,19.1 C1160.8,18.3 1168.3,17.2 1170.7,16.8" stroke="#e0202c" stroke-width="1.9" fill="none"/>
<path d="M1170.7,21.5 C1173.1,21.3 1180.2,20.3 1185,20.3 C1189.8,20.3 1194.5,21.1 1199.3,21.5 C1204,21.9 1208.8,22.7 1213.6,22.7 C1218.3,22.7 1223.6,21.9 1227.9,21.5 C1232.1,21.1 1237.4,20.5 1239.3,20.3" stroke="#e0202c" stroke-width="1.9" fill="none"/>
<path d="M1239.8,81 C1241.3,80.3 1246.5,79.1 1249.3,76.3 C1252.1,73.5 1254.4,69.1 1256.4,64.4 C1258.4,59.6 1259.6,53.3 1261.2,47.7 C1262.8,42.2 1264.4,36.2 1266,31 C1267.5,25.9 1269.9,19.1 1270.7,16.8" stroke="#3a3ad6" stroke-width="1.7" fill="none" stroke-dasharray="1.5 1.6"/>
<path d="M1235,52.5 C1236.2,51.7 1239.8,49.7 1242.1,47.7 C1244.5,45.7 1246.9,43 1249.3,40.6 C1251.7,38.2 1255.2,34.6 1256.4,33.4" stroke="#3a3ad6" stroke-width="1.7" fill="none" stroke-dasharray="1.5 1.6"/>
<path d="M1296.2,31 C1298.7,31.8 1306.3,34.2 1311.2,35.8 C1316.1,37.4 1320.7,39.6 1325.5,40.6 C1330.2,41.6 1335,41.4 1339.8,41.8 C1344.5,42.2 1349.3,42 1354,43 C1358.8,43.9 1363.6,45.7 1368.3,47.7 C1373.1,49.7 1378.8,52.9 1382.6,54.9 C1386.4,56.8 1389.6,58.8 1391,59.6" stroke="#3a3ad6" stroke-width="1.7" fill="none" stroke-dasharray="1.5 1.6"/>
<path d="M1282.6,16.8 C1284.9,17 1291.4,17.2 1296.2,18 C1301,18.7 1306.3,19.3 1311.2,21.5 C1316.1,23.7 1320.7,28.5 1325.5,31 C1330.2,33.6 1335.4,36.2 1339.8,37 C1344.1,37.8 1347.3,37.4 1351.7,35.8 C1356,34.2 1361.6,27.1 1366,27.5 C1370.3,27.9 1373.7,34.4 1377.9,38.2 C1382,42 1388.8,48.1 1391,50.1" stroke="#3a3ad6" stroke-width="1.7" fill="none" stroke-dasharray="1.5 1.6"/>
<path d="M1239.8,110.8 C1241.3,109 1246.1,104.7 1249.3,100.1 C1252.5,95.5 1255.6,89 1258.8,83.4 C1262,77.9 1265.6,70.3 1268.3,66.8 C1271.1,63.2 1272.3,62.8 1275.5,62 C1278.7,61.2 1283.9,61.8 1287.4,62 C1290.8,62.2 1292.2,62.2 1296.2,63.2 C1300.2,64.2 1306.3,66.8 1311.2,68 C1316.1,69.1 1320.7,70.1 1325.5,70.3 C1330.2,70.5 1335,70.1 1339.8,69.1 C1344.5,68.2 1349.7,66.4 1354,64.4 C1358.4,62.4 1362.8,57.8 1366,57.2 C1369.1,56.6 1370.3,58.8 1373.1,60.8 C1375.9,62.8 1379.6,67 1382.6,69.1 C1385.6,71.3 1389.6,73.1 1391,73.9" stroke="#e0202c" stroke-width="1.9" fill="none"/>
<path d="M1235,50.1 C1237.4,49.9 1243.3,49.3 1249.3,48.9 C1255.2,48.5 1262.9,47.9 1270.7,47.7 C1278.5,47.5 1289.4,46.7 1296.2,47.7 C1302.9,48.7 1306.3,51.3 1311.2,53.7 C1316.1,56 1320.7,59.6 1325.5,62 C1330.2,64.4 1335,66.4 1339.8,68 C1344.5,69.5 1349.3,70.1 1354,71.5 C1358.8,72.9 1363.6,74.3 1368.3,76.3 C1373.1,78.3 1378.8,81.4 1382.6,83.4 C1386.4,85.4 1389.6,87.4 1391,88.2" stroke="#e0202c" stroke-width="1.9" fill="none"/>
<path d="M1363.6,15.6 C1364.8,16.8 1367.5,21.9 1370.7,22.7 C1373.9,23.5 1379.2,20.9 1382.6,20.3 C1386,19.7 1389.6,19.3 1391,19.1" stroke="#e0202c" stroke-width="1.9" fill="none"/>
<path d="M1368.3,16.8 C1369.9,17.6 1374.1,20.5 1377.9,21.5 C1381.6,22.5 1388.8,22.5 1391,22.7" stroke="#e0202c" stroke-width="1.9" fill="none"/>
<path d="M1087.9,205.5 C1089.8,206.9 1095,209.6 1099.3,213.8 C1103.6,218 1108.8,224.9 1113.6,230.5 C1118.3,236 1122.8,243.2 1127.9,247.1 C1132.9,251.1 1139.3,252.3 1144,254.3 C1148.8,256.3 1152.8,256.7 1156.4,259 C1160.1,261.4 1162.8,265.8 1166,268.6 C1169.1,271.3 1172.3,273.9 1175.5,275.7 C1178.7,277.5 1181,278.5 1185,279.3 C1189,280.1 1194.1,279.5 1199.3,280.5 C1204.4,281.5 1211.2,283.7 1216,285.2 C1220.7,286.8 1223.9,288.8 1227.9,290 C1231.8,291.2 1237.8,292 1239.8,292.4" stroke="#3a3ad6" stroke-width="1.7" fill="none" stroke-dasharray="1.5 1.6"/>
<path d="M1087.9,211.4 C1089.8,213 1095,216.6 1099.3,221 C1103.6,225.3 1108.8,230.9 1113.6,237.6 C1118.3,244.4 1123.9,254.3 1127.9,261.4 C1131.8,268.6 1134.7,275.1 1137.4,280.5 C1140.1,285.8 1140.9,291.2 1144,293.6 C1147.2,296 1152.4,294.2 1156.4,294.8 C1160.5,295.4 1166.3,296.7 1168.3,297.1" stroke="#3a3ad6" stroke-width="1.7" fill="none" stroke-dasharray="1.5 1.6"/>
<path d="M1087.9,254.3 C1090.6,255.1 1098.6,257.1 1104,259 C1109.5,261 1116,263.8 1120.7,266.2 C1125.5,268.6 1128.7,271.7 1132.6,273.3 C1136.5,274.9 1140.1,275.3 1144,275.7 C1148,276.1 1152.4,275.3 1156.4,275.7 C1160.5,276.1 1164.4,277.7 1168.3,278.1 C1172.3,278.5 1176.3,279.7 1180.2,278.1 C1184.2,276.5 1188.2,272.1 1192.1,268.6 C1196.1,265 1199.7,260.6 1204,256.7 C1208.4,252.7 1213.6,247.9 1218.3,244.8 C1223.1,241.6 1229,239 1232.6,237.6 C1236.2,236.2 1238.6,236.6 1239.8,236.4" stroke="#3a3ad6" stroke-width="1.7" fill="none" stroke-dasharray="1.5 1.6"/>
<path d="M1087.9,285.2 C1090.6,284 1098.2,281.3 1104,278.1 C1109.9,274.9 1116.4,269.8 1123.1,266.2 C1129.8,262.6 1138.5,257.5 1144,256.7 C1149.6,255.9 1152.8,258.7 1156.4,261.4 C1160.1,264.2 1163.2,268.6 1166,273.3 C1168.7,278.1 1170.7,284.8 1173.1,290 C1175.5,295.2 1177.5,299.9 1180.2,304.3 C1183,308.7 1186.6,313.4 1189.8,316.2 C1192.9,319 1195.3,320.4 1199.3,321 C1203.3,321.5 1208.8,321 1213.6,319.8 C1218.3,318.6 1223.5,315.2 1227.9,313.8 C1232.2,312.4 1237.8,311.8 1239.8,311.4" stroke="#3a3ad6" stroke-width="1.7" fill="none" stroke-dasharray="1.5 1.6"/>
<path d="M1087.9,330.5 C1090.6,329.7 1098.2,328.1 1104,325.7 C1109.9,323.3 1116.4,318.4 1123.1,316.2 C1129.8,314 1138.5,313.2 1144,312.6 C1149.6,312 1152.4,312.8 1156.4,312.6 C1160.5,312.4 1164.4,311.2 1168.3,311.4 C1172.3,311.6 1176.3,312.6 1180.2,313.8 C1184.2,315 1187.4,317 1192.1,318.6 C1196.9,320.2 1202.9,321.9 1208.8,323.3 C1214.8,324.7 1222.7,326.1 1227.9,326.9 C1233,327.7 1237.8,327.9 1239.8,328.1" stroke="#3a3ad6" stroke-width="1.7" fill="none" stroke-dasharray="1.5 1.6"/>
<path d="M1132.6,378.1 C1134.5,375.3 1140.1,364.4 1144,361.4 C1148,358.5 1152.4,360.2 1156.4,360.2 C1160.5,360.2 1164.4,360.4 1168.3,361.4 C1172.3,362.4 1176.7,363.4 1180.2,366.2 C1183.8,369 1188.2,376.1 1189.8,378.1" stroke="#3a3ad6" stroke-width="1.7" fill="none" stroke-dasharray="1.5 1.6"/>
<path d="M1163.6,301.9 C1165.6,305.5 1171.9,316.2 1175.5,323.3 C1179,330.5 1181.8,338.4 1185,344.8 C1188.2,351.1 1191.7,355.9 1194.5,361.4 C1197.3,367 1200.5,375.3 1201.7,378.1" stroke="#3a3ad6" stroke-width="1.7" fill="none" stroke-dasharray="1.5 1.6"/>
<path d="M1087.9,200.7 C1089.8,201.7 1095,203.7 1099.3,206.7 C1103.6,209.6 1108.8,214.6 1113.6,218.6 C1118.3,222.5 1122.8,226.7 1127.9,230.5 C1132.9,234.2 1140.1,238.4 1144,241.2 C1148,244 1149.2,244.2 1151.7,247.1 C1154.1,250.1 1156.4,254.7 1158.8,259 C1161.2,263.4 1163.2,267.8 1166,273.3 C1168.7,278.9 1172.3,287.2 1175.5,292.4 C1178.7,297.5 1181.4,301.5 1185,304.3 C1188.6,307.1 1192.9,308.5 1196.9,309 C1200.9,309.6 1204.4,308.7 1208.8,307.9 C1213.2,307.1 1217.9,305.7 1223.1,304.3 C1228.3,302.9 1237,300.3 1239.8,299.5" stroke="#e0202c" stroke-width="1.9" fill="none"/>
<path d="M1087.9,209 C1089.8,209.8 1095,210.6 1099.3,213.8 C1103.6,217 1108.8,222.5 1113.6,228.1 C1118.3,233.7 1123.9,242 1127.9,247.1 C1131.8,252.3 1134.7,256.5 1137.4,259 C1140.1,261.6 1140.9,262 1144,262.6 C1147.2,263.2 1151.2,262.4 1156.4,262.6 C1161.7,262.8 1169.5,262.8 1175.5,263.8 C1181.4,264.8 1186.6,266.6 1192.1,268.6 C1197.7,270.6 1203.7,273.5 1208.8,275.7 C1214,277.9 1217.9,280.5 1223.1,281.7 C1228.3,282.9 1237,282.7 1239.8,282.9" stroke="#e0202c" stroke-width="1.9" fill="none"/>
<path d="M1087.9,243.6 C1090.6,244.6 1098.6,246.9 1104,249.5 C1109.5,252.1 1116,255.1 1120.7,259 C1125.5,263 1128.7,269.6 1132.6,273.3 C1136.5,277.1 1140.1,280.1 1144,281.7 C1148,283.3 1152.8,281.9 1156.4,282.9 C1160.1,283.8 1162.8,285.6 1166,287.6 C1169.1,289.6 1171.1,293.2 1175.5,294.8 C1179.8,296.3 1186.6,296 1192.1,297.1 C1197.7,298.3 1202.9,299.9 1208.8,301.9 C1214.8,303.9 1222.7,307.7 1227.9,309 C1233,310.4 1237.8,310 1239.8,310.2" stroke="#e0202c" stroke-width="1.9" fill="none"/>
<path d="M1087.9,272.1 C1090.6,271.5 1098.2,270.8 1104,268.6 C1109.9,266.4 1116.4,262.6 1123.1,259 C1129.8,255.5 1138.5,247.1 1144,247.1 C1149.6,247.1 1152.8,255.5 1156.4,259 C1160.1,262.6 1162.8,266.6 1166,268.6 C1169.1,270.6 1172.3,271.3 1175.5,271 C1178.7,270.6 1181,269 1185,266.2 C1189,263.4 1194.5,258.3 1199.3,254.3 C1204,250.3 1208.8,246.3 1213.6,242.4 C1218.3,238.4 1223.5,232.9 1227.9,230.5 C1232.2,228.1 1237.8,228.5 1239.8,228.1" stroke="#e0202c" stroke-width="1.9" fill="none"/>
<path d="M1087.9,312.6 C1091.3,311.6 1102.1,308.8 1108.8,306.7 C1115.5,304.5 1122,301.5 1127.9,299.5 C1133.7,297.5 1139.3,295.6 1144,294.8 C1148.8,293.9 1152,294.3 1156.4,294.3 C1160.9,294.3 1166,294.5 1170.7,294.8 C1175.5,295 1180.2,295.6 1185,296 C1189.8,296.3 1193.7,296.7 1199.3,297.1 C1204.8,297.5 1212.8,298.3 1218.3,298.3 C1223.9,298.4 1229,297.7 1232.6,297.6 C1236.2,297.5 1238.6,297.6 1239.8,297.6" stroke="#e0202c" stroke-width="1.9" fill="none"/>
<path d="M1123.1,378.1 C1124.7,375.3 1129.1,367.4 1132.6,361.4 C1136.1,355.5 1140.1,345.8 1144,342.4 C1148,339 1152,341.2 1156.4,341.2 C1160.9,341.2 1166.7,341.4 1170.7,342.4 C1174.7,343.4 1177.1,345.2 1180.2,347.1 C1183.4,349.1 1186.6,351.9 1189.8,354.3 C1192.9,356.7 1195.7,359.8 1199.3,361.4 C1202.9,363 1206.4,363.6 1211.2,363.8 C1216,364 1223.1,363 1227.9,362.6 C1232.6,362.2 1237.8,361.6 1239.8,361.4" stroke="#e0202c" stroke-width="1.9" fill="none"/>
<path d="M1239.8,236.4 C1241.7,237.4 1247.7,238.6 1251.7,242.4 C1255.6,246.2 1260,255.1 1263.6,259 C1267.1,263 1269.5,264.4 1273.1,266.2 C1276.7,268 1281.1,269 1285,269.8 C1288.9,270.6 1292.1,271.5 1296.4,271 C1300.8,270.4 1306.3,269 1311.2,266.2 C1316,263.4 1320.7,258.3 1325.5,254.3 C1330.2,250.3 1335,246.3 1339.8,242.4 C1344.5,238.4 1349.3,234.4 1354,230.5 C1358.8,226.5 1363.6,221.7 1368.3,218.6 C1373.1,215.4 1378.7,213.2 1382.6,211.4 C1386.6,209.6 1390.6,208.5 1392.1,207.9" stroke="#3a3ad6" stroke-width="1.7" fill="none" stroke-dasharray="1.5 1.6"/>
<path d="M1239.8,300.7 C1242.1,298.9 1249.7,293 1254,290 C1258.4,287 1262.4,284.2 1266,282.9 C1269.5,281.5 1271.9,281.3 1275.5,281.7 C1279,282.1 1283.9,284.2 1287.4,285.2 C1290.9,286.2 1292.5,288.4 1296.4,287.6 C1300.4,286.8 1306.3,283.7 1311.2,280.5 C1316,277.3 1320.7,272.1 1325.5,268.6 C1330.2,265 1335,261.4 1339.8,259 C1344.5,256.7 1349.3,255.5 1354,254.3 C1358.8,253.1 1363.6,252.3 1368.3,251.9 C1373.1,251.5 1378.7,251.5 1382.6,251.9 C1386.6,252.3 1390.6,253.9 1392.1,254.3" stroke="#3a3ad6" stroke-width="1.7" fill="none" stroke-dasharray="1.5 1.6"/>
<path d="M1239.8,311.4 C1241.3,313 1246.1,317.8 1249.3,321 C1252.5,324.1 1255.6,327.3 1258.8,330.5 C1262,333.7 1265.2,337.4 1268.3,340 C1271.5,342.6 1273.2,345.2 1277.9,346 C1282.5,346.7 1290.9,345.4 1296.4,344.8 C1302,344.2 1306.3,344 1311.2,342.4 C1316,340.8 1320.7,337.2 1325.5,335.2 C1330.2,333.3 1335,331.7 1339.8,330.5 C1344.5,329.3 1349.3,329.3 1354,328.1 C1358.8,326.9 1363.6,324.9 1368.3,323.3 C1373.1,321.7 1378.7,319.8 1382.6,318.6 C1386.6,317.4 1390.6,316.6 1392.1,316.2" stroke="#3a3ad6" stroke-width="1.7" fill="none" stroke-dasharray="1.5 1.6"/>
<path d="M1239.8,328.1 C1242.1,328.9 1249.7,330.5 1254,332.9 C1258.4,335.2 1262,339.6 1266,342.4 C1269.9,345.2 1272.8,347.5 1277.9,349.5 C1282.9,351.5 1290.9,354.3 1296.4,354.3 C1302,354.3 1306.3,352.3 1311.2,349.5 C1316,346.7 1321.5,342 1325.5,337.6 C1329.4,333.3 1331.8,328.1 1335,323.3 C1338.2,318.6 1341.3,313.8 1344.5,309 C1347.7,304.3 1350.1,299.5 1354,294.8 C1358,290 1364,283.7 1368.3,280.5 C1372.7,277.3 1376.3,276.5 1380.2,275.7 C1384.2,274.9 1390.2,275.7 1392.1,275.7" stroke="#3a3ad6" stroke-width="1.7" fill="none" stroke-dasharray="1.5 1.6"/>
<path d="M1349.3,378.1 C1350.9,375.3 1355.6,367 1358.8,361.4 C1362,355.9 1365.2,349.5 1368.3,344.8 C1371.5,340 1373.9,335.2 1377.9,332.9 C1381.8,330.5 1389.8,330.9 1392.1,330.5" stroke="#3a3ad6" stroke-width="1.7" fill="none" stroke-dasharray="1.5 1.6"/>
<path d="M1363.6,318.6 C1365.2,316.2 1369.9,309 1373.1,304.3 C1376.3,299.5 1379.4,293.2 1382.6,290 C1385.8,286.8 1390.6,286 1392.1,285.2" stroke="#3a3ad6" stroke-width="1.7" fill="none" stroke-dasharray="1.5 1.6"/>
<path d="M1256.4,378.1 C1258,377.3 1262.8,373.3 1266,373.3 C1269.1,373.3 1273.9,377.3 1275.5,378.1" stroke="#3a3ad6" stroke-width="1.7" fill="none" stroke-dasharray="1.5 1.6"/>
<path d="M1239.8,228.1 C1241.7,228.9 1247.7,230.1 1251.7,232.9 C1255.6,235.6 1259.6,240.8 1263.6,244.8 C1267.5,248.7 1271.5,254.7 1275.5,256.7 C1279.4,258.7 1283.9,256.9 1287.4,256.7 C1290.9,256.5 1292.5,256.1 1296.4,255.5 C1300.4,254.9 1306.3,254.1 1311.2,253.1 C1316,252.1 1320.7,250.9 1325.5,249.5 C1330.2,248.1 1335,246.3 1339.8,244.8 C1344.5,243.2 1350.1,241.6 1354,240 C1358,238.4 1360.4,238.4 1363.6,235.2 C1366.7,232.1 1369.9,225.7 1373.1,221 C1376.3,216.2 1379.4,210 1382.6,206.7 C1385.8,203.3 1390.6,201.7 1392.1,200.7" stroke="#e0202c" stroke-width="1.9" fill="none"/>
<path d="M1239.8,282.9 C1242.1,282.1 1248.9,280.5 1254,278.1 C1259.2,275.7 1266,269.8 1270.7,268.6 C1275.5,267.4 1278.3,270 1282.6,271 C1286.9,271.9 1292.5,274.5 1296.4,274.5 C1300.4,274.5 1302.8,273.5 1306.4,271 C1310.1,268.4 1314.4,263 1318.3,259 C1322.3,255.1 1326.3,251.1 1330.2,247.1 C1334.2,243.2 1337.8,239.2 1342.1,235.2 C1346.5,231.3 1351.7,226.5 1356.4,223.3 C1361.2,220.2 1366.3,218.2 1370.7,216.2 C1375.1,214.2 1379,212.6 1382.6,211.4 C1386.2,210.2 1390.6,209.4 1392.1,209" stroke="#e0202c" stroke-width="1.9" fill="none"/>
<path d="M1239.8,299.5 C1241.3,300.7 1246.1,303.9 1249.3,306.7 C1252.5,309.4 1255.2,313 1258.8,316.2 C1262.4,319.4 1266.7,323.3 1270.7,325.7 C1274.7,328.1 1278.3,329.3 1282.6,330.5 C1286.9,331.7 1292.5,332.9 1296.4,332.9 C1300.4,332.9 1302.8,332.1 1306.4,330.5 C1310.1,328.9 1314.4,325.7 1318.3,323.3 C1322.3,321 1325.9,318.2 1330.2,316.2 C1334.6,314.2 1339.8,313 1344.5,311.4 C1349.3,309.8 1354.8,308.7 1358.8,306.7 C1362.8,304.7 1365.2,303.9 1368.3,299.5 C1371.5,295.2 1374.7,284.8 1377.9,280.5 C1381,276.1 1385,274.7 1387.4,273.3 C1389.8,271.9 1391.3,272.3 1392.1,272.1" stroke="#e0202c" stroke-width="1.9" fill="none"/>
<path d="M1239.8,310.2 C1242.1,310.8 1249.7,311.6 1254,313.8 C1258.4,316 1262,321 1266,323.3 C1269.9,325.7 1272.8,327.5 1277.9,328.1 C1282.9,328.7 1290.9,327.3 1296.4,326.9 C1302,326.5 1306.7,327.5 1311.2,325.7 C1315.6,323.9 1319.1,321.3 1323.1,316.2 C1327.1,311 1331.4,301.9 1335,294.8 C1338.6,287.6 1341.3,279.7 1344.5,273.3 C1347.7,267 1350.9,261 1354,256.7 C1357.2,252.3 1359.6,249.3 1363.6,247.1 C1367.5,245 1373.1,244.2 1377.9,243.6 C1382.6,243 1389.8,243.6 1392.1,243.6" stroke="#e0202c" stroke-width="1.9" fill="none"/>
<path d="M1239.8,361.4 C1242.1,360.6 1249.7,358.1 1254,356.7 C1258.4,355.3 1262,352.7 1266,353.1 C1269.9,353.5 1273.5,356.7 1277.9,359 C1282.2,361.4 1287.4,365 1292.1,367.4 C1296.9,369.8 1302.9,371.5 1306.4,373.3 C1310,375.1 1312.4,377.3 1313.6,378.1" stroke="#e0202c" stroke-width="1.9" fill="none"/>
<path d="M1339.8,378.1 C1341.3,374.5 1346.1,363.4 1349.3,356.7 C1352.5,349.9 1355.6,344 1358.8,337.6 C1362,331.3 1365.2,322.5 1368.3,318.6 C1371.5,314.6 1373.9,314.8 1377.9,313.8 C1381.8,312.8 1389.8,312.8 1392.1,312.6" stroke="#e0202c" stroke-width="1.9" fill="none"/>
</g>
<path d="M1088.1,196.5H1391" stroke="#333" stroke-width="1.6" stroke-dasharray="10.5 4.2 3 4.3" fill="none"/>
<path d="M1143.8,15.3V377M1239.7,15.3V377M1296.1,15.3V377" stroke="#1a1a1a" stroke-width="1.8" fill="none"/>
<rect x="1088.1" y="15.3" width="302.9" height="361.7" fill="none" stroke="#000" stroke-width="2"/>
<path d="M1088.1,377h6 M1391,377h-6 M1088.1,358.9h3.5 M1391,358.9h-3.5 M1088.1,340.8h6 M1391,340.8h-6 M1088.1,322.7h3.5 M1391,322.7h-3.5 M1088.1,304.7h6 M1391,304.7h-6 M1088.1,286.6h3.5 M1391,286.6h-3.5 M1088.1,268.5h6 M1391,268.5h-6 M1088.1,250.4h3.5 M1391,250.4h-3.5 M1088.1,232.3h6 M1391,232.3h-6 M1088.1,214.2h3.5 M1391,214.2h-3.5 M1088.1,196.2h6 M1391,196.2h-6 M1088.1,178.1h3.5 M1391,178.1h-3.5 M1088.1,160h6 M1391,160h-6 M1088.1,141.9h3.5 M1391,141.9h-3.5 M1088.1,123.8h6 M1391,123.8h-6 M1088.1,105.7h3.5 M1391,105.7h-3.5 M1088.1,87.6h6 M1391,87.6h-6 M1088.1,69.6h3.5 M1391,69.6h-3.5 M1088.1,51.5h6 M1391,51.5h-6 M1088.1,33.4h3.5 M1391,33.4h-3.5 M1088.1,15.3h6 M1391,15.3h-6 " stroke="#000" stroke-width="2" fill="none"/>
<g clip-path="url(#cdd)">
<polyline points="1398.3,102.5 1400,93 1401.1,88.2 1408.3,83.4 1410.7,76.3 1415.4,69.1 1422.6,66.8 1471.4,65.6 1422.6,63.2 1413,59.6 1420.2,57.2 1415.4,54.9 1420.2,51.3 1436.9,50.1 1429.7,47.7 1422.6,45.3 1436.9,41.8 1422.6,38.2 1432.1,35.8 1417.8,34.6 1420.2,31 1425,28.7 1436.9,29.9 1420.2,26.3 1420.2,21.5 1427.3,19.1 1451.1,18 1432.1,16.3" stroke="#22ee22" stroke-width="1.8" fill="none" stroke-linejoin="round"/>
<polyline points="1398.3,102.5 1400,90.6 1403.5,85.8 1405.9,78.7 1410.7,71.5 1415.4,68 1432.1,65.6 1415.4,63.2 1408.3,59.6 1405.9,54.9 1410.7,50.1 1415.4,47.7 1410.7,45.3 1417.8,41.8 1410.7,38.2 1415.4,35.8 1408.3,33.4 1410.7,28.7 1415.4,25.1 1410.7,21.5 1417.8,19.1 1425,16.8" stroke="#1a1ad8" stroke-width="1.8" fill="none" stroke-linejoin="round"/>
<polyline points="1398.3,102.5 1400,88.2 1401.1,78.7 1403.5,73.9 1408.3,69.1 1413,66.8 1408.3,64.4 1404.7,59.6 1408.3,54.9 1405.9,50.1 1410.7,45.3 1407.1,40.6 1413,38.2 1408.3,33.4 1410.7,28.7 1408.3,23.9 1409.5,19.1 1408.3,16.3" stroke="#111" stroke-width="1.5" fill="none" stroke-linejoin="round"/>
<polyline points="1398.3,102.5 1398.8,83.4 1400,73.9 1401.1,69.1 1405.9,65.6 1401.1,62 1400,54.9 1402.3,52.5 1400,47.7 1403.5,43 1401.1,38.2 1403.5,33.4 1401.1,28.7 1403.5,23.9 1401.1,19.1 1403.5,16.3" stroke="#e0202c" stroke-width="1.6" fill="none" stroke-linejoin="round"/>
<polyline points="1398.3,196 1403.5,201.9 1413,204.3 1422.6,205.5 1420.2,209 1417.8,213.8 1420.2,221 1429.7,228.1 1441.6,232.9 1458.3,235.2 1455.9,237.6 1465.4,238.8 1477.3,240 1465.4,242.4 1472.6,247.1 1484.5,250.7 1472.6,251.9 1451.1,253.1 1486.9,256.7 1448.8,257.9 1470.2,261.4 1441.6,263.8 1429.7,268.6 1420.2,272.1 1415.4,274.5 1484.5,275.7 1415.4,278.1 1415.4,282.9 1417.8,287.6 1486.9,291.2 1441.6,292.4 1446.4,297.1 1455.9,299.5 1465.4,301.9 1491.6,306.7 1470.2,309 1448.8,311.4 1444,316.2 1451.1,321 1479.7,323.3 1451.1,324.5 1408.3,326.9 1403.5,330.5 1405.9,335.2 1413,338.8 1463,341.2 1413,343.6 1410.7,347.1 1458.3,351.9 1429.7,354.3 1451.1,356.7 1422.6,359 1417.8,363.8 1420.2,367.4 1415.4,371 1420.2,373.3 1455.9,375.2" stroke="#22ee22" stroke-width="1.8" fill="none" stroke-linejoin="round"/>
<polyline points="1398.3,196 1403.5,201.9 1410.7,206.7 1408.3,211.4 1410.7,216.2 1415.4,223.3 1422.6,228.1 1436.9,235.2 1429.7,237.6 1432.1,242.4 1429.7,247.1 1436.9,251.9 1427.3,254.3 1434.5,256.7 1422.6,261.4 1417.8,266.2 1413,268.6 1408.3,271 1405.9,275.7 1405.9,285.2 1410.7,292.4 1417.8,297.1 1422.6,301.9 1432.1,306.7 1420.2,309 1413,311.4 1410.7,316.2 1415.4,321 1403.5,325.7 1401.1,332.9 1401.1,342.4 1403.5,351.9 1401.1,361.4 1403.5,371 1401.1,375.7" stroke="#111" stroke-width="1.5" fill="none" stroke-linejoin="round"/>
<polyline points="1398.3,196 1403.5,206.7 1405.9,216.2 1408.3,223.3 1413,230.5 1415.4,237.6 1413,242.4 1417.8,247.1 1415.4,251.9 1417.8,256.7 1410.7,259 1415.4,263.8 1408.3,268.6 1405.9,273.3 1422.6,275.7 1405.9,278.1 1405.9,285.2 1410.7,290 1413,294.8 1415.4,299.5 1420.2,301.9 1425,304.3 1432.1,307.9 1422.6,311.4 1417.8,316.2 1420.2,321 1436.9,323.3 1403.5,325.7 1401.1,332.9 1403.5,340 1408.3,347.1 1432.1,351.9 1420.2,354.3 1415.4,359 1413,366.2 1415.4,373.3 1420.2,375.7" stroke="#1a1ad8" stroke-width="1.8" fill="none" stroke-linejoin="round"/>
<polyline points="1398.3,196 1398.8,213.8 1401.1,230.5 1408.3,235.2 1413,240 1420.2,241.2 1417.8,244.8 1422.6,249.5 1425,254.3 1417.8,259 1410.7,261.4 1405.9,268.6 1401.1,275.7 1401.1,285.2 1408.3,290 1427.3,291.2 1417.8,294.8 1420.2,299.5 1415.4,304.3 1410.7,311.4 1408.3,316.2 1417.8,323.3 1403.5,325.7 1401.1,332.9 1398.8,342.4 1403.5,349.5 1410.7,351.9 1405.9,356.7 1403.5,361.4 1401.1,368.6 1408.3,373.3 1401.1,375.7" stroke="#e0202c" stroke-width="1.6" fill="none" stroke-linejoin="round"/>
</g>
<path d="M1398.2,196.5H1591.5" stroke="#333" stroke-width="1.6" stroke-dasharray="10.5 4.2 3 4.3" fill="none"/>
<rect x="1398.2" y="15.3" width="193.3" height="361.7" fill="none" stroke="#000" stroke-width="2"/>
<path d="M1398.2,377h6 M1591.5,377h-6 M1398.2,358.9h3.5 M1591.5,358.9h-3.5 M1398.2,340.8h6 M1591.5,340.8h-6 M1398.2,322.7h3.5 M1591.5,322.7h-3.5 M1398.2,304.7h6 M1591.5,304.7h-6 M1398.2,286.6h3.5 M1591.5,286.6h-3.5 M1398.2,268.5h6 M1591.5,268.5h-6 M1398.2,250.4h3.5 M1591.5,250.4h-3.5 M1398.2,232.3h6 M1591.5,232.3h-6 M1398.2,214.2h3.5 M1591.5,214.2h-3.5 M1398.2,196.2h6 M1591.5,196.2h-6 M1398.2,178.1h3.5 M1591.5,178.1h-3.5 M1398.2,160h6 M1591.5,160h-6 M1398.2,141.9h3.5 M1591.5,141.9h-3.5 M1398.2,123.8h6 M1591.5,123.8h-6 M1398.2,105.7h3.5 M1591.5,105.7h-3.5 M1398.2,87.6h6 M1591.5,87.6h-6 M1398.2,69.6h3.5 M1591.5,69.6h-3.5 M1398.2,51.5h6 M1591.5,51.5h-6 M1398.2,33.4h3.5 M1591.5,33.4h-3.5 M1398.2,15.3h6 M1591.5,15.3h-6 " stroke="#000" stroke-width="2" fill="none"/>
<g clip-path="url(#cb)">
<path d="M64.4,428.4 C68.7,427.6 81.9,426.1 90.1,423.7 C98.3,421.4 107.7,416.7 113.5,414.4 C119.4,412 123.3,410.5 125.3,409.7" stroke="#c8b8c0" stroke-width="0.9" fill="none"/>
<path d="M64.4,479.9 C68.7,478.8 81.9,476 90.1,472.9 C98.3,469.8 106.5,464.7 113.5,461.2 C120.6,457.7 127.2,454.6 132.3,451.8 C137.4,449.1 139.3,446.8 144,444.8 C148.7,442.9 154.9,441.7 160.4,440.1 C165.9,438.6 174,436.2 176.8,435.4" stroke="#c8b8c0" stroke-width="0.9" fill="none"/>
<path d="M144,433.1 C146.7,433.1 154.9,433.5 160.4,433.1 C165.9,432.7 170.9,431.9 176.8,430.8 C182.6,429.6 192.4,426.9 195.5,426.1" stroke="#c8b8c0" stroke-width="0.9" fill="none"/>
<path d="M64.4,455.4 C68.7,454.8 81.9,454.4 90.1,451.8 C98.3,449.3 106.5,444 113.5,440.1 C120.6,436.2 127.2,431.9 132.3,428.4 C137.4,424.9 142,420.6 144,419.1" stroke="#c8b8c0" stroke-width="0.9" fill="none"/>
<path d="M64.4,540.8L65.4,539.9L66.7,538.7L68.3,537.2L70.1,535.5L71.9,533.5L73.7,531.5L75.6,529.2L77.5,526.6L79.4,523.9L81.5,521L83.5,518L85.4,515.1L87.4,512.1L89.3,509.1L91.3,506L93.3,502.8L95.2,499.6L97.2,496.3L99.1,492.9L101.1,489.3L103.2,485.6L105.1,482L107,478.5L108.9,475.3L110.6,472.3L112.2,469.4L113.7,466.8L115.2,464.2L116.7,461.5L118.2,458.9L119.8,456.1L121.4,453.3L123.1,450.5L124.7,447.8L126.2,445.1L127.6,442.5L128.9,440L130.2,437.5L131.4,435.2L132.5,432.8L133.6,430.6L134.6,428.4L135.6,426.3L136.4,424.1L137.3,422L138,420L138.7,418.2L139.3,416.7L139.9,415.5L140.3,414.5L140.8,413.6L141.1,413L141.4,412.5L141.7,412" stroke="#1c1cf0" stroke-width="3.0" fill="none" stroke-linecap="round" stroke-linejoin="round"/>
<path d="M64.4,498.7L66.4,498.6L69.2,498.5L72.6,498.3L76.2,498.1L79.8,497.9L83.1,497.5L86.2,497.1L89.3,496.6L92.5,496L95.6,495.4L98.7,494.7L101.8,494L105,493.1L108.3,492.2L111.5,491.1L114.7,490.1L117.7,489.1L120.6,488.1L123.2,487.3L125.8,486.4L128.2,485.6L130.5,484.9L132.6,484.2L134.6,483.5L136.5,482.8L138.2,482.2L139.7,481.6L141.2,481L142.6,480.4L144,479.9L145.3,479.6L146.4,479.5L147.5,479.4L148.6,479.2L149.7,478.7L151,477.6L152.4,475.9L154,473.8L155.6,471.3L157.2,468.7L158.8,466L160.4,463.5L162,461.2L163.6,458.7L165.2,456.2L166.8,453.8L168.3,451.6L169.8,449.5L171.1,447.6L172.3,445.9L173.5,444.2L174.6,442.7L175.7,441.4L176.8,440.1L177.9,439L179,438L180.1,437.2L181.2,436.5L182,435.9L182.6,435.4" stroke="#1c1cf0" stroke-width="3.0" fill="none" stroke-linecap="round" stroke-linejoin="round"/>
<path d="M64.4,434.3L65.4,434.4L66.7,434.6L68.3,434.9L70.1,435.1L71.9,435.3L73.7,435.4L75.6,435.4L77.6,435.3L79.7,435.1L81.8,435L83.7,435.1L85.4,435.4L86.8,436.2L87.9,437.3L88.8,438.5L89.8,439.9L90.9,441.2L92.5,442.5L94.4,443.6L96.6,444.7L99.1,445.8L101.6,447L104.1,448.2L106.5,449.5L108.9,450.9L111.3,452.5L113.7,454.2L116.1,455.8L118.4,457.4L120.6,458.9L122.7,460.2L124.7,461.6L126.6,462.8L128.5,464L130.4,465L132.3,465.9L134.3,466.6L136.4,467.3L138.4,467.8L140.4,468.1L142.3,468.3L144,468.2L145.4,467.9L146.6,467.5L147.7,466.8L148.7,465.9L149.8,464.8L151,463.5L152.4,462L154,460.1L155.6,458L157.2,455.8L158.8,453.7L160.4,451.8L161.9,450.1L163.5,448.5L165.1,446.9L166.6,445.3L168.2,443.9L169.8,442.5L171.3,441.2L173,440L174.6,438.8L176.2,437.7L177.7,436.6L179.1,435.4L180.5,434.2L181.9,432.8L183.2,431.5L184.4,430.2L185.4,429.2L186.1,428.4" stroke="#1c1cf0" stroke-width="5.0" fill="none" stroke-linecap="round" stroke-linejoin="round"/>
<path d="M64.4,440.1L65.4,440.2L66.7,440.2L68.3,440.3L70.1,440.3L71.9,440.3L73.7,440.1L75.6,440L77.6,439.8L79.6,439.5L81.6,439.2L83.6,438.6L85.4,437.8L87.1,436.7L88.7,435.3L90.3,433.7L91.8,432L93.3,430.2L94.8,428.4L96.4,426.5L98.1,424.4L99.8,422.3L101.4,420.2L102.9,418.3L104.2,416.7L105.3,415.5L106.3,414.5L107.1,413.6L107.8,413L108.4,412.5L108.9,412" stroke="#1c1cf0" stroke-width="5.0" fill="none" stroke-linecap="round" stroke-linejoin="round"/>
<path d="M141.7,414.4L143.7,414.5L146.6,414.6L150,414.7L153.6,414.9L157.2,415.2L160.4,415.5L163.3,416L166.2,416.4L169,417L171.7,417.6L174.3,418.3" stroke="#1c1cf0" stroke-width="6.0" fill="none" stroke-linecap="round" stroke-linejoin="round"/>
<path d="M174.3,418.3L176.8,419.1L178.9,419.8L180.9,420.6L182.6,421.4L184.4,422.3L186.3,423.5L188.5,424.9L190.9,426.6L193.5,428.6L196.2,430.8L199.1,433.1L202,435.5L204.9,437.8L207.9,440.1L211,442.4L214.1,444.7L217.3,447.1L220.5,449.5L223.6,451.8L226.8,454.2L230,456.6L233.1,459L236.3,461.4" stroke="#1c1cf0" stroke-width="5.5" fill="none" stroke-linecap="round" stroke-linejoin="round"/>
<path d="M236.3,461.4L239.4,463.7L242.4,465.9L245.3,468.1L248.2,470.3L251,472.4L253.7,474.4L256.3,476.1L258.7,477.6L261,478.7L263,479.5L264.9,480L266.7,480.4L268.6,480.8L270.5,481.1L272.5,481.5L274.8,481.7L277,481.9L279.1,482.1L280.9,482.2L282.2,482.3" stroke="#1c1cf0" stroke-width="5.0" fill="none" stroke-linecap="round" stroke-linejoin="round"/>
<path d="M181.5,430.8L183.6,431.7L186.5,432.8L190,434.3L193.6,436L197.1,437.9L200.2,440.1L202.8,442.7L205.2,445.6L207.5,448.8L209.7,452.1L212,455.5L214.3,458.9L216.6,462.3L218.9,465.8L221.3,469.4L223.6,473L226,476.5L228.3,479.9L230.6,483.2L232.9,486.4L235.2,489.6L237.5,492.7L239.9,495.7L242.4,498.7L245,501.7L247.8,504.7L250.7,507.7L253.5,510.5L256.3,513L258.7,515.1L261,516.7L263,518L264.9,518.9L266.7,519.7L268.6,520.3L270.5,520.9L272.5,521.4L274.8,521.7L277,521.9L279.1,522L280.9,522L282.2,522.1" stroke="#1c1cf0" stroke-width="3.0" fill="none" stroke-linecap="round" stroke-linejoin="round"/>
<path d="M176.8,437.8L178.3,439.8L180.4,442.6L182.9,445.8L185.6,449.4L188.3,453L190.8,456.5" stroke="#a0207a" stroke-width="3.5" fill="none" stroke-linecap="round" stroke-linejoin="round"/>
<path d="M190.8,456.5L193.2,459.9L195.5,463.4L197.9,466.9L200.2,470.5L202.5,474.1L204.9,477.6L207.2,481.1L209.6,484.6L211.9,488.1L214.3,491.7L216.6,495.2L218.9,498.7L221.3,502.2L223.6,505.7L226,509.2L228.3,512.7L230.6,516.2L233,519.8L235.3,523.3L237.7,526.8" stroke="#a0207a" stroke-width="4.0" fill="none" stroke-linecap="round" stroke-linejoin="round"/>
<path d="M237.7,526.8L240,530.3L242.4,533.8L244.7,537.3L247,540.8L249.4,544.4L251.8,548L254.2,551.7L256.6,555.2L258.9,558.7L261.1,561.9L263.2,565L265.3,568.1L267.2,571L269.2,573.7L271,576.2L272.8,578.3L274.6,580.1L276.4,581.6L278.2,582.8L279.8,583.9" stroke="#a0207a" stroke-width="4.5" fill="none" stroke-linecap="round" stroke-linejoin="round"/>
<path d="M279.8,583.9L281.2,584.7L282.2,585.3" stroke="#a0207a" stroke-width="5.0" fill="none" stroke-linecap="round" stroke-linejoin="round"/>
<path d="M144,423.7L145.8,424.1L148.2,424.5L151.2,425L154.3,425.6L157.5,426.4L160.4,427.2L163.1,428.3L165.9,429.5L168.7,430.8L171.5,432.3L174.2,433.8L176.8,435.4" stroke="#ee1c1c" stroke-width="5.5" fill="none" stroke-linecap="round" stroke-linejoin="round"/>
<path d="M176.8,435.4L179.3,437.1L181.6,438.8L184,440.6L186.2,442.6L188.5,444.8L190.8,447.2L193.2,449.8L195.5,452.8L197.9,455.9L200.2,459.2L202.5,462.6L204.9,465.9L207.2,469.3L209.6,472.7L211.9,476.3L214.3,479.9" stroke="#ee1c1c" stroke-width="6.0" fill="none" stroke-linecap="round" stroke-linejoin="round"/>
<path d="M214.3,479.9L216.6,483.4L218.9,487L221.3,490.5L223.6,494.1L226,497.7L228.3,501.2L230.6,504.7L233,508L235.3,511.4L237.7,514.6L240,517.9L242.4,521L244.7,524L247,526.8L249.4,529.5L251.7,532.2L254.1,534.7" stroke="#ee1c1c" stroke-width="6.5" fill="none" stroke-linecap="round" stroke-linejoin="round"/>
<path d="M254.1,534.7L256.4,537L258.7,539.1L261.1,540.8L263.5,542.2L266,543.2L268.6,544L271,544.6L273.2,545.1L275.1,545.5L276.8,545.8L278.3,546L279.5,546L280.6,546L281.5,546L282.2,546" stroke="#ee1c1c" stroke-width="7.0" fill="none" stroke-linecap="round" stroke-linejoin="round"/>
<path d="M64.4,446L65.4,445.8L66.7,445.5L68.3,445.1L70.1,444.7L71.9,444.2L73.7,443.6L75.6,443L77.7,442.1L79.9,441.2L82,440.3L83.9,439.6L85.4,439L86.7,438.5L87.7,438.3L88.5,438.1L89.2,438L89.7,437.9L90.1,437.8" stroke="#ee1c1c" stroke-width="5.0" fill="none" stroke-linecap="round" stroke-linejoin="round"/>
<path d="M172.1,410.9L172.4,410.8L172.9,410.6L173.5,410.5L174.1,410.4L174.6,410.2L174.9,410.2" stroke="#ee1c1c" stroke-width="5.0" fill="none" stroke-linecap="round" stroke-linejoin="round"/>
<path d="M387.4,412 C390.5,414 399.9,418.7 406.1,423.7 C412.4,428.8 418.6,436.6 424.9,442.5 C431.1,448.3 437.4,454.2 443.6,458.9 C449.9,463.5 456.1,467.5 462.4,470.6 C468.6,473.7 474.9,476 481.1,477.6 C487.3,479.2 496.3,479.6 499.4,479.9" stroke="#c8b8c0" stroke-width="0.9" fill="none"/>
<path d="M438.9,414.4 C442.1,416.3 451.4,423.3 457.7,426.1 C463.9,428.8 469.5,429.6 476.4,430.8 C483.4,431.9 495.5,432.7 499.4,433.1" stroke="#c8b8c0" stroke-width="0.9" fill="none"/>
<path d="M275,481.1L275.7,481.3L276.6,481.6L277.8,482L279.1,482.3L280.5,482.4L282,482.3L283.7,481.9L285.5,481.5L287.4,480.9L289.5,480.1L291.6,479L293.7,477.6L295.9,475.9L298.2,473.8L300.6,471.5L303,468.9L305.4,466.3L307.8,463.5L310.1,460.7L312.5,457.6L314.8,454.5L317.2,451.2L319.5,448L321.8,444.8" stroke="#1c1cf0" stroke-width="5.5" fill="none" stroke-linecap="round" stroke-linejoin="round"/>
<path d="M321.8,444.8L324.2,441.6L326.6,438.4L329,435.2L331.4,432L333.7,428.9L335.9,426.1L338,423.3L340.1,420.7L342,418.1L344,415.8L345.8,413.7L347.6,412L349.4,410.8L351.2,409.9L353,409.4L354.6,409L356,408.8L357,408.5" stroke="#1c1cf0" stroke-width="6.0" fill="none" stroke-linecap="round" stroke-linejoin="round"/>
<path d="M275,522.1L275.7,522.3L276.6,522.5L277.8,522.8L279.1,523.1L280.5,523.3" stroke="#1c1cf0" stroke-width="5.5" fill="none" stroke-linecap="round" stroke-linejoin="round"/>
<path d="M280.5,523.3L282,523.3L283.7,523.1L285.4,523L287.3,522.7L289.3,522.3L291.5,521.7L293.7,520.9L296.2,519.9L298.9,518.7L301.6,517.3L304.5,515.8L307.3,514.2L310.1,512.7L312.9,511.2L315.6,509.6L318.3,508L321.1,506.4L323.8,504.9" stroke="#1c1cf0" stroke-width="5.0" fill="none" stroke-linecap="round" stroke-linejoin="round"/>
<path d="M323.8,504.9L326.5,503.4L329.3,501.9L332.2,500.4L335,499L337.8,497.6L340.5,496.3L342.9,495.2L345.2,494.1L347.3,493.2L349.4,492.4L351.2,491.7L353,491L354.6,490.5L356.1,490.1L357.3,489.9L358.4,489.8L359.5,489.7" stroke="#1c1cf0" stroke-width="4.5" fill="none" stroke-linecap="round" stroke-linejoin="round"/>
<path d="M359.5,489.7L360.5,489.6L361.7,489.3L362.8,488.9L363.9,488.6L365,488.1L366.2,487.6L367.4,486.8L368.7,485.8L370.1,484.5L371.6,482.9L373.2,481.2L374.8,479.3L376.5,477.3L378,475.3L379.6,473.1L381.2,470.8L382.7,468.5L384.3,466" stroke="#1c1cf0" stroke-width="4.0" fill="none" stroke-linecap="round" stroke-linejoin="round"/>
<path d="M384.3,466L385.9,463.6L387.4,461.2L389,458.9L390.5,456.6L392.1,454.3L393.7,452L395.2,449.6L396.8,447.2L398.3,444.5L399.9,441.8L401.5,439L403,436.1L404.6,433.4L406.1,430.8L407.8,428.2L409.4,425.6L411.1,423.1" stroke="#1c1cf0" stroke-width="3.5" fill="none" stroke-linecap="round" stroke-linejoin="round"/>
<path d="M411.1,423.1L412.7,420.8L414.2,418.6L415.5,416.7L416.6,415.1L417.6,413.6L418.4,412.3L419.2,411.2L419.7,410.4L420.2,409.7" stroke="#1c1cf0" stroke-width="3.0" fill="none" stroke-linecap="round" stroke-linejoin="round"/>
<path d="M364,408.5L365.5,409.1L367.6,410L370.1,411L372.8,412.1L375.5,413.3L378,414.4L380.4,415.4L382.7,416.5L385.1,417.7L387.4,418.8L389.8,420.1L392.1,421.4L394.4,422.8L396.8,424.4L399.1,426.1L401.5,427.7L403.8,429.3L406.1,430.8L408.4,432.1L410.7,433.4L412.9,434.6L415.2,435.7L417.6,436.8L420.2,437.8L423,438.7L425.9,439.6L429,440.4L432.2,441.2L435.5,441.9L438.9,442.5L442.4,443L445.9,443.5L449.5,443.9L453.4,444.2L457.6,444.5L462.4,444.8L468.2,445.1L475.1,445.3L482.3,445.5L489.3,445.7L495.2,445.9L499.4,446" stroke="#1c1cf0" stroke-width="6.0" fill="none" stroke-linecap="round" stroke-linejoin="round"/>
<path d="M406.1,430.8L408.2,431.5L411.2,432.6L414.6,433.9L418.3,435.3L421.8,436.6L424.9,437.8L427.4,438.8L429.7,439.8L431.9,440.7L434.1,441.6L436.4,442.6L438.9,443.6L441.8,444.7L445,445.6L448.3,446.6L451.6,447.7L454.8,449L457.7,450.7L460.3,452.7L462.9,455.2L465.3,457.8L467.6,460.6L469.7,463.3L471.7,465.9L473.6,468.3L475.2,470.7L476.7,473.1L478.1,475.5L479.6,477.7L481.1,479.9L482.7,482.1L484.2,484.2L485.8,486.2L487.4,488.2L488.9,490L490.5,491.7L492.1,493.2L493.8,494.6L495.5,495.9L497.1,497L498.4,498L499.4,498.7" stroke="#1c1cf0" stroke-width="3.5" fill="none" stroke-linecap="round" stroke-linejoin="round"/>
<path d="M448.3,412L449.3,413.8L450.7,416.3L452.4,419.2L454.2,422.3L456,425.5L457.7,428.4L459.2,431.2L460.8,433.9L462.4,436.6L463.9,439.3L465.5,442.1L467,444.8L468.6,447.6L470.2,450.5L471.7,453.4L473.3,456.3L474.8,458.9L476.4,461.2L478.1,463.3L479.9,465.2L481.7,466.9L483.3,468.4L484.8,469.6L485.8,470.6" stroke="#1c1cf0" stroke-width="2.5" fill="none" stroke-linecap="round" stroke-linejoin="round"/>
<path d="M471.7,412L472.5,413.1L473.5,414.5L474.8,416.3L476.1,418.1L477.5,419.9L478.7,421.4L479.8,422.7L480.8,424L481.9,425.1L482.9,426.3L484.2,427.3L485.8,428.4L487.8,429.5L490.3,430.7L493,431.8L495.6,432.8L497.8,433.7L499.4,434.3" stroke="#1c1cf0" stroke-width="5.0" fill="none" stroke-linecap="round" stroke-linejoin="round"/>
<path d="M389.8,590L391,588.5" stroke="#1c1cf0" stroke-width="5.0" fill="none" stroke-linecap="round" stroke-linejoin="round"/>
<path d="M391,588.5L392.7,586.4L394.7,583.9L397,581.2L399.2,578.5L401.5,576L403.6,573.6L405.8,571.2L408.1,568.8L410.4,566.4L412.9,564.1L415.5,561.9" stroke="#1c1cf0" stroke-width="4.5" fill="none" stroke-linecap="round" stroke-linejoin="round"/>
<path d="M415.5,561.9L418.4,559.8L421.4,557.6L424.6,555.5L427.8,553.6L431.1,551.8L434.3,550.2L437.3,548.8L440.3,547.7L443.3,546.7L446.4,545.8" stroke="#1c1cf0" stroke-width="4.0" fill="none" stroke-linecap="round" stroke-linejoin="round"/>
<path d="M446.4,545.8L449.6,545L453,544.3L456.6,543.7L460.5,543.2L464.4,542.8L468.5,542.5L472.5,542.2L476.4,542L480.5,541.9L484.9,541.8L489.3,541.9" stroke="#1c1cf0" stroke-width="3.5" fill="none" stroke-linecap="round" stroke-linejoin="round"/>
<path d="M489.3,541.9L493.4,541.9L496.9,542L499.4,542" stroke="#1c1cf0" stroke-width="3.0" fill="none" stroke-linecap="round" stroke-linejoin="round"/>
<path d="M275,545.5L275.7,545.7L276.6,546.1L277.8,546.5L279.1,546.8L280.5,546.9L282,546.7L283.7,546.3L285.5,545.8L287.4,545.1L289.5,544.2L291.6,542.8L293.7,540.8L295.9,538.3L298.2,535.1L300.6,531.5L303,527.7L305.4,523.7L307.8,519.8L310.1,515.8L312.5,511.7L314.8,507.5L317.2,503.1L319.5,498.6L321.8,494L324.2,489.1L326.6,483.8L329,478.5L331.4,473.2L333.7,468.1L335.9,463.5L338,459.4L340.1,455.4L342,451.7L344,448.3L345.8,445.2L347.6,442.5L349.4,440.1L351.1,438.2L352.7,436.5L354.3,435.2L355.7,434.1L357,433.1L357.9,432.4L358.4,432L358.7,431.9L359.2,431.8L360.1,431.9L361.7,431.9L363.9,432L366.7,432.1L369.8,432.3L373.3,432.5L376.8,432.8L380.4,433.1L384,433.4L387.8,433.8L391.8,434.1L395.8,434.5L399.8,435L403.8,435.4L407.7,436L411.6,436.5L415.5,437.1L419.4,437.7L423.3,438.4L427.2,439L431.1,439.6L435,440.2L438.9,440.8L442.8,441.4L446.7,442L450.6,442.5L454.5,442.9L458.4,443.4L462.2,443.7L466.1,444.1L470.1,444.5L474.1,444.8L478.5,445.2L483.3,445.5L488.2,445.9L492.7,446.2L496.6,446.5L499.4,446.7" stroke="#ee1c1c" stroke-width="7.0" fill="none" stroke-linecap="round" stroke-linejoin="round"/>
<path d="M281.6,585.3L283.4,584.9L285.9,584.2L288.8,583.5L292,582.6L295.3,581.7L298.4,580.6L301.4,579.5L304.5,578.1L307.7,576.7L310.8,575.2L314,573.8L317.2,572.4L320.3,571.2L323.5,570L326.7,568.8L329.8,567.6L332.9,566.5L335.9,565.4" stroke="#ee1c1c" stroke-width="7.0" fill="none" stroke-linecap="round" stroke-linejoin="round"/>
<path d="M335.9,565.4L338.8,564.4L341.8,563.3L344.7,562.4L347.4,561.5L350,560.7L352.3,560L354.2,559.5L355.8,559.1L357.3,558.8L358.6,558.6L360,558.6L361.7,558.9L363.5,559.3L365.4,560L367.4,560.9L369.4,561.9L371.4,563L373.4,564.3L375.3,565.6L377.4,567.1" stroke="#ee1c1c" stroke-width="6.5" fill="none" stroke-linecap="round" stroke-linejoin="round"/>
<path d="M377.4,567.1L379.4,568.7L381.3,570.3L383.3,572L385.1,573.6L386.9,575.3L388.7,577.1L390.5,578.9L392.1,580.6L393.4,582L394.4,583" stroke="#ee1c1c" stroke-width="6.0" fill="none" stroke-linecap="round" stroke-linejoin="round"/>
<path d="M282.3,602.7L280.7,604L278.4,605.8L275.7,607.9L272.7,610.4L269.7,613L266.7,615.9L263.7,619L260.5,622.5L257.3,626.2L254,630L250.7,633.8L247.4,637.5L244.2,641.2L241,644.9L237.8,648.7L234.6,652.3L231.4,655.9L228.2,659.2L225,662.3L221.8,665.3L218.6,668.1L215.4,670.8L212.2,673.4L209,676L205.7,678.6L202.5,681.2L199.3,683.8L196.1,686.2L192.9,688.4L189.7,690.5L186.4,692.3L183.1,693.9L179.8,695.4L176.5,696.7L173.4,697.9L170.5,698.9L167.8,699.7L165.2,700.2L162.8,700.6L160.5,700.9L158.2,701.1L156,701.3L153.9,701.5L151.8,701.7L149.9,701.8L147.9,701.8L146,701.7L144,701.3L142,700.7L140.1,699.9L138.1,698.9L136.2,697.8L134.1,696.6L132,695.3L129.7,693.9L127.3,692.3L124.9,690.7L122.4,689L120,687.3L117.5,685.7L115.1,684L112.7,682.4L110.3,680.7L107.9,679.1L105.5,677.5L103.1,676L100.7,674.7L98.3,673.4L95.9,672.2L93.5,671L91.1,669.9L88.7,668.8L86.2,667.7L83.7,666.6L81.2,665.5L78.7,664.5L76.4,663.6L74.2,662.8L72.3,662.2L70.3,661.6L68.5,661.2L66.9,660.9L65.6,660.6L64.6,660.4" stroke="#1c1cf0" stroke-width="3.0" fill="none" stroke-linecap="round" stroke-linejoin="round"/>
<path d="M64.6,647.2L66.2,647.9L68.4,648.9L70.9,650L73.7,651.4L76.5,652.8L79.1,654.4L81.5,656.1L83.9,658L86.3,660.1L88.7,662.2L91.1,664.4L93.5,666.4L95.9,668.4L98.3,670.5L100.7,672.6L103.1,674.6L105.5,676.6L107.9,678.4L110.4,680.2L112.8,682L115.3,683.7L117.7,685.3L120.1,686.8L122.4,688.1L124.5,689.2L126.6,690.1L128.7,690.9L130.6,691.6L132.5,692.3L134.4,692.9L136.1,693.4L137.7,693.8L139.2,694.1L140.7,694.4L142.3,694.8L144,695.3L145.9,695.9L147.8,696.5L149.9,697.2L151.9,698L154,699L156,700.1L158,701.4L160,702.9L162,704.5L164.1,706.1L166.1,707.9L168.1,709.7L170.1,711.6L172.2,713.6L174.2,715.7L176.3,717.8L178.2,719.8L180.1,721.7L181.8,723.5L183.5,725.2L185.1,726.9L186.6,728.4L188.1,729.9L189.7,731.4L191.2,732.7L192.6,734L193.9,735.3L195.4,736.4L197.2,737.5L199.3,738.6L201.9,739.6L204.7,740.5L207.8,741.4L211.1,742.1L214.7,742.8L218.6,743.4L222.8,743.8L227.3,744.2L232,744.4L237,744.6L242.2,744.6L247.4,744.6L253.3,744.4L259.9,744L266.7,743.5L273.1,742.9L278.5,742.5L282.3,742.2" stroke="#a0207a" stroke-width="3.5" fill="none" stroke-linecap="round" stroke-linejoin="round"/>
<path d="M64.6,640L66.2,640.7L68.4,641.6L70.9,642.8L73.7,644.1L76.5,645.6L79.1,647.2L81.5,648.9L83.9,650.7L86.3,652.7L88.7,654.8L91.1,657L93.5,659.2L95.9,661.5L98.3,663.9L100.7,666.4L103.1,668.9L105.5,671.3L107.9,673.6L110.4,675.8L112.8,678L115.3,680.2L117.7,682.2L120.1,684L122.4,685.7L124.5,687.1L126.6,688.3L128.7,689.3L130.6,690.2L132.5,691L134.4,691.7L136.1,692.1L137.8,692.4L139.3,692.5L140.9,692.6L142.4,692.7L144,692.9L145.6,693.1L147.2,693.4L148.8,693.7L150.4,694.1L152,694.6L153.6,695.3L155.2,696.1L156.7,697.2L158.3,698.3L159.9,699.6L161.5,701L163.3,702.5L165.1,704.2L167.1,706.1L169.1,708.1L171.2,710.2L173.2,712.3L175.3,714.5L177.3,716.8L179.3,719.3L181.3,721.9L183.3,724.4L185.3,726.8L187.3,729L189.2,730.9L191,732.7L192.9,734.4L194.8,736L196.9,737.4L199.3,738.6L202,739.6L204.9,740.4L207.9,741L211.2,741.5L214.7,741.9L218.6,742.2L222.8,742.4L227.3,742.5L232,742.5L237,742.4L242.2,742.3L247.4,742.2L253.3,742L259.9,741.8L266.7,741.6L273.1,741.3L278.5,741.1L282.3,741" stroke="#ee1c1c" stroke-width="5.0" fill="none" stroke-linecap="round" stroke-linejoin="round"/>
<path d="M64.6,647.2L65.6,647.6L67,648.1L68.7,648.8" stroke="#1c1cf0" stroke-width="7.0" fill="none" stroke-linecap="round" stroke-linejoin="round"/>
<path d="M68.7,648.8L70.5,649.7L72.4,650.7L74.2,652L76.1,653.5L78.1,655.3L80.1,657.2L82.2,659.4L84.2,661.6L86.3,664L88.3,666.5L90.3,669.1L92.3,671.8L94.3,674.7L96.3,677.7L98.3,680.8L100.3,684.2L102.3,687.7L104.3,691.4L106.3,695.1L108.3,698.8L110.3,702.5L112.4,706.2L114.4,710L116.5,713.8L118.5,717.5L120.5,721L122.4,724.1" stroke="#1c1cf0" stroke-width="7.5" fill="none" stroke-linecap="round" stroke-linejoin="round"/>
<path d="M122.4,724.1L124.1,727L125.8,729.6L127.5,732L129,734.2L130.5,736.4L132,738.6L133.3,740.8L134.7,743.1L135.9,745.3L137.1,747.3L138.2,749.1L139.2,750.6L140.1,751.7L140.7,752.5L141.3,753.1L142,753.5L142.8,753.9L144,754.2L145.6,754.5L147.5,754.8L149.6,754.9L151.8,755L153.9,755.2L156,755.4L158.1,755.7L160.1,756.1L162.2,756.5L164.2,756.9" stroke="#1c1cf0" stroke-width="8.0" fill="none" stroke-linecap="round" stroke-linejoin="round"/>
<path d="M164.2,756.9L166.2,757.3L168.1,757.8L169.9,758.4L171.8,759.1L173.6,759.8L175.3,760.5L176.7,761L177.7,761.4" stroke="#1c1cf0" stroke-width="8.5" fill="none" stroke-linecap="round" stroke-linejoin="round"/>
<path d="M64.6,730.2L66.1,730.1L68.2,730L70.6,729.9L73.4,729.7" stroke="#1c1cf0" stroke-width="6.0" fill="none" stroke-linecap="round" stroke-linejoin="round"/>
<path d="M73.4,729.7L76.2,729.4L79.1,729L82,728.4L85.1,727.7L88.4,726.9L91.7,726L95,725.1L98.3,724.1L101.6,723.2" stroke="#1c1cf0" stroke-width="6.5" fill="none" stroke-linecap="round" stroke-linejoin="round"/>
<path d="M101.6,723.2L104.9,722.2L108.2,721.1L111.5,720.1L114.6,719.1L117.5,718.1L120.3,717.2L122.8,716.3L125.2,715.4L127.5,714.6" stroke="#1c1cf0" stroke-width="7.0" fill="none" stroke-linecap="round" stroke-linejoin="round"/>
<path d="M127.5,714.6L129.8,713.9L132,713.3L134.1,712.9L136.2,712.5L138.1,712.3L140.1,712.1L142,712.1L144,712.1L146,712.3" stroke="#1c1cf0" stroke-width="7.5" fill="none" stroke-linecap="round" stroke-linejoin="round"/>
<path d="M146,712.3L147.9,712.5L149.9,712.8L151.8,713.2L153.9,713.8L156,714.5L158.3,715.4L160.7,716.5L163.1,717.8" stroke="#1c1cf0" stroke-width="8.0" fill="none" stroke-linecap="round" stroke-linejoin="round"/>
<path d="M163.1,717.8L165.6,719.1L168,720.4L170.5,721.7L172.9,723.2L175.3,724.7L177.7,726.3L180.1,727.8L182.5,729.2L184.9,730.2" stroke="#1c1cf0" stroke-width="8.5" fill="none" stroke-linecap="round" stroke-linejoin="round"/>
<path d="M184.9,730.2L187.3,730.9L189.5,731.4L191.8,731.7L194.2,731.9L196.7,731.7L199.3,731.4L202.3,730.7L205.4,729.7L208.7,728.4" stroke="#1c1cf0" stroke-width="9.0" fill="none" stroke-linecap="round" stroke-linejoin="round"/>
<path d="M208.7,728.4L212,727L215.3,725.6L218.6,724.1L221.8,722.7L225,721.1L228.2,719.4L231.4,717.7L234.6,716.1L237.8,714.5" stroke="#1c1cf0" stroke-width="9.5" fill="none" stroke-linecap="round" stroke-linejoin="round"/>
<path d="M237.8,714.5L241.1,713L244.4,711.5L247.7,710L251,708.6L254.1,707.3L257.1,706.1L259.8,705.1L262.4,704.1" stroke="#1c1cf0" stroke-width="10.0" fill="none" stroke-linecap="round" stroke-linejoin="round"/>
<path d="M262.4,704.1L264.8,703.2L267.1,702.5L269.4,701.8L271.5,701.3L273.6,700.9L275.8,700.6L277.8,700.4L279.7,700.3L281.2,700.2" stroke="#1c1cf0" stroke-width="10.5" fill="none" stroke-linecap="round" stroke-linejoin="round"/>
<path d="M281.2,700.2L282.3,700.1" stroke="#1c1cf0" stroke-width="11.0" fill="none" stroke-linecap="round" stroke-linejoin="round"/>
<path d="M64.6,744.6L66.7,744.5" stroke="#ee1c1c" stroke-width="4.0" fill="none" stroke-linecap="round" stroke-linejoin="round"/>
<path d="M66.7,744.5L69.6,744.5L73,744.4L76.7,744.3L80.4,744L83.9,743.4L87.1,742.6L90.3,741.5L93.5,740.3L96.7,739L99.9,737.6L103.1,736.2L106.4,734.7L109.7,733.1" stroke="#ee1c1c" stroke-width="4.5" fill="none" stroke-linecap="round" stroke-linejoin="round"/>
<path d="M109.7,733.1L113,731.4L116.3,729.7L119.4,728L122.4,726.6L125.1,725.1L127.8,723.7L130.3,722.4L132.7,721.2L134.9,720.2L136.8,719.3L138.4,718.8L139.6,718.5L140.5,718.4" stroke="#ee1c1c" stroke-width="5.0" fill="none" stroke-linecap="round" stroke-linejoin="round"/>
<path d="M140.5,718.4L141.5,718.3L142.6,718.3L144,718.1L145.7,718L147.6,717.9L149.6,717.8L151.7,717.6L153.8,717.3L156,716.9L158.2,716.4L160.5,715.7L162.8,714.9L165.2,714" stroke="#ee1c1c" stroke-width="5.5" fill="none" stroke-linecap="round" stroke-linejoin="round"/>
<path d="M165.2,714L167.8,713.1L170.5,712.1L173.4,711.1L176.5,710L179.8,708.8L183.1,707.6L186.4,706.3L189.7,704.9L192.9,703.5L196.1,702.1L199.3,700.5L202.5,698.9L205.7,697.2" stroke="#ee1c1c" stroke-width="6.0" fill="none" stroke-linecap="round" stroke-linejoin="round"/>
<path d="M205.7,697.2L209,695.3L212.2,693.1L215.4,690.7L218.6,688.2L221.8,685.7L225,683.2L228.2,680.8L231.4,678.7L234.6,676.5L237.8,674.5L241,672.5L244.2,670.6L247.4,668.8" stroke="#ee1c1c" stroke-width="6.5" fill="none" stroke-linecap="round" stroke-linejoin="round"/>
<path d="M247.4,668.8L250.7,667.1L254,665.5L257.3,664L260.5,662.6L263.7,661.4L266.7,660.4L269.7,659.6L272.7,659.1L275.7,658.7L278.4,658.4L280.7,658.2L282.3,658" stroke="#ee1c1c" stroke-width="7.0" fill="none" stroke-linecap="round" stroke-linejoin="round"/>
<path d="M282.2,601.9L284,602.1" stroke="#1c1cf0" stroke-width="8.0" fill="none" stroke-linecap="round" stroke-linejoin="round"/>
<path d="M284,602.1L286.3,602.4L289.1,602.7L292.3,603L295.6,603.4L299.1,603.9L302.6,604.4L306.5,604.9L310.6,605.6L314.8,606.2L319,606.9" stroke="#1c1cf0" stroke-width="7.5" fill="none" stroke-linecap="round" stroke-linejoin="round"/>
<path d="M319,606.9L323.1,607.5L327.2,608.1L331.5,608.8L335.8,609.4L339.9,610.1L343.7,610.6L347.2,611.1L350.1,611.5L352.7,611.9L355,612.3" stroke="#1c1cf0" stroke-width="7.0" fill="none" stroke-linecap="round" stroke-linejoin="round"/>
<path d="M355,612.3L357.1,612.5L359.1,612.5L361.1,612.3L363,611.8L364.7,611L366.3,610.1L367.9,609L369.5,607.7L371.2,606.3L373.1,604.6" stroke="#1c1cf0" stroke-width="6.5" fill="none" stroke-linecap="round" stroke-linejoin="round"/>
<path d="M373.1,604.6L375.1,602.7L377.1,600.6L379.2,598.5L381.2,596.3L383.3,594.2L385.3,592.2L387.3,590.1L389.4,587.9L391.4,585.9L393.4,583.9" stroke="#1c1cf0" stroke-width="6.0" fill="none" stroke-linecap="round" stroke-linejoin="round"/>
<path d="M393.4,583.9L395.3,582.2L397.1,580.7L399,579.2L400.8,577.9L402.5,576.7L403.9,575.7L404.9,575" stroke="#1c1cf0" stroke-width="5.5" fill="none" stroke-linecap="round" stroke-linejoin="round"/>
<path d="M394.3,582.9L394.8,583.2L395.3,583.5L396,583.9L397,584.6" stroke="#c41a3c" stroke-width="5.5" fill="none" stroke-linecap="round" stroke-linejoin="round"/>
<path d="M397,584.6L398.3,585.6L400.1,587L402.5,589.1L405.5,591.8L408.9,594.8L412.4,598L416,601.1L419.3,603.9L422.5,606.4L425.7,608.9L429,611.4L432.2,613.8L435.4,616.1L438.6,618.3L441.8,620.5L445,622.7" stroke="#c41a3c" stroke-width="5.0" fill="none" stroke-linecap="round" stroke-linejoin="round"/>
<path d="M445,622.7L448.2,624.8L451.4,626.8L454.6,628.6L457.8,630.3L461,631.9L464.1,633.3L467.3,634.6L470.5,635.7L473.7,636.7L477.1,637.5L480.8,638.2L484.9,638.6L489.1,639L493,639.2" stroke="#c41a3c" stroke-width="4.5" fill="none" stroke-linecap="round" stroke-linejoin="round"/>
<path d="M493,639.2L496.3,639.3L498.7,639.5" stroke="#c41a3c" stroke-width="4.0" fill="none" stroke-linecap="round" stroke-linejoin="round"/>
<path d="M275,658L275.7,658L276.5,657.9L277.6,657.8L278.8,657.8L280.4,657.9L282.2,658L284.4,658.2L286.8,658.6L289.6,659L292.6,659.4L295.7,659.9L299.1,660.4" stroke="#ee1c1c" stroke-width="7.0" fill="none" stroke-linecap="round" stroke-linejoin="round"/>
<path d="M299.1,660.4L302.6,660.9L306.5,661.6L310.6,662.2L314.8,662.8L319,663.5L323.1,664L327.2,664.5L331.5,664.9L335.8,665.4L339.9,665.7L343.7,666.1L347.2,666.4L350.1,666.6" stroke="#ee1c1c" stroke-width="6.5" fill="none" stroke-linecap="round" stroke-linejoin="round"/>
<path d="M350.1,666.6L352.5,666.6L354.7,666.6L356.8,666.7L358.9,667L361.1,667.6L363.6,668.5L366,669.7L368.5,671L371.1,672.5L373.6,674.2L376,676L378.5,678.1L380.9,680.4" stroke="#ee1c1c" stroke-width="6.0" fill="none" stroke-linecap="round" stroke-linejoin="round"/>
<path d="M380.9,680.4L383.3,682.9L385.7,685.4L388.1,688L390.5,690.5L392.9,692.9L395.3,695.5L397.7,698L400.1,700.4L402.5,702.8L404.9,704.9L407.3,706.8L409.5,708.4L411.8,709.9" stroke="#ee1c1c" stroke-width="5.5" fill="none" stroke-linecap="round" stroke-linejoin="round"/>
<path d="M411.8,709.9L414.2,711.3L416.7,712.8L419.3,714.5L422.3,716.4L425.4,718.4L428.7,720.5L432,722.6L435.3,724.7L438.6,726.6L441.8,728.3L445,730.1L448.2,731.7L451.4,733.3" stroke="#ee1c1c" stroke-width="5.0" fill="none" stroke-linecap="round" stroke-linejoin="round"/>
<path d="M451.4,733.3L454.6,734.8L457.8,736.2L461,737.4L464.1,738.6L467.3,739.6L470.5,740.6L473.7,741.4L477.1,742.2L480.8,742.8L484.9,743.3L489.1,743.8L493,744.1L496.3,744.4" stroke="#ee1c1c" stroke-width="4.5" fill="none" stroke-linecap="round" stroke-linejoin="round"/>
<path d="M496.3,744.4L498.7,744.6" stroke="#ee1c1c" stroke-width="4.0" fill="none" stroke-linecap="round" stroke-linejoin="round"/>
<path d="M275,700.1L275.7,700" stroke="#1c1cf0" stroke-width="11.0" fill="none" stroke-linecap="round" stroke-linejoin="round"/>
<path d="M275.7,700L276.5,699.7L277.6,699.5L278.8,699.4L280.4,699.5L282.2,700.1L284.4,701.1L287,702.4" stroke="#1c1cf0" stroke-width="10.5" fill="none" stroke-linecap="round" stroke-linejoin="round"/>
<path d="M287,702.4L289.9,704L292.9,705.8L296,707.7L299.1,709.7L302.1,711.8L305.3,714.2L308.5,716.6" stroke="#1c1cf0" stroke-width="10.0" fill="none" stroke-linecap="round" stroke-linejoin="round"/>
<path d="M308.5,716.6L311.8,719.2L315.1,721.7L318.3,724.1L321.6,726.6L324.9,729.2L328.2,731.8L331.5,734.3" stroke="#1c1cf0" stroke-width="9.5" fill="none" stroke-linecap="round" stroke-linejoin="round"/>
<path d="M331.5,734.3L334.6,736.6L337.5,738.6L340.3,740.3L342.9,741.7L345.4,743L347.7,744.1L349.9,745" stroke="#1c1cf0" stroke-width="9.0" fill="none" stroke-linecap="round" stroke-linejoin="round"/>
<path d="M349.9,745L352,745.8L353.7,746.4L355.2,746.9L356.5,747.2L357.8,747.4L359.3,747.3L361.1,747" stroke="#1c1cf0" stroke-width="8.5" fill="none" stroke-linecap="round" stroke-linejoin="round"/>
<path d="M361.1,747L363.2,746.5L365.5,745.9L367.9,745.1L370.5,744.1L373.2,742.7L376,741L379,738.8" stroke="#1c1cf0" stroke-width="8.0" fill="none" stroke-linecap="round" stroke-linejoin="round"/>
<path d="M379,738.8L382.1,736.3L385.4,733.4L388.7,730.3L392,727.2L395.3,724.1L398.5,721.1L401.7,718" stroke="#1c1cf0" stroke-width="7.5" fill="none" stroke-linecap="round" stroke-linejoin="round"/>
<path d="M401.7,718L404.9,714.8L408.1,711.6L411.3,708.3L414.5,704.9L417.7,701.4L420.9,697.7L424.1,693.9" stroke="#1c1cf0" stroke-width="7.0" fill="none" stroke-linecap="round" stroke-linejoin="round"/>
<path d="M424.1,693.9L427.4,690.2L430.6,686.6L433.8,683.3L437,680.1L440.2,677.1L443.4,674.2L446.6,671.5" stroke="#1c1cf0" stroke-width="6.5" fill="none" stroke-linecap="round" stroke-linejoin="round"/>
<path d="M446.6,671.5L449.8,668.9L453,666.4L456.3,664.1L459.6,661.8L462.9,659.7L466.2,657.8L469.3,656" stroke="#1c1cf0" stroke-width="6.0" fill="none" stroke-linecap="round" stroke-linejoin="round"/>
<path d="M469.3,656L472.3,654.4L475,653L477.5,651.8L479.9,650.7L482.2,649.8L484.5,649.1L486.7,648.4" stroke="#1c1cf0" stroke-width="5.5" fill="none" stroke-linecap="round" stroke-linejoin="round"/>
<path d="M486.7,648.4L489,647.8L491.3,647.4L493.6,647.2L495.7,647L497.4,646.8L498.7,646.7" stroke="#1c1cf0" stroke-width="5.0" fill="none" stroke-linecap="round" stroke-linejoin="round"/>
<path d="M421.7,761.4L422.8,759.5L424.1,757L425.8,753.9L427.6,750.5L429.5,747L431.4,743.4L433.2,739.7L435.1,735.8L437.1,731.7L439.1,727.6L441.2,723.4L443.4,719.3L445.7,715.3L448,711.1L450.5,707L452.9,702.9L455.4,699L457.8,695.3L460.2,691.7L462.6,688.2L465,684.9L467.4,681.7L469.9,678.8L472.3,676L474.7,673.5L477.2,671.2L479.6,669L482.1,667.1L484.4,665.4L486.7,664L489,662.9L491.3,662L493.6,661.5L495.7,661L497.4,660.7L498.7,660.4" stroke="#1c1cf0" stroke-width="3.5" fill="none" stroke-linecap="round" stroke-linejoin="round"/>
<path d="M465,761.4L466.1,760L467.5,757.9L469.3,755.4L471.1,752.8L472.9,750.4L474.7,748.2L476.2,746.4L477.7,744.7L479.2,743L480.7,741.5L482.4,740L484.3,738.6L486.6,737.1L489.3,735.6L492.1,734.1L494.8,732.8L497.1,731.7L498.7,730.9" stroke="#1c1cf0" stroke-width="3.5" fill="none" stroke-linecap="round" stroke-linejoin="round"/>
<path d="M275,741L275.7,740.9L276.7,740.8L277.9,740.7L279.2,740.6L280.7,740.7L282.2,741L284,741.5L286,742.1L288.1,742.9L290.2,743.8L292.3,744.8L294.2,745.8L296,746.8L297.7,748L299.4,749.2L300.9,750.4L302.4,751.7L303.9,753L305.3,754.4L306.7,756L308.1,757.7L309.3,759.2L310.3,760.5L311.1,761.4" stroke="#ee1c1c" stroke-width="5.0" fill="none" stroke-linecap="round" stroke-linejoin="round"/>
</g>
<path d="M64.3,585H499.2" stroke="#333" stroke-width="1.9" stroke-dasharray="10.5 4.2 3 4.3" fill="none"/>
<path d="M143.9,412.3V758M281.5,412.3V758M361.2,412.3V758" stroke="#1a1a1a" stroke-width="1.2" fill="none"/>
<rect x="64.3" y="412.3" width="434.9" height="345.7" fill="none" stroke="#000" stroke-width="1.6"/>
<path d="M64.3,758h3.5 M499.2,758h-3.5 M64.3,723.4h6 M499.2,723.4h-6 M64.3,688.9h3.5 M499.2,688.9h-3.5 M64.3,654.3h6 M499.2,654.3h-6 M64.3,619.7h3.5 M499.2,619.7h-3.5 M64.3,585.1h6 M499.2,585.1h-6 M64.3,550.6h3.5 M499.2,550.6h-3.5 M64.3,516h6 M499.2,516h-6 M64.3,481.4h3.5 M499.2,481.4h-3.5 M64.3,446.9h6 M499.2,446.9h-6 M64.3,412.3h3.5 M499.2,412.3h-3.5 " stroke="#000" stroke-width="1.6" fill="none"/>
<g clip-path="url(#ce)">
<path d="M574.4,423.3 C577.2,422.9 586.4,422.7 591.2,420.9 C596.1,419.1 600.5,415 603.3,412.4 C606.1,409.8 606.7,407.2 608.1,405.2 C609.5,403.2 611.1,401.2 611.7,400.4" stroke="#3a3ad6" stroke-width="1.7" fill="none" stroke-dasharray="1.5 1.6"/>
<path d="M574.4,435.3 C577.2,434.7 585.2,433.5 591.2,431.7 C597.3,429.9 603.2,427.3 610.5,424.5 C617.8,421.7 629.4,417.2 635,414.8 C640.7,412.4 641.9,411.6 644.2,410 C646.5,408.4 647.8,406.8 649,405.2 C650.2,403.6 651,401.2 651.4,400.4" stroke="#3a3ad6" stroke-width="1.7" fill="none" stroke-dasharray="1.5 1.6"/>
<path d="M574.4,463 C577.2,462.9 585.2,463.3 591.2,462.5 C597.3,461.7 604.9,459.8 610.5,458.2 C616.1,456.5 620.8,454.4 624.9,452.9 C629,451.3 631.8,450.3 635,449 C638.2,447.7 641.1,447 644.2,444.9 C647.3,442.8 650.6,439.1 653.8,436.5 C657,433.9 660.2,431.3 663.4,429.3 C666.6,427.3 669.4,425.9 673.1,424.5 C676.7,423.1 681.1,421.9 685.1,420.9 C689.1,419.9 692.7,419.1 697.1,418.5 C701.5,417.9 706.7,417.2 711.6,417.2 C716.4,417.2 723.6,418.3 726,418.5" stroke="#e0202c" stroke-width="1.9" fill="none"/>
<path d="M574.4,457 C576.4,456.3 582.4,455.1 586.4,453.3 C590.4,451.5 594.5,448.9 598.5,446.1 C602.5,443.3 606.5,439.1 610.5,436.5 C614.5,433.9 618.4,431.5 622.5,430.5 C626.6,429.5 631.4,431.5 635,430.5 C638.7,429.5 641.1,427.1 644.2,424.5 C647.3,421.9 651,418.1 653.8,414.8 C656.6,411.6 659.4,407.6 661,405.2 C662.6,402.8 663,401.2 663.4,400.4" stroke="#e0202c" stroke-width="1.9" fill="none"/>
<path d="M574.4,420.9 C577.2,420.5 586.4,419.5 591.2,418.5 C596.1,417.4 599.3,416.6 603.3,414.8 C607.3,413 612.1,409.4 615.3,407.6 C618.5,405.8 620.7,405.2 622.5,404 C624.3,402.8 625.5,401 626.1,400.4" stroke="#e0202c" stroke-width="1.9" fill="none"/>
<path d="M586.4,422.1 C588.4,421.5 594.5,419.5 598.5,418.5 C602.5,417.4 606.9,417 610.5,416 C614.1,415 616.9,414.2 620.1,412.4 C623.3,410.6 627.5,407.2 629.7,405.2 C632,403.2 632.8,401.2 633.4,400.4" stroke="#e0202c" stroke-width="1.9" fill="none"/>
<path d="M760.1,436.5 C761.7,437.1 766.1,439.7 769.7,440.1 C773.4,440.5 778.2,439.9 781.8,438.9 C785.4,437.9 788.2,436.5 791.4,434.1 C794.6,431.7 798.2,427.3 801,424.5 C803.8,421.7 805.8,419.7 808.2,417.2 C810.7,414.8 813.1,412 815.5,410 C817.9,408 820.7,406.6 822.7,405.2 C824.7,403.8 826.7,402.2 827.5,401.6" stroke="#3a3ad6" stroke-width="1.7" fill="none" stroke-dasharray="1.5 1.6"/>
<path d="M772.2,402.8 C773.8,403.6 778.6,405.6 781.8,407.6 C785,409.6 788.2,412.4 791.4,414.8 C794.6,417.2 798.2,420.1 801,422.1 C803.8,424.1 805,425.7 808.2,426.9 C811.5,428.1 816.3,429.7 820.3,429.3 C824.3,428.9 828.3,425.7 832.3,424.5 C836.3,423.3 840.3,421.3 844.3,422.1 C848.3,422.9 852.6,427.3 856.4,429.3 C860.2,431.3 865.4,433.3 867.2,434.1" stroke="#3a3ad6" stroke-width="1.7" fill="none" stroke-dasharray="1.5 1.6"/>
<path d="M813.1,405.2 C814.3,406.4 817.5,411.6 820.3,412.4 C823.1,413.2 827.1,411.2 829.9,410 C832.7,408.8 835.1,406.6 837.1,405.2 C839.1,403.8 841.1,402.2 841.9,401.6" stroke="#3a3ad6" stroke-width="1.7" fill="none" stroke-dasharray="1.5 1.6"/>
<path d="M851.6,405.2 C852.8,407.2 856.2,414.4 858.8,417.2 C861.4,420.1 865.8,421.3 867.2,422.1" stroke="#3a3ad6" stroke-width="1.7" fill="none" stroke-dasharray="1.5 1.6"/>
<path d="M692.8,420.9 C693.6,421.5 695.6,422.3 697.6,424.5 C699.6,426.7 702.4,431.3 704.8,434.1 C707.2,436.9 709.5,439.9 712,441.3 C714.5,442.7 716.7,442.1 719.9,442.5 C723.1,442.9 727.8,442.7 731.2,443.7 C734.7,444.7 738.1,446.1 740.9,448.5 C743.7,450.9 745.7,454.9 748.1,458.2 C750.5,461.4 753.3,465.6 755.3,467.8 C757.3,470 757.7,470.6 760.1,471.4 C762.5,472.2 766.1,472.6 769.7,472.6 C773.4,472.6 778.2,472.2 781.8,471.4 C785.4,470.6 788.2,470 791.4,467.8 C794.6,465.6 797.8,461.8 801,458.2 C804.2,454.5 807.8,449.5 810.7,446.1 C813.5,442.7 815.9,439.5 817.9,437.7 C819.9,435.9 820.7,434.5 822.7,435.3 C824.7,436.1 827.1,439.5 829.9,442.5 C832.7,445.5 835.9,450.3 839.5,453.3 C843.1,456.3 846.9,459 851.6,460.6 C856.2,462.2 864.6,462.6 867.2,463" stroke="#e0202c" stroke-width="1.9" fill="none"/>
<path d="M760.1,434.1 C761.7,433.7 766.9,433.3 769.7,431.7 C772.6,430.1 774.6,426.9 777,424.5 C779.4,422.1 781.4,419.7 784.2,417.2 C787,414.8 791,411.6 793.8,410 C796.6,408.4 798.6,407.2 801,407.6 C803.4,408 805.8,410 808.2,412.4 C810.7,414.8 812.7,419.3 815.5,422.1 C818.3,424.9 822.3,425.7 825.1,429.3 C827.9,432.9 829.1,439.7 832.3,443.7 C835.5,447.7 838.5,450.9 844.3,453.3 C850.2,455.7 863.4,457.4 867.2,458.2" stroke="#e0202c" stroke-width="1.9" fill="none"/>
<path d="M781.8,438.9 C783.4,440.1 788.2,443.3 791.4,446.1 C794.6,448.9 797.8,453.7 801,455.7 C804.2,457.8 807,458.2 810.7,458.2 C814.3,458.2 819.1,457.8 822.7,455.7 C826.3,453.7 829.1,449.7 832.3,446.1 C835.5,442.5 839.1,437.7 841.9,434.1 C844.7,430.5 846.7,426.1 849.2,424.5 C851.6,422.9 853.4,424.9 856.4,424.5 C859.4,424.1 865.4,422.5 867.2,422.1" stroke="#e0202c" stroke-width="1.9" fill="none"/>
<path d="M784.2,410 C787.4,410.4 798.6,410.4 803.4,412.4 C808.2,414.4 809.9,419.7 813.1,422.1 C816.3,424.5 818.7,426.1 822.7,426.9 C826.7,427.7 832.7,427.1 837.1,426.9 C841.5,426.7 845.9,425.3 849.2,425.7 C852.4,426.1 853.4,428.3 856.4,429.3 C859.4,430.3 865.4,431.3 867.2,431.7" stroke="#e0202c" stroke-width="1.9" fill="none"/>
<path d="M846.7,424.5 C847.9,426.1 851.6,430.5 854,434.1 C856.4,437.7 859,442.5 861.2,446.1 C863.4,449.7 866.2,454.1 867.2,455.7" stroke="#e0202c" stroke-width="1.9" fill="none"/>
<path d="M774.6,402.8 C775.8,404.4 780.2,410 781.8,412.4 C783.4,414.8 783.8,416.4 784.2,417.2" stroke="#e0202c" stroke-width="1.9" fill="none"/>
<path d="M832.3,402.8 C833.9,403.6 838.7,407.2 841.9,407.6 C845.1,408 848.3,406.2 851.6,405.2 C854.8,404.2 859.6,402.2 861.2,401.6" stroke="#e0202c" stroke-width="1.9" fill="none"/>
<path d="M574.4,588.2 C576.4,588.8 582,589.6 586.4,591.8 C590.8,594 596.5,598.3 600.9,601.5 C605.3,604.7 609.3,608.9 612.9,611.1 C616.5,613.3 619,613.7 622.5,614.7 C626.1,615.7 630.5,617.1 634.1,617.1 C637.7,617.1 640.5,615.3 644.2,614.7 C647.9,614.1 652.2,612.9 656.2,613.5 C660.2,614.1 663.8,615.9 668.2,618.3 C672.7,620.7 677.9,624.3 682.7,627.9 C687.5,631.5 692.7,636.8 697.1,640 C701.5,643.2 705.3,646 709.2,647.2 C713,648.4 718.2,647.2 720,647.2" stroke="#3a3ad6" stroke-width="1.7" fill="none" stroke-dasharray="1.5 1.6"/>
<path d="M574.4,624.3 C576.4,624.9 582.4,625.7 586.4,627.9 C590.4,630.1 594.5,634.4 598.5,637.6 C602.5,640.8 606.9,644.8 610.5,647.2 C614.1,649.6 616.2,653 620.1,652 C624.1,651 630.1,641.6 634.1,641.2 C638.1,640.8 640.9,645.8 644.2,649.6 C647.5,653.4 651,660 653.8,664 C656.6,668 658.2,671.6 661,673.7 C663.8,675.7 667,676.5 670.7,676.1 C674.3,675.7 678.3,673.3 682.7,671.2 C687.1,669.2 692.7,665.2 697.1,664 C701.5,662.8 705.3,663.6 709.2,664 C713,664.4 718.2,666 720,666.4" stroke="#3a3ad6" stroke-width="1.7" fill="none" stroke-dasharray="1.5 1.6"/>
<path d="M574.4,638.8 C576.4,637.8 582.4,635.4 586.4,632.7 C590.4,630.1 594.5,626.3 598.5,623.1 C602.5,619.9 606.9,614.3 610.5,613.5 C614.1,612.7 616.9,615.9 620.1,618.3 C623.3,620.7 627.4,625.7 629.7,627.9 C632.1,630.1 631.7,630.7 634.1,631.5 C636.5,632.3 640.5,631.3 644.2,632.7 C647.9,634.2 652.2,636.4 656.2,640 C660.2,643.6 664.2,649.2 668.2,654.4 C672.3,659.6 676.3,665.2 680.3,671.2 C684.3,677.3 688.3,684.9 692.3,690.5 C696.3,696.1 700.3,700.9 704.3,704.9 C708.3,708.9 713.8,712.6 716.4,714.6 C719,716.6 719.4,716.6 720,717" stroke="#3a3ad6" stroke-width="1.7" fill="none" stroke-dasharray="1.5 1.6"/>
<path d="M574.4,671.2 C577.2,670.4 585.6,668.8 591.2,666.4 C596.9,664 602.9,660 608.1,656.8 C613.3,653.6 618.2,649.8 622.5,647.2 C626.9,644.6 630.5,640 634.1,641.2 C637.7,642.4 640.9,648.6 644.2,654.4 C647.5,660.2 650.6,668.4 653.8,676.1 C657,683.7 660.2,692.9 663.4,700.1 C666.6,707.3 669.9,714.2 673.1,719.4 C676.3,724.6 679.5,728.6 682.7,731.4 C685.9,734.2 688.3,735.6 692.3,736.2 C696.3,736.8 702.1,735.4 706.7,735 C711.4,734.6 717.8,734 720,733.8" stroke="#3a3ad6" stroke-width="1.7" fill="none" stroke-dasharray="1.5 1.6"/>
<path d="M591.2,760.3 C592.9,757.1 597.3,748.2 600.9,741 C604.5,733.8 608.9,723 612.9,717 C616.9,710.9 621.4,707.3 624.9,704.9 C628.5,702.5 630.9,702.7 634.1,702.5 C637.3,702.3 640.9,702.5 644.2,703.7 C647.5,704.9 650.6,706.3 653.8,709.7 C657,713.2 660.6,719 663.4,724.2 C666.2,729.4 668.6,735 670.7,741 C672.7,747 674.7,757.1 675.5,760.3" stroke="#3a3ad6" stroke-width="1.7" fill="none" stroke-dasharray="1.5 1.6"/>
<path d="M574.4,585.8 C576.4,586.4 582,587.2 586.4,589.4 C590.8,591.6 596.5,596.3 600.9,599.1 C605.3,601.9 609.3,604.9 612.9,606.3 C616.5,607.7 619,606.7 622.5,607.5 C626.1,608.3 630.5,610.7 634.1,611.1 C637.7,611.5 640.5,610.1 644.2,609.9 C647.9,609.7 652.2,609.3 656.2,609.9 C660.2,610.5 663.8,611.3 668.2,613.5 C672.7,615.7 677.9,619.7 682.7,623.1 C687.5,626.5 693.1,631.5 697.1,634 C701.1,636.4 702.9,637.2 706.7,637.6 C710.6,638 717.8,636.6 720,636.4" stroke="#e0202c" stroke-width="1.9" fill="none"/>
<path d="M574.4,617.1 C576,617.3 580.4,616.5 584,618.3 C587.6,620.1 592.1,624.7 596.1,627.9 C600.1,631.1 604.5,635.2 608.1,637.6 C611.7,640 614.5,642.8 617.7,642.4 C620.9,642 624.6,637 627.3,635.2 C630.1,633.3 631.7,631.1 634.1,631.5 C636.5,631.9 639.3,635 641.8,637.6 C644.3,640.2 646.2,643.6 649,647.2 C651.8,650.8 655.4,656.4 658.6,659.2 C661.8,662 665,663.6 668.2,664 C671.5,664.4 674.3,663.2 677.9,661.6 C681.5,660 685.9,656 689.9,654.4 C693.9,652.8 696.9,652 701.9,652 C706.9,652 717,654 720,654.4" stroke="#e0202c" stroke-width="1.9" fill="none"/>
<path d="M574.4,632.7 C576.4,631.9 582.8,629.9 586.4,627.9 C590,625.9 592.9,623.5 596.1,620.7 C599.3,617.9 602.9,613.5 605.7,611.1 C608.5,608.7 609.7,606.3 612.9,606.3 C616.1,606.3 621.4,608.3 624.9,611.1 C628.5,613.9 630.9,620.7 634.1,623.1 C637.3,625.5 640.9,624.3 644.2,625.5 C647.5,626.7 650.2,627.5 653.8,630.3 C657.4,633.1 661.8,638 665.8,642.4 C669.9,646.8 673.9,651.6 677.9,656.8 C681.9,662 685.9,668 689.9,673.7 C693.9,679.3 698.3,686.1 701.9,690.5 C705.5,694.9 708.5,697.9 711.6,700.1 C714.6,702.3 718.6,703.1 720,703.7" stroke="#e0202c" stroke-width="1.9" fill="none"/>
<path d="M574.4,660.4 C577.2,659.8 585.6,659 591.2,656.8 C596.9,654.6 602.9,650.4 608.1,647.2 C613.3,644 618.2,640.2 622.5,637.6 C626.9,635 631.3,631.5 634.1,631.5 C636.9,631.5 637.3,634.2 639.4,637.6 C641.5,641 644.2,646.8 646.6,652 C649,657.2 651.4,663.2 653.8,668.8 C656.2,674.5 658.6,680.5 661,685.7 C663.4,690.9 665.4,695.7 668.2,700.1 C671.1,704.5 673.9,709.1 677.9,712.2 C681.9,715.2 687.5,717.2 692.3,718.2 C697.1,719.2 702.1,718.4 706.7,718.2 C711.4,718 717.8,717.2 720,717" stroke="#e0202c" stroke-width="1.9" fill="none"/>
<path d="M634.1,631.5 C635.2,633.1 638.3,636.6 640.6,641.2 C642.9,645.8 645.2,652.6 647.8,659.2 C650.4,665.8 653.4,673.3 656.2,680.9 C659,688.5 662,697.3 664.6,704.9 C667.2,712.6 669.6,719.8 671.9,726.6 C674.1,733.4 676.1,740.2 677.9,745.8 C679.7,751.5 681.9,757.9 682.7,760.3" stroke="#e0202c" stroke-width="1.9" fill="none"/>
<path d="M574.4,741 C576.4,740.2 582,740.6 586.4,736.2 C590.8,731.8 596.1,721.8 600.9,714.6 C605.7,707.3 611.3,697.5 615.3,692.9 C619.3,688.3 621.8,688 624.9,686.9 C628.1,685.8 630.9,686.2 634.1,686.2 C637.3,686.2 640.9,685.8 644.2,686.9 C647.5,688 651,689.9 653.8,692.9 C656.6,695.9 659,700.5 661,704.9 C663,709.3 664.2,714.6 665.8,719.4 C667.4,724.2 669,729 670.7,733.8 C672.3,738.6 673.9,743.8 675.5,748.2 C677.1,752.7 679.5,758.3 680.3,760.3" stroke="#e0202c" stroke-width="1.9" fill="none"/>
<path d="M600.9,760.3 C603.3,758.7 610.9,753.1 615.3,750.6 C619.7,748.2 624.2,746.9 627.3,745.8 C630.5,744.8 630.5,744.8 634.1,744.2 C637.7,743.6 643.3,742.7 649,742.2 C654.7,741.7 663.4,740.8 668.2,741 C673.1,741.2 674.7,742 677.9,743.4 C681.1,744.8 684.3,748 687.5,749.4 C690.7,750.9 693.5,752.9 697.1,751.9 C700.7,750.9 705.3,746.8 709.2,743.4 C713,740 718.2,733.4 720,731.4" stroke="#e0202c" stroke-width="1.9" fill="none"/>
<path d="M719.9,647.7 C723.4,647.6 734.2,647.3 740.9,647.2 C747.6,647 753.3,646.9 760.1,646.7 C766.9,646.5 775.4,646.9 781.8,646 C788.2,645.1 793.4,643.2 798.6,641.2 C803.8,639.2 808.2,636.2 813.1,634 C817.9,631.7 822.7,629.5 827.5,627.9 C832.3,626.3 835.3,625.1 841.9,624.3 C848.5,623.5 863,623.3 867.2,623.1" stroke="#3a3ad6" stroke-width="1.7" fill="none" stroke-dasharray="1.5 1.6"/>
<path d="M719.9,667.2 C723.4,667 735.4,666 740.9,666.4 C746.4,666.9 748.9,667.6 752.9,670 C756.9,672.4 761.3,677.5 764.9,680.9 C768.5,684.3 771.8,688.5 774.6,690.5 C777.4,692.5 778.6,693.7 781.8,692.9 C785,692.1 789.8,688.5 793.8,685.7 C797.8,682.9 801.8,679.7 805.8,676.1 C809.9,672.4 813.9,668 817.9,664 C821.9,660 825.9,655.2 829.9,652 C833.9,648.8 837.5,646.6 841.9,644.8 C846.3,643 852.2,641.8 856.4,641.2 C860.6,640.6 865.4,641.2 867.2,641.2" stroke="#3a3ad6" stroke-width="1.7" fill="none" stroke-dasharray="1.5 1.6"/>
<path d="M719.9,733.3 C722.6,733.6 731,734.1 736.1,735 C741.2,735.9 745.7,736.8 750.5,738.6 C755.3,740.4 759.7,743.4 764.9,745.8 C770.1,748.2 776.6,751.5 781.8,753.1 C787,754.7 791,754.9 796.2,755.5 C801.4,756.1 809,756.9 813.1,756.7 C817.1,756.5 817.5,756.5 820.3,754.3 C823.1,752.1 826.7,748 829.9,743.4 C833.1,738.8 836.3,733 839.5,726.6 C842.7,720.2 845.9,712.2 849.2,704.9 C852.4,697.7 855.8,688.9 858.8,683.3 C861.8,677.7 865.8,673.3 867.2,671.2" stroke="#3a3ad6" stroke-width="1.7" fill="none" stroke-dasharray="1.5 1.6"/>
<path d="M712,751.9 C714.4,751.7 721.6,751.7 726.4,750.6 C731.2,749.6 736.1,748.2 740.9,745.8 C745.7,743.4 750.5,740.6 755.3,736.2 C760.1,731.8 765.3,724.8 769.7,719.4 C774.2,714 777.4,706.5 781.8,703.7 C786.2,700.9 791.8,703.1 796.2,702.5 C800.6,701.9 804.6,702.1 808.2,700.1 C811.9,698.1 814.7,694.5 817.9,690.5 C821.1,686.5 824.7,681.7 827.5,676.1 C830.3,670.4 832.3,663.2 834.7,656.8 C837.1,650.4 839.5,643.6 841.9,637.6 C844.3,631.5 846.3,626.7 849.2,620.7 C852,614.7 855.8,606.9 858.8,601.5 C861.8,596.1 865.8,590.4 867.2,588.2" stroke="#3a3ad6" stroke-width="1.7" fill="none" stroke-dasharray="1.5 1.6"/>
<path d="M719.9,717 C722.6,717.2 731,717.4 736.1,718.2 C741.2,719 745.7,720.4 750.5,721.8 C755.3,723.2 759.7,725.4 764.9,726.6 C770.1,727.8 777,727.6 781.8,729 C786.6,730.4 789.4,732.2 793.8,735 C798.2,737.8 804.2,742.8 808.2,745.8 C812.3,748.8 815.1,750.6 817.9,753.1 C820.7,755.5 823.9,759.1 825.1,760.3" stroke="#3a3ad6" stroke-width="1.7" fill="none" stroke-dasharray="1.5 1.6"/>
<path d="M719.9,636.4 C723.4,636.2 734.2,635.8 740.9,635.6 C747.6,635.4 753.3,635.3 760.1,635.2 C766.9,635 776.2,635.3 781.8,634.7 C787.4,634.1 789.4,633.1 793.8,631.5 C798.2,630 803,627.5 808.2,625.5 C813.5,623.5 819.5,621 825.1,619.5 C830.7,618 834.9,617 841.9,616.4 C849,615.8 863,616 867.2,615.9" stroke="#e0202c" stroke-width="1.9" fill="none"/>
<path d="M719.9,655.6 C722.6,655.4 731,654.2 736.1,654.4 C741.2,654.6 745.7,654.8 750.5,656.8 C755.3,658.8 760.9,663.2 764.9,666.4 C768.9,669.6 771.8,673.9 774.6,676.1 C777.4,678.3 779,679.7 781.8,679.7 C784.6,679.7 787.8,678.3 791.4,676.1 C795,673.9 799.4,670 803.4,666.4 C807.4,662.8 811.5,658 815.5,654.4 C819.5,650.8 823.1,647.8 827.5,644.8 C831.9,641.8 837.1,638.2 841.9,636.4 C846.7,634.6 852.2,634.4 856.4,634 C860.6,633.5 865.4,634 867.2,634" stroke="#e0202c" stroke-width="1.9" fill="none"/>
<path d="M719.9,703.7 C722.6,703.9 731,704.3 736.1,704.9 C741.2,705.5 745.7,706.1 750.5,707.3 C755.3,708.5 759.7,710.9 764.9,712.2 C770.1,713.4 777.4,713 781.8,714.6 C786.2,716.2 788.2,719 791.4,721.8 C794.6,724.6 797.8,728.6 801,731.4 C804.2,734.2 807.6,737.2 810.7,738.6 C813.7,740 815.5,739.5 819.1,739.8 C822.7,740.1 827.3,740.3 832.3,740.5 C837.3,740.7 843.3,740.9 849.2,741 C855,741.1 864.2,741 867.2,741" stroke="#e0202c" stroke-width="1.9" fill="none"/>
<path d="M719.9,717 C722.6,717.2 731,717.8 736.1,718.2 C741.2,718.6 745.7,717.6 750.5,719.4 C755.3,721.2 759.7,726.4 764.9,729 C770.1,731.6 776.6,733.8 781.8,735 C787,736.2 791,735.6 796.2,736.2 C801.4,736.8 809,738.2 813.1,738.6 C817.1,739 817.9,740.2 820.3,738.6 C822.7,737 824.7,733.8 827.5,729 C830.3,724.2 833.9,716.6 837.1,709.7 C840.3,702.9 843.5,694.9 846.7,688.1 C850,681.3 853,673.5 856.4,668.8 C859.8,664.2 865.4,661.8 867.2,660.4" stroke="#e0202c" stroke-width="1.9" fill="none"/>
<path d="M719.9,731.4 C722.6,731 731,730.6 736.1,729 C741.2,727.4 746.5,724.6 750.5,721.8 C754.5,719 756.5,716.2 760.1,712.2 C763.7,708.1 768.5,701.9 772.2,697.7 C775.8,693.5 777.8,688.9 781.8,686.9 C785.8,684.9 791.8,686.3 796.2,685.7 C800.6,685.1 804.6,684.9 808.2,683.3 C811.9,681.7 814.7,679.7 817.9,676.1 C821.1,672.4 824.7,666.4 827.5,661.6 C830.3,656.8 832.3,652.8 834.7,647.2 C837.1,641.6 839.5,634.4 841.9,627.9 C844.3,621.5 846.7,614.3 849.2,608.7 C851.6,603.1 853.4,598.5 856.4,594.2 C859.4,590 865.4,585.2 867.2,583.4" stroke="#e0202c" stroke-width="1.9" fill="none"/>
<path d="M769.7,760.3 C771,758.7 775,752.9 777,750.6 C779,748.4 778.6,747.4 781.8,747 C785,746.6 791.8,747.6 796.2,748.2 C800.6,748.8 804.6,750.4 808.2,750.6 C811.9,750.9 814.7,749 817.9,749.4 C821.1,749.8 824.3,751.3 827.5,753.1 C830.7,754.9 835.5,759.1 837.1,760.3" stroke="#e0202c" stroke-width="1.9" fill="none"/>
</g>
<path d="M574.4,580.5H866" stroke="#333" stroke-width="1.6" stroke-dasharray="10.5 4.2 3 4.3" fill="none"/>
<path d="M634.5,402.2V758.5M719.7,402.2V758.5M781.2,402.2V758.5" stroke="#1a1a1a" stroke-width="1.7" fill="none"/>
<rect x="574.4" y="402.2" width="291.6" height="356.3" fill="none" stroke="#000" stroke-width="2"/>
<path d="M574.4,758.5h6 M866,758.5h-6 M574.4,740.7h3.5 M866,740.7h-3.5 M574.4,722.9h6 M866,722.9h-6 M574.4,705.1h3.5 M866,705.1h-3.5 M574.4,687.2h6 M866,687.2h-6 M574.4,669.4h3.5 M866,669.4h-3.5 M574.4,651.6h6 M866,651.6h-6 M574.4,633.8h3.5 M866,633.8h-3.5 M574.4,616h6 M866,616h-6 M574.4,598.2h3.5 M866,598.2h-3.5 M574.4,580.4h6 M866,580.4h-6 M574.4,562.5h3.5 M866,562.5h-3.5 M574.4,544.7h6 M866,544.7h-6 M574.4,526.9h3.5 M866,526.9h-3.5 M574.4,509.1h6 M866,509.1h-6 M574.4,491.3h3.5 M866,491.3h-3.5 M574.4,473.5h6 M866,473.5h-6 M574.4,455.6h3.5 M866,455.6h-3.5 M574.4,437.8h6 M866,437.8h-6 M574.4,420h3.5 M866,420h-3.5 M574.4,402.2h6 M866,402.2h-6 " stroke="#000" stroke-width="2" fill="none"/>
<g clip-path="url(#cde)">
<polyline points="876,467.7 879.6,466.5 889.2,467.7 882,465.3 884.4,458.1 889.2,450.9 896.4,446.1 898.8,441.3 901.2,436.5 908.5,434.1 906.1,429.2 913.3,426.8 918.1,422 925.3,420.8 920.5,419.6 931.3,417.2 918.1,416 908.5,414.8 906.1,410 908.5,405.2 906.1,402.8" stroke="#22ee22" stroke-width="1.8" fill="none" stroke-linejoin="round"/>
<polyline points="876,467.7 879.6,460.5 882,455.7 884.4,450.9 889.2,446.1 891.6,441.3 894,436.5 896.4,431.7 901.2,426.8 898.8,422 906.1,419.6 908.5,417.2 901.2,416 894,412.4 891.6,407.6 894,402.8" stroke="#1a1ad8" stroke-width="1.8" fill="none" stroke-linejoin="round"/>
<polyline points="876,467.7 877.2,460.5 878.4,453.3 879.6,446.1 880.8,441.3 882,434.1 883.2,426.8 884.4,422 885.6,417.2 884.4,410 885.6,405.2 884.4,402.8" stroke="#e0202c" stroke-width="1.6" fill="none" stroke-linejoin="round"/>
<polyline points="876,467.7 877.2,458.1 879.6,448.5 882,438.9 883.2,429.2 884.4,422 886.8,417.2 884.4,410 883.2,402.8" stroke="#111" stroke-width="1.5" fill="none" stroke-linejoin="round"/>
<polyline points="876,579.8 879.6,589.4 884.4,599 894,602.6 944.5,603.4 898.8,605 906.1,611.1 990.2,614.2 937.3,615.9 932.5,620.7 942.1,623.1 966.2,625.5 1002.2,630.8 942.1,632.7 913.3,636.3 910.9,642.3 918.1,647.1 985.4,649 922.9,651.9 932.5,657.9 906.1,663.9 901.2,671.2 903.7,678.4 932.5,682 913.3,685.6 906.1,690.4 908.5,696.4 898.8,700 894,706 1035.9,712.7 918.1,714.4 903.7,716.8 910.9,721.6 918.1,725.2 922.9,728.8 1004.6,734.1 942.1,736.1 958.9,738.5 918.1,740.9 903.7,744.5 956.5,748.1 918.1,750.5 910.9,754.1 906.1,757" stroke="#22ee22" stroke-width="1.8" fill="none" stroke-linejoin="round"/>
<polyline points="876,579.8 877.2,589.4 882,599 908.5,602.6 889.2,606.2 886.8,611.1 934.9,613.5 910.9,615.9 913.3,623.1 927.7,626.7 958.9,630.3 930.1,631.5 906.1,632.7 896.4,637.5 894,644.7 920.5,649.5 903.7,651.9 896.4,655.5 901.2,657.9 894,661.5 889.2,666.3 886.8,673.6 898.8,682 891.6,685.6 886.8,690.4 884.4,700 889.2,709.6 898.8,712 889.2,715.6 884.4,719.2 891.6,731.2 894,736.1 882,740.9 886.8,745.7 884.4,750.5 889.2,757" stroke="#111" stroke-width="1.5" fill="none" stroke-linejoin="round"/>
<polyline points="876,579.8 878.4,591.8 884.4,601.4 889.2,602.6 886.8,608.7 889.2,620.7 891.6,625.5 896.4,627.9 901.2,632.7 894,637.5 889.2,642.3 901.2,647.1 918.1,649 894,651.9 889.2,659.1 886.8,671.2 891.6,683.2 889.2,690.4 894,700 884.4,707.2 930.1,712.5 889.2,714.4 884.4,719.2 894,728.8 896.4,734.9 913.3,739.7 894,743.3 910.9,748.1 889.2,752.9 896.4,757" stroke="#1a1ad8" stroke-width="1.8" fill="none" stroke-linejoin="round"/>
<polyline points="876,579.8 877.2,589.4 879.6,599 886.8,602.6 879.6,606.2 882,613.5 886.8,620.7 896.4,627.9 889.2,632.7 884.4,637.5 882,644.7 886.8,651.9 882,656.7 884.4,666.3 886.8,676 882,685.6 879.6,695.2 882,704.8 894,712 882,714.4 879.6,719.2 886.8,728.8 925.3,734.1 889.2,738.5 884.4,743.3 889.2,748.1 884.4,752.9 886.8,757" stroke="#e0202c" stroke-width="1.6" fill="none" stroke-linejoin="round"/>
</g>
<path d="M875.5,580.5H1069.6" stroke="#333" stroke-width="1.6" stroke-dasharray="10.5 4.2 3 4.3" fill="none"/>
<rect x="875.5" y="402.3" width="194.1" height="355.7" fill="none" stroke="#000" stroke-width="2"/>
<path d="M875.5,758h6 M1069.6,758h-6 M875.5,740.2h3.5 M1069.6,740.2h-3.5 M875.5,722.4h6 M1069.6,722.4h-6 M875.5,704.6h3.5 M1069.6,704.6h-3.5 M875.5,686.9h6 M1069.6,686.9h-6 M875.5,669.1h3.5 M1069.6,669.1h-3.5 M875.5,651.3h6 M1069.6,651.3h-6 M875.5,633.5h3.5 M1069.6,633.5h-3.5 M875.5,615.7h6 M1069.6,615.7h-6 M875.5,597.9h3.5 M1069.6,597.9h-3.5 M875.5,580.1h6 M1069.6,580.1h-6 M875.5,562.4h3.5 M1069.6,562.4h-3.5 M875.5,544.6h6 M1069.6,544.6h-6 M875.5,526.8h3.5 M1069.6,526.8h-3.5 M875.5,509h6 M1069.6,509h-6 M875.5,491.2h3.5 M1069.6,491.2h-3.5 M875.5,473.4h6 M1069.6,473.4h-6 M875.5,455.7h3.5 M1069.6,455.7h-3.5 M875.5,437.9h6 M1069.6,437.9h-6 M875.5,420.1h3.5 M1069.6,420.1h-3.5 M875.5,402.3h6 M1069.6,402.3h-6 " stroke="#000" stroke-width="2" fill="none"/>
<g clip-path="url(#cf)">
<path d="M1169.2,407.6 C1170.4,410 1174,415.6 1176.4,422.1 C1178.8,428.5 1181.2,438.5 1183.7,446.1 C1186.1,453.7 1188.1,460.6 1190.9,467.8 C1193.7,475 1197.3,482.6 1200.5,489.4 C1203.7,496.3 1206.9,502.7 1210.1,508.7 C1213.3,514.7 1216.5,520.7 1219.7,525.5 C1223,530.3 1225.8,534.5 1229.4,537.6 C1232.9,540.6 1239,542.6 1240.9,543.6" stroke="#3a3ad6" stroke-width="1.7" fill="none" stroke-dasharray="1.5 1.6"/>
<path d="M1089.3,475 C1091.8,474.2 1099,472.2 1104.2,470.2 C1109.5,468.2 1116.3,465 1121.1,463 C1125.9,461 1129.2,459.4 1133.1,458.2 C1137,457 1140.4,456.5 1144.4,455.7 C1148.4,454.9 1153.1,454.9 1157.2,453.3 C1161.3,451.7 1165.2,448.1 1169.2,446.1 C1173.2,444.1 1177.2,442.5 1181.2,441.3 C1185.3,440.1 1189.3,439.1 1193.3,438.9 C1197.3,438.7 1201.7,440.1 1205.3,440.1 C1208.9,440.1 1210.9,438.3 1214.9,438.9 C1218.9,439.5 1225,442.5 1229.4,443.7 C1233.7,444.9 1239,445.7 1240.9,446.1" stroke="#3a3ad6" stroke-width="1.7" fill="none" stroke-dasharray="1.5 1.6"/>
<path d="M1089.3,477.4 C1091.8,476.6 1099.4,474.6 1104.2,472.6 C1109.1,470.6 1113.9,468.2 1118.7,465.4 C1123.5,462.6 1128.8,459.2 1133.1,455.7 C1137.4,452.3 1140.4,447.7 1144.4,444.9 C1148.4,442.1 1152.7,441.5 1157.2,438.9 C1161.7,436.3 1167.6,432.1 1171.6,429.3 C1175.6,426.5 1178.4,424.5 1181.2,422.1 C1184.1,419.7 1186.5,417.2 1188.5,414.8 C1190.5,412.4 1192.5,408.8 1193.3,407.6" stroke="#3a3ad6" stroke-width="1.7" fill="none" stroke-dasharray="1.5 1.6"/>
<path d="M1089.3,419.7 C1091.8,419.9 1099.4,420.1 1104.2,420.9 C1109.1,421.7 1113.9,423.3 1118.7,424.5 C1123.5,425.7 1128.8,427.3 1133.1,428.1 C1137.4,428.9 1140.8,429.9 1144.4,429.3 C1148,428.7 1151.5,427.3 1154.8,424.5 C1158.1,421.7 1161.6,415.4 1164.4,412.4 C1167.2,409.4 1169.8,408 1171.6,406.4 C1173.4,404.8 1174.6,403.4 1175.2,402.8" stroke="#3a3ad6" stroke-width="1.7" fill="none" stroke-dasharray="1.5 1.6"/>
<path d="M1116.3,405.2 C1117.9,406 1122.7,408 1125.9,410 C1129.1,412 1132.4,414.4 1135.5,417.2 C1138.6,420.1 1142.9,425.3 1144.4,426.9" stroke="#3a3ad6" stroke-width="1.7" fill="none" stroke-dasharray="1.5 1.6"/>
<path d="M1089.3,407.6 C1091.8,407.4 1100.2,407 1104.2,406.4 C1108.3,405.8 1112.3,404.4 1113.9,404" stroke="#3a3ad6" stroke-width="1.7" fill="none" stroke-dasharray="1.5 1.6"/>
<path d="M1089.3,501.5 C1091.8,500.7 1099,499.1 1104.2,496.7 C1109.5,494.2 1116.3,490.2 1121.1,487 C1125.9,483.8 1129.2,479.8 1133.1,477.4 C1137,475 1140.8,474.4 1144.4,472.6 C1148,470.8 1151.5,468 1154.8,466.6 C1158.1,465.2 1161.6,464 1164.4,464.2 C1167.2,464.4 1169.2,466 1171.6,467.8 C1174,469.6 1176.4,471.8 1178.8,475 C1181.2,478.2 1183.3,482.2 1186.1,487 C1188.9,491.8 1192.5,498.3 1195.7,503.9 C1198.9,509.5 1202.1,515.1 1205.3,520.7 C1208.5,526.3 1211.7,532.7 1214.9,537.6 C1218.1,542.4 1221.3,546.1 1224.6,549.6 C1227.8,553.1 1231.5,556.7 1234.2,558.7 C1236.9,560.7 1239.8,561.1 1240.9,561.6" stroke="#e0202c" stroke-width="1.9" fill="none"/>
<path d="M1089.3,494.2 C1091.8,493.6 1099.4,492 1104.2,490.6 C1109.1,489.2 1113.9,487.2 1118.7,485.8 C1123.5,484.4 1128.8,483 1133.1,482.2 C1137.4,481.4 1140.4,481.4 1144.4,481 C1148.4,480.6 1152.7,480.4 1157.2,479.8 C1161.7,479.2 1166.8,478.6 1171.6,477.4 C1176.4,476.2 1181.6,475 1186.1,472.6 C1190.5,470.2 1194.5,466 1198.1,463 C1201.7,460 1204.1,455.3 1207.7,454.5 C1211.3,453.7 1215.7,456.3 1219.7,458.2 C1223.8,460 1228.2,463.4 1231.8,465.4 C1235.3,467.4 1239.4,469.4 1240.9,470.2" stroke="#e0202c" stroke-width="1.9" fill="none"/>
<path d="M1089.3,449.7 C1091.8,449.7 1099.4,449.5 1104.2,449.7 C1109.1,449.9 1113.9,450.1 1118.7,450.9 C1123.5,451.7 1128.8,453.3 1133.1,454.5 C1137.4,455.7 1140.8,458.4 1144.4,458.2 C1148,458 1151.5,455.3 1154.8,453.3 C1158.1,451.3 1160.8,448.5 1164.4,446.1 C1168,443.7 1172.8,441.1 1176.4,438.9 C1180,436.7 1182.4,434.9 1186.1,432.9 C1189.7,430.9 1194.1,428.9 1198.1,426.9 C1202.1,424.9 1206.5,422.9 1210.1,420.9 C1213.7,418.9 1216.5,416.6 1219.7,414.8 C1223,413 1226.6,411.6 1229.4,410 C1232.2,408.4 1235.4,406 1236.6,405.2" stroke="#e0202c" stroke-width="1.9" fill="none"/>
<path d="M1089.3,420.9 C1091,421.5 1096.1,422.7 1099.4,424.5 C1102.7,426.3 1105.5,428.9 1109.1,431.7 C1112.7,434.5 1117.1,438.1 1121.1,441.3 C1125.1,444.5 1129.2,448.3 1133.1,450.9 C1137,453.5 1140.8,457.8 1144.4,457 C1148,456.1 1151.5,450.3 1154.8,446.1 C1158.1,441.9 1161.2,436.5 1164.4,431.7 C1167.6,426.9 1171.2,421.3 1174,417.2 C1176.8,413.2 1179.6,409.8 1181.2,407.6 C1182.9,405.4 1183.3,404.6 1183.7,404" stroke="#e0202c" stroke-width="1.9" fill="none"/>
<path d="M1089.3,408.8 C1091,409.4 1096.1,412.2 1099.4,412.4 C1102.7,412.6 1105.5,411 1109.1,410 C1112.7,409 1117.9,407.4 1121.1,406.4 C1124.3,405.4 1127.1,404.4 1128.3,404" stroke="#e0202c" stroke-width="1.9" fill="none"/>
<path d="M1109.1,405.2 C1110.3,406.4 1113.9,410.4 1116.3,412.4 C1118.7,414.4 1120.7,416 1123.5,417.2 C1126.3,418.5 1129.6,418.9 1133.1,419.7 C1136.6,420.5 1140.4,420.1 1144.4,422.1 C1148.4,424.1 1153.5,428.1 1157.2,431.7 C1160.9,435.3 1163.6,440.1 1166.8,443.7 C1170,447.3 1173.2,450.1 1176.4,453.3 C1179.6,456.5 1182.9,460.6 1186.1,463 C1189.3,465.4 1194.1,467 1195.7,467.8" stroke="#e0202c" stroke-width="1.9" fill="none"/>
<path d="M1181.2,407.6 C1182.9,410 1187.7,417.2 1190.9,422.1 C1194.1,426.9 1197.3,432.1 1200.5,436.5 C1203.7,440.9 1206.9,446.9 1210.1,448.5 C1213.3,450.1 1216.1,447.7 1219.7,446.1 C1223.4,444.5 1228.2,440.5 1231.8,438.9 C1235.3,437.3 1239.4,436.9 1240.9,436.5" stroke="#e0202c" stroke-width="1.9" fill="none"/>
<path d="M1144.4,419.7 C1146.6,420.1 1153.1,420.9 1157.2,422.1 C1161.3,423.3 1165.2,425.7 1169.2,426.9 C1173.2,428.1 1177.2,429.7 1181.2,429.3 C1185.3,428.9 1189.3,426.5 1193.3,424.5 C1197.3,422.5 1201.7,419.7 1205.3,417.2 C1208.9,414.8 1213.3,411.2 1214.9,410" stroke="#e0202c" stroke-width="1.9" fill="none"/>
<path d="M1240.3,537.6 C1241.8,536.4 1246.3,534.3 1249.4,530.3 C1252.6,526.3 1255.9,519.9 1259.1,513.5 C1262.3,507.1 1265.5,498.7 1268.7,491.8 C1271.9,485 1275.1,478.2 1278.3,472.6 C1281.5,467 1285,461.6 1287.9,458.2 C1290.8,454.7 1292.4,453.7 1295.6,452.1 C1298.8,450.5 1303.3,449.7 1307.2,448.5 C1311.1,447.3 1315.2,446.1 1319.2,444.9 C1323.2,443.7 1327.2,443.1 1331.2,441.3 C1335.3,439.5 1339.7,436.5 1343.3,434.1 C1346.9,431.7 1349.7,429.3 1352.9,426.9 C1356.1,424.5 1358.9,421.3 1362.5,419.7 C1366.1,418.1 1369.7,417.9 1374.6,417.2 C1379.4,416.6 1388.6,416.2 1391.4,416" stroke="#3a3ad6" stroke-width="1.7" fill="none" stroke-dasharray="1.5 1.6"/>
<path d="M1287.9,417.2 C1290.3,417.7 1298,418.1 1302.4,419.7 C1306.8,421.3 1310.4,423.7 1314.4,426.9 C1318.4,430.1 1322.4,434.9 1326.4,438.9 C1330.4,442.9 1334.5,447.3 1338.5,450.9 C1342.5,454.5 1346.5,457.8 1350.5,460.6 C1354.5,463.4 1358.5,465.8 1362.5,467.8 C1366.5,469.8 1369.7,471.4 1374.6,472.6 C1379.4,473.8 1388.6,474.6 1391.4,475" stroke="#3a3ad6" stroke-width="1.7" fill="none" stroke-dasharray="1.5 1.6"/>
<path d="M1350.5,405.2 C1351.7,407.2 1355.3,412 1357.7,417.2 C1360.1,422.5 1362.1,430.5 1364.9,436.5 C1367.7,442.5 1371.3,448.1 1374.6,453.3 C1377.8,458.6 1381.4,464.2 1384.2,467.8 C1387,471.4 1390.2,473.8 1391.4,475" stroke="#3a3ad6" stroke-width="1.7" fill="none" stroke-dasharray="1.5 1.6"/>
<path d="M1240.3,446.1 C1241.8,445.5 1246.3,443.9 1249.4,442.5 C1252.6,441.1 1256.3,439.1 1259.1,437.7 C1261.9,436.3 1265.1,434.7 1266.3,434.1" stroke="#3a3ad6" stroke-width="1.7" fill="none" stroke-dasharray="1.5 1.6"/>
<path d="M1240.3,561.6 C1241.8,560.4 1246.3,558 1249.4,554.4 C1252.6,550.8 1255.9,545.6 1259.1,540 C1262.3,534.3 1265.5,526.7 1268.7,520.7 C1271.9,514.7 1275.1,509.1 1278.3,503.9 C1281.5,498.7 1285,492.8 1287.9,489.4 C1290.8,486 1292.4,484.8 1295.6,483.4 C1298.8,482 1303.3,481.8 1307.2,481 C1311.1,480.2 1315.2,480 1319.2,478.6 C1323.2,477.2 1327.2,475.2 1331.2,472.6 C1335.3,470 1339.3,466.2 1343.3,463 C1347.3,459.8 1351.3,455.5 1355.3,453.3 C1359.3,451.1 1363.3,450.3 1367.3,449.7 C1371.3,449.1 1375.4,449.5 1379.4,449.7 C1383.4,449.9 1389.4,450.7 1391.4,450.9" stroke="#e0202c" stroke-width="1.9" fill="none"/>
<path d="M1240.3,470.2 C1241.8,470 1246.3,471 1249.4,469 C1252.6,467 1256.3,462 1259.1,458.2 C1261.9,454.3 1263.9,450.1 1266.3,446.1 C1268.7,442.1 1271.1,437.7 1273.5,434.1 C1275.9,430.5 1278.7,427.3 1280.7,424.5 C1282.7,421.7 1284.7,418.5 1285.5,417.2" stroke="#e0202c" stroke-width="1.9" fill="none"/>
<path d="M1259.1,434.1 C1261.1,435.3 1267.1,439.1 1271.1,441.3 C1275.1,443.5 1279,446.1 1283.1,447.3 C1287.2,448.5 1291.6,447.9 1295.6,448.5 C1299.6,449.1 1303.3,448.9 1307.2,450.9 C1311.1,452.9 1315.2,457.4 1319.2,460.6 C1323.2,463.8 1327.2,467 1331.2,470.2 C1335.3,473.4 1339.3,477 1343.3,479.8 C1347.3,482.6 1350.9,484.6 1355.3,487 C1359.7,489.4 1363.7,492 1369.7,494.2 C1375.8,496.5 1387.8,499.3 1391.4,500.3" stroke="#e0202c" stroke-width="1.9" fill="none"/>
<path d="M1312,405.2 C1313.6,406.4 1318.4,409.6 1321.6,412.4 C1324.8,415.2 1327.6,419.3 1331.2,422.1 C1334.9,424.9 1339.7,427.7 1343.3,429.3 C1346.9,430.9 1350.1,428.9 1352.9,431.7 C1355.7,434.5 1357.7,440.5 1360.1,446.1 C1362.5,451.7 1364.9,459.4 1367.3,465.4 C1369.7,471.4 1371.8,477 1374.6,482.2 C1377.4,487.4 1381.4,493.6 1384.2,496.7 C1387,499.7 1390.2,499.7 1391.4,500.3" stroke="#e0202c" stroke-width="1.9" fill="none"/>
<path d="M1345.7,405.2 C1346.5,407.2 1348.9,414 1350.5,417.2 C1352.1,420.5 1353.3,422.9 1355.3,424.5 C1357.3,426.1 1359.3,426.9 1362.5,426.9 C1365.7,426.9 1369.7,425.3 1374.6,424.5 C1379.4,423.7 1388.6,422.5 1391.4,422.1" stroke="#e0202c" stroke-width="1.9" fill="none"/>
<path d="M1369.7,405.2 C1371.3,405.6 1375.8,406.8 1379.4,407.6 C1383,408.4 1389.4,409.6 1391.4,410" stroke="#e0202c" stroke-width="1.9" fill="none"/>
<path d="M1089.3,615.9 C1091,614.3 1095.7,609.5 1099.4,606.3 C1103.1,603.1 1107.5,598.7 1111.5,596.7 C1115.5,594.6 1119.5,593.8 1123.5,593.8 C1127.5,593.8 1132,595.4 1135.5,596.7 C1139,597.9 1141.2,601.5 1144.4,601.5 C1147.6,601.5 1151,598.1 1154.8,596.7 C1158.5,595.3 1163.2,593.8 1166.8,593 C1170.4,592.2 1173.2,591.4 1176.4,591.8 C1179.6,592.2 1182.4,593.4 1186.1,595.5 C1189.7,597.5 1194.1,600.1 1198.1,603.9 C1202.1,607.7 1206.1,613.9 1210.1,618.3 C1214.1,622.7 1218.1,627.1 1222.2,630.3 C1226.2,633.5 1231.1,636 1234.2,637.6 C1237.3,639.2 1239.8,639.6 1240.9,640" stroke="#3a3ad6" stroke-width="1.7" fill="none" stroke-dasharray="1.5 1.6"/>
<path d="M1089.3,638.8 C1091,639.4 1095.7,641 1099.4,642.4 C1103.1,643.8 1107.5,645.2 1111.5,647.2 C1115.5,649.2 1119.5,651.6 1123.5,654.4 C1127.5,657.2 1132,661.2 1135.5,664 C1139,666.8 1141.2,668.8 1144.4,671.2 C1147.6,673.7 1151.5,675.7 1154.8,678.5 C1158.1,681.3 1160.8,685.3 1164.4,688.1 C1168,690.9 1172.4,693.7 1176.4,695.3 C1180.4,696.9 1184.5,698.1 1188.5,697.7 C1192.5,697.3 1196.5,694.7 1200.5,692.9 C1204.5,691.1 1208.5,688.1 1212.5,686.9 C1216.5,685.7 1219.8,685.3 1224.6,685.7 C1229.3,686.1 1238.2,688.7 1240.9,689.3" stroke="#3a3ad6" stroke-width="1.7" fill="none" stroke-dasharray="1.5 1.6"/>
<path d="M1089.3,661.6 C1091,660.4 1095.7,657.6 1099.4,654.4 C1103.1,651.2 1107.5,646.8 1111.5,642.4 C1115.5,638 1119.5,632.1 1123.5,627.9 C1127.5,623.7 1132,619.5 1135.5,617.1 C1139,614.7 1140.8,614.5 1144.4,613.5 C1148,612.5 1153.5,611.5 1157.2,611.1 C1160.9,610.7 1163.6,610.5 1166.8,611.1 C1170,611.7 1172.8,612.3 1176.4,614.7 C1180,617.1 1184.5,621.7 1188.5,625.5 C1192.5,629.3 1196.5,633.5 1200.5,637.6 C1204.5,641.6 1208.5,646 1212.5,649.6 C1216.5,653.2 1219.8,657 1224.6,659.2 C1229.3,661.4 1238.2,662.2 1240.9,662.8" stroke="#3a3ad6" stroke-width="1.7" fill="none" stroke-dasharray="1.5 1.6"/>
<path d="M1089.3,700.1 C1091.8,699.7 1099,699.3 1104.2,697.7 C1109.5,696.1 1115.9,692.9 1121.1,690.5 C1126.3,688.1 1131.6,685.3 1135.5,683.3 C1139.4,681.3 1141.2,678.9 1144.4,678.5 C1147.6,678.1 1151.5,678.9 1154.8,680.9 C1158.1,682.9 1160.8,686.5 1164.4,690.5 C1168,694.5 1172.4,700.5 1176.4,704.9 C1180.4,709.3 1184.1,714.2 1188.5,717 C1192.9,719.8 1197.7,721.4 1202.9,721.8 C1208.1,722.2 1214.5,720.2 1219.7,719.4 C1225,718.6 1230.7,717.2 1234.2,717 C1237.7,716.8 1239.8,718 1240.9,718.2" stroke="#3a3ad6" stroke-width="1.7" fill="none" stroke-dasharray="1.5 1.6"/>
<path d="M1089.3,668.8 C1091,670.8 1096.1,675.7 1099.4,680.9 C1102.7,686.1 1105.9,693.3 1109.1,700.1 C1112.3,706.9 1115.5,715 1118.7,721.8 C1121.9,728.6 1125.5,734.8 1128.3,741 C1131.1,747.2 1134.3,756.1 1135.5,759.1" stroke="#3a3ad6" stroke-width="1.7" fill="none" stroke-dasharray="1.5 1.6"/>
<path d="M1089.3,743.4 C1091,744.2 1096.1,745.6 1099.4,748.2 C1102.7,750.9 1107.5,757.3 1109.1,759.1" stroke="#3a3ad6" stroke-width="1.7" fill="none" stroke-dasharray="1.5 1.6"/>
<path d="M1195.7,759.1 C1198.1,756.5 1205.3,748.4 1210.1,743.4 C1214.9,738.4 1220.1,733 1224.6,729 C1229,725 1233.9,721.2 1236.6,719.4 C1239.3,717.6 1240.2,718.4 1240.9,718.2" stroke="#3a3ad6" stroke-width="1.7" fill="none" stroke-dasharray="1.5 1.6"/>
<path d="M1089.3,608.7 C1091,607.1 1095.7,602.1 1099.4,599.1 C1103.1,596.1 1107.5,592.4 1111.5,590.6 C1115.5,588.8 1119.5,588.2 1123.5,588.2 C1127.5,588.2 1132,589.4 1135.5,590.6 C1139,591.8 1141.2,595.7 1144.4,595.5 C1147.6,595.3 1151,591.2 1154.8,589.4 C1158.5,587.6 1163.3,585.6 1166.8,584.6 C1170.3,583.6 1172.7,583 1176,583.4 C1179.2,583.8 1182.4,584.8 1186.1,587 C1189.7,589.2 1194.1,593 1198.1,596.7 C1202.1,600.3 1206.1,605.1 1210.1,608.7 C1214.1,612.3 1218.1,615.7 1222.2,618.3 C1226.2,620.9 1231.1,623.1 1234.2,624.3 C1237.3,625.5 1239.8,625.3 1240.9,625.5" stroke="#e0202c" stroke-width="1.9" fill="none"/>
<path d="M1089.3,647.2 C1091,646 1095.7,643.6 1099.4,640 C1103.1,636.4 1107.5,629.9 1111.5,625.5 C1115.5,621.1 1119.5,616.9 1123.5,613.5 C1127.5,610.1 1132,606.9 1135.5,605.1 C1139,603.3 1140.8,603.5 1144.4,602.7 C1148,601.9 1153.1,600.9 1157.2,600.3 C1161.3,599.7 1165.2,598.7 1169.2,599.1 C1173.2,599.5 1177.2,600.7 1181.2,602.7 C1185.3,604.7 1189.3,607.7 1193.3,611.1 C1197.3,614.5 1200.9,619.1 1205.3,623.1 C1209.7,627.1 1214.9,631.5 1219.7,635.2 C1224.6,638.8 1230.7,642.6 1234.2,644.8 C1237.7,647 1239.8,647.8 1240.9,648.4" stroke="#e0202c" stroke-width="1.9" fill="none"/>
<path d="M1089.3,629.1 C1091,629.7 1095.7,630.9 1099.4,632.7 C1103.1,634.6 1107.5,637.6 1111.5,640 C1115.5,642.4 1119.5,644.8 1123.5,647.2 C1127.5,649.6 1132,652.6 1135.5,654.4 C1139,656.2 1141.6,656.8 1144.4,658 C1147.2,659.2 1149.8,659.8 1152.4,661.6 C1154.9,663.4 1156.8,666 1159.6,668.8 C1162.4,671.6 1165.6,676.1 1169.2,678.5 C1172.8,680.9 1176.8,682.5 1181.2,683.3 C1185.7,684.1 1190.9,684.5 1195.7,683.3 C1200.5,682.1 1205.3,678.1 1210.1,676.1 C1214.9,674.1 1219.4,672 1224.6,671.2 C1229.7,670.4 1238.2,671.2 1240.9,671.2" stroke="#e0202c" stroke-width="1.9" fill="none"/>
<path d="M1089.3,684.5 C1091.8,683.9 1099,682.5 1104.2,680.9 C1109.5,679.3 1115.9,676.9 1121.1,674.9 C1126.3,672.9 1131.6,670.2 1135.5,668.8 C1139.4,667.4 1141.2,666.2 1144.4,666.4 C1147.6,666.6 1151.5,668 1154.8,670 C1158.1,672 1160.8,674.7 1164.4,678.5 C1168,682.3 1172.4,688.9 1176.4,692.9 C1180.4,696.9 1184.1,700.1 1188.5,702.5 C1192.9,704.9 1198.1,706.5 1202.9,707.3 C1207.7,708.1 1212.9,707.9 1217.3,707.3 C1221.8,706.7 1225.4,704.9 1229.4,703.7 C1233.3,702.5 1239,700.7 1240.9,700.1" stroke="#e0202c" stroke-width="1.9" fill="none"/>
<path d="M1089.3,656.8 C1090.6,658 1094.1,660 1097,664 C1099.9,668 1103.4,674.5 1106.7,680.9 C1109.9,687.3 1113.1,695.3 1116.3,702.5 C1119.5,709.7 1122.7,717.4 1125.9,724.2 C1129.1,731 1132.7,737.8 1135.5,743.4 C1138.3,749 1141.5,755.5 1142.7,757.9" stroke="#e0202c" stroke-width="1.9" fill="none"/>
<path d="M1089.3,723 C1091,724 1095.7,726.4 1099.4,729 C1103.1,731.6 1107.5,735.4 1111.5,738.6 C1115.5,741.8 1119.5,745.4 1123.5,748.2 C1127.5,751.1 1132,753.9 1135.5,755.5 C1139,757 1140.8,757.5 1144.4,757.4 C1148,757.3 1152.7,756.1 1157.2,755 C1161.7,753.9 1166.8,752.6 1171.6,750.6 C1176.4,748.7 1181.2,746.2 1186.1,743.4 C1190.9,740.6 1195.7,737.8 1200.5,733.8 C1205.3,729.8 1210.5,723.8 1214.9,719.4 C1219.3,715 1223.4,710.5 1227,707.3 C1230.6,704.1 1234.3,701.5 1236.6,700.1 C1238.9,698.7 1240.2,699.1 1240.9,698.9" stroke="#e0202c" stroke-width="1.9" fill="none"/>
<path d="M1240.3,640 C1242.6,638.8 1249.1,635.6 1254.2,632.7 C1259.4,629.9 1266.3,625.7 1271.1,623.1 C1275.9,620.5 1279,618.7 1283.1,617.1 C1287.2,615.5 1291.6,614.5 1295.6,613.5 C1299.6,612.5 1302.9,612.7 1307.2,611.1 C1311.5,609.5 1316.8,606.1 1321.6,603.9 C1326.4,601.7 1332,599.1 1336.1,597.9 C1340.1,596.6 1342.1,595.6 1345.7,596.2 C1349.3,596.8 1353.7,599 1357.7,601.5 C1361.7,604 1365.7,607.5 1369.7,611.1 C1373.8,614.7 1378.2,618.7 1381.8,623.1 C1385.4,627.5 1389.8,635.2 1391.4,637.6" stroke="#3a3ad6" stroke-width="1.7" fill="none" stroke-dasharray="1.5 1.6"/>
<path d="M1240.3,662.8 C1242.6,663.2 1249.1,663.8 1254.2,665.2 C1259.4,666.6 1266.3,669.4 1271.1,671.2 C1275.9,673.1 1279,674.5 1283.1,676.1 C1287.2,677.7 1291.6,680.5 1295.6,680.9 C1299.6,681.3 1302.9,680.1 1307.2,678.5 C1311.5,676.9 1316.8,673.7 1321.6,671.2 C1326.4,668.8 1331.2,665.8 1336.1,664 C1340.9,662.2 1346.1,661 1350.5,660.4 C1354.9,659.8 1358.5,659.8 1362.5,660.4 C1366.5,661 1370.9,662.6 1374.6,664 C1378.2,665.4 1381.4,667.6 1384.2,668.8 C1387,670 1390.2,670.8 1391.4,671.2" stroke="#3a3ad6" stroke-width="1.7" fill="none" stroke-dasharray="1.5 1.6"/>
<path d="M1240.3,689.3 C1242.6,689.9 1249.9,691.5 1254.2,692.9 C1258.6,694.3 1262.3,695.7 1266.3,697.7 C1270.3,699.7 1274.3,701.3 1278.3,704.9 C1282.3,708.5 1287.5,716.4 1290.3,719.4 C1293.2,722.4 1292.8,723.4 1295.6,723 C1298.4,722.6 1303.3,720 1307.2,717 C1311.1,714 1315.2,709.7 1319.2,704.9 C1323.2,700.1 1327.2,693.7 1331.2,688.1 C1335.3,682.5 1339.3,675.7 1343.3,671.2 C1347.3,666.8 1351.7,663.6 1355.3,661.6 C1358.9,659.6 1360.9,658.4 1364.9,659.2 C1368.9,660 1375,664.4 1379.4,666.4 C1383.8,668.4 1389.4,670.4 1391.4,671.2" stroke="#3a3ad6" stroke-width="1.7" fill="none" stroke-dasharray="1.5 1.6"/>
<path d="M1240.3,718.2 C1242.6,716.8 1249.1,712.4 1254.2,709.7 C1259.4,707.1 1266.3,704.2 1271.1,702.5 C1275.9,700.8 1279,700.2 1283.1,699.6 C1287.2,699 1291.6,698.4 1295.6,698.9 C1299.6,699.4 1302.9,700.7 1307.2,702.5 C1311.5,704.3 1316.8,706.9 1321.6,709.7 C1326.4,712.6 1331.2,716.2 1336.1,719.4 C1340.9,722.6 1346.1,726.2 1350.5,729 C1354.9,731.8 1358.5,734.2 1362.5,736.2 C1366.5,738.2 1369.7,739.6 1374.6,741 C1379.4,742.4 1388.6,744 1391.4,744.6" stroke="#3a3ad6" stroke-width="1.7" fill="none" stroke-dasharray="1.5 1.6"/>
<path d="M1350.5,759.1 C1352.1,756.1 1356.9,747.2 1360.1,741 C1363.3,734.8 1366.5,728.6 1369.7,721.8 C1373,715 1375.8,705.7 1379.4,700.1 C1383,694.5 1389.4,690.1 1391.4,688.1" stroke="#3a3ad6" stroke-width="1.7" fill="none" stroke-dasharray="1.5 1.6"/>
<path d="M1360.1,759.1 C1361.7,755.7 1366.5,745.6 1369.7,738.6 C1373,731.6 1375.8,723.4 1379.4,717 C1383,710.5 1389.4,702.9 1391.4,700.1" stroke="#3a3ad6" stroke-width="1.7" fill="none" stroke-dasharray="1.5 1.6"/>
<path d="M1240.3,719.4 C1242.6,721.4 1249.9,727 1254.2,731.4 C1258.6,735.8 1262.7,741.2 1266.3,745.8 C1269.9,750.4 1274.3,756.9 1275.9,759.1" stroke="#3a3ad6" stroke-width="1.7" fill="none" stroke-dasharray="1.5 1.6"/>
<path d="M1240.3,625.5 C1242.6,624.3 1249.1,621.1 1254.2,618.3 C1259.4,615.5 1266.3,611.1 1271.1,608.7 C1275.9,606.3 1279,605.1 1283.1,603.9 C1287.2,602.7 1291.6,602.5 1295.6,601.5 C1299.6,600.5 1302.9,599.5 1307.2,597.9 C1311.5,596.3 1316.8,593.6 1321.6,591.8 C1326.4,590 1331.6,587.8 1336.1,587 C1340.5,586.2 1344.1,586.2 1348.1,587 C1352.1,587.8 1356.1,589 1360.1,591.8 C1364.1,594.7 1368.5,599.5 1372.2,603.9 C1375.8,608.3 1378.6,614.1 1381.8,618.3 C1385,622.5 1389.8,627.3 1391.4,629.1" stroke="#e0202c" stroke-width="1.9" fill="none"/>
<path d="M1240.3,648.4 C1242.6,648.6 1249.1,648.6 1254.2,649.6 C1259.4,650.6 1266.3,652.8 1271.1,654.4 C1275.9,656 1279,658 1283.1,659.2 C1287.2,660.4 1291.6,661.6 1295.6,661.6 C1299.6,661.6 1302.9,661.2 1307.2,659.2 C1311.5,657.2 1316.8,653.2 1321.6,649.6 C1326.4,646 1331.2,641.6 1336.1,637.6 C1340.9,633.5 1345.7,629.1 1350.5,625.5 C1355.3,621.9 1360.5,618.5 1364.9,615.9 C1369.3,613.3 1372.6,611.1 1377,609.9 C1381.4,608.7 1389,608.9 1391.4,608.7" stroke="#e0202c" stroke-width="1.9" fill="none"/>
<path d="M1240.3,671.2 C1242.6,671.6 1249.9,671.6 1254.2,673.7 C1258.6,675.7 1262.3,679.7 1266.3,683.3 C1270.3,686.9 1274.3,691.9 1278.3,695.3 C1282.3,698.7 1287.5,702.1 1290.3,703.7 C1293.2,705.3 1293.2,705.1 1295.6,704.9 C1298,704.7 1301.7,704.9 1304.8,702.5 C1307.9,700.1 1311.2,694.9 1314.4,690.5 C1317.6,686.1 1320.8,681.3 1324,676.1 C1327.2,670.8 1330.4,663.6 1333.7,659.2 C1336.9,654.8 1339.7,651.8 1343.3,649.6 C1346.9,647.4 1351.3,646.4 1355.3,646 C1359.3,645.6 1363.3,646.6 1367.3,647.2 C1371.3,647.8 1375.4,648.8 1379.4,649.6 C1383.4,650.4 1389.4,651.6 1391.4,652" stroke="#e0202c" stroke-width="1.9" fill="none"/>
<path d="M1240.3,700.1 C1242.6,698.9 1249.1,695.3 1254.2,692.9 C1259.4,690.5 1266.3,687.5 1271.1,685.7 C1275.9,683.9 1279,682.9 1283.1,682.1 C1287.2,681.3 1291.6,680.7 1295.6,680.9 C1299.6,681.1 1303.3,681.9 1307.2,683.3 C1311.1,684.7 1315.2,686.9 1319.2,689.3 C1323.2,691.7 1327.2,694.7 1331.2,697.7 C1335.3,700.7 1339.3,704.5 1343.3,707.3 C1347.3,710.1 1350.9,712.4 1355.3,714.6 C1359.7,716.8 1363.7,719 1369.7,720.6 C1375.8,722.2 1387.8,723.6 1391.4,724.2" stroke="#e0202c" stroke-width="1.9" fill="none"/>
<path d="M1240.3,703.7 C1241.8,705.1 1246.3,708.7 1249.4,712.2 C1252.6,715.6 1255.5,720.2 1259.1,724.2 C1262.7,728.2 1267.1,733.4 1271.1,736.2 C1275.1,739 1279,740 1283.1,741 C1287.2,742 1291.6,741.4 1295.6,742.2 C1299.6,743 1303.3,744 1307.2,745.8 C1311.1,747.6 1315.2,751.1 1319.2,753.1 C1323.2,755.1 1328,757.1 1331.2,757.9 C1334.5,758.6 1335.7,759 1338.5,757.4 C1341.3,755.8 1344.9,753 1348.1,748.2 C1351.3,743.5 1354.5,736.2 1357.7,729 C1360.9,721.8 1364.1,713.4 1367.3,704.9 C1370.5,696.5 1374.2,686.5 1377,678.5 C1379.8,670.4 1381.8,662.8 1384.2,656.8 C1386.6,650.8 1390.2,644.8 1391.4,642.4" stroke="#e0202c" stroke-width="1.9" fill="none"/>
<path d="M1340.9,759.1 C1342.5,755.7 1347.3,746 1350.5,738.6 C1353.7,731.2 1356.9,722.6 1360.1,714.6 C1363.3,706.5 1366.5,697.7 1369.7,690.5 C1373,683.3 1375.8,676.1 1379.4,671.2 C1383,666.4 1389.4,663.2 1391.4,661.6" stroke="#e0202c" stroke-width="1.9" fill="none"/>
<path d="M1208,760 C1210.8,758.6 1219.1,753.8 1224.5,751.8 C1229.9,749.8 1235.3,748.8 1240.3,748.2 C1245.2,747.6 1249.5,747.4 1254.2,748.2 C1258.9,749 1264.7,751 1268.7,753 C1272.7,755 1276.7,758.8 1278.3,760" stroke="#e0202c" stroke-width="1.9" fill="none"/>
</g>
<path d="M1089.6,581.3H1391" stroke="#333" stroke-width="1.6" stroke-dasharray="10.5 4.2 3 4.3" fill="none"/>
<path d="M1144.5,403.4V758M1240.7,403.4V758M1295.8,403.4V758" stroke="#1a1a1a" stroke-width="1.7" fill="none"/>
<rect x="1089.6" y="403.4" width="301.4" height="354.6" fill="none" stroke="#000" stroke-width="2"/>
<path d="M1089.6,758h6 M1391,758h-6 M1089.6,740.3h3.5 M1391,740.3h-3.5 M1089.6,722.5h6 M1391,722.5h-6 M1089.6,704.8h3.5 M1391,704.8h-3.5 M1089.6,687.1h6 M1391,687.1h-6 M1089.6,669.4h3.5 M1391,669.4h-3.5 M1089.6,651.6h6 M1391,651.6h-6 M1089.6,633.9h3.5 M1391,633.9h-3.5 M1089.6,616.2h6 M1391,616.2h-6 M1089.6,598.4h3.5 M1391,598.4h-3.5 M1089.6,580.7h6 M1391,580.7h-6 M1089.6,563h3.5 M1391,563h-3.5 M1089.6,545.2h6 M1391,545.2h-6 M1089.6,527.5h3.5 M1391,527.5h-3.5 M1089.6,509.8h6 M1391,509.8h-6 M1089.6,492h3.5 M1391,492h-3.5 M1089.6,474.3h6 M1391,474.3h-6 M1089.6,456.6h3.5 M1391,456.6h-3.5 M1089.6,438.9h6 M1391,438.9h-6 M1089.6,421.1h3.5 M1391,421.1h-3.5 M1089.6,403.4h6 M1391,403.4h-6 " stroke="#000" stroke-width="2" fill="none"/>
<g clip-path="url(#cdf)">
<polyline points="1401.7,561.5 1404.6,547 1405.8,532.6 1407,518.2 1408.2,506.2 1414.2,500.2 1423.8,496.6 1433.5,489.3 1435.9,486.9 1426.2,483.3 1416.6,480.9 1409.4,478.5 1409.4,472.5 1423.8,470.1 1447.9,468.9 1438.3,465.3 1426.2,461.7 1419,459.3 1426.2,456.9 1438.3,453.3 1481.5,450.4 1438.3,449 1421.4,447.3 1426.2,443.7 1423.8,438.9 1419,434.1 1423.8,426.8 1435.9,422 1444.3,418.4 1433.5,416 1423.8,412.4 1421.4,408.8 1419,405.2" stroke="#22ee22" stroke-width="1.8" fill="none" stroke-linejoin="round"/>
<polyline points="1401.7,561.5 1403.4,542.2 1404.6,523 1405.8,506.2 1411.8,499 1419,491.8 1421.4,486.9 1416.6,483.3 1411.8,480.9 1408.2,474.9 1419,470.1 1428.7,468.9 1421.4,465.3 1414.2,462.9 1409.4,459.3 1414.2,455.7 1423.8,452.1 1438.3,450.4 1416.6,449 1411.8,446.1 1411.8,438.9 1409.4,431.7 1411.8,424.4 1419,419.6 1414.2,416 1409.4,410 1409.4,405.2" stroke="#1a1ad8" stroke-width="1.8" fill="none" stroke-linejoin="round"/>
<polyline points="1401.7,561.5 1403.4,542.2 1404.6,518.2 1407,499 1410.6,494.2 1411.8,489.3 1409.4,482.1 1407,474.9 1414.2,470.1 1416.6,467.7 1411.8,464.1 1408.2,459.3 1411.8,454.5 1419,450.4 1411.8,449 1408.2,443.7 1409.4,436.5 1411.8,429.2 1416.6,424.4 1426.2,419.6 1419,414.8 1415.4,410 1414.2,405.2" stroke="#111" stroke-width="1.5" fill="none" stroke-linejoin="round"/>
<polyline points="1401.7,561.5 1402.2,542.2 1403.4,518.2 1404.6,494.2 1405.8,482.1 1403.4,474.9 1405.8,467.7 1404.6,460.5 1405.8,453.3 1403.4,446.1 1404.6,438.9 1403.4,431.7 1404.6,422 1403.4,412.4 1404.6,405.2" stroke="#e0202c" stroke-width="1.6" fill="none" stroke-linejoin="round"/>
<polyline points="1401.7,581.5 1443.1,582.5 1592.1,583.2 1467.1,584.4 1447.9,585.6 1488.8,589.2 1443.1,591.6 1435.9,596.4 1438.3,600 1459.9,602.5 1438.3,606.1 1431.1,612.1 1433.5,618.1 1450.3,624.1 1431.1,627.7 1421.4,632.5 1419,637.3 1443.1,642.1 1471.9,646.4 1438.3,648.1 1435.9,652.9 1440.7,658.9 1452.7,661.8 1431.1,663.8 1443.1,668.6 1464.7,671 1443.1,674.6 1438.3,679.4 1469.5,683 1431.1,685.4 1419,687.8 1438.3,691.4 1464.7,693.8 1438.3,696.2 1433.5,702.2 1443.1,707 1462.3,709.4 1443.1,711.8 1455.1,716.6 1431.1,719 1428.7,723.8 1433.5,731.1 1443.1,738.3 1452.7,743.1 1443.1,745.5 1455.1,750.3 1483.9,753.9 1443.1,756.3 1438.3,758" stroke="#22ee22" stroke-width="1.8" fill="none" stroke-linejoin="round"/>
<polyline points="1401.7,581.5 1409.4,584.4 1414.2,586.8 1423.8,588 1419,591.6 1414.2,596.4 1419,600 1426.2,602.5 1419,606.1 1414.2,613.3 1419,618.1 1426.2,624.1 1421.4,627.7 1414.2,632.5 1409.4,637.3 1416.6,642.1 1433.5,646.4 1423.8,649.3 1421.4,654.1 1423.8,661.3 1419,666.2 1426.2,671 1431.1,675.8 1419,680.6 1411.8,685.4 1409.4,690.2 1414.2,697.4 1411.8,704.6 1414.2,714.2 1409.4,719 1411.8,728.7 1409.4,738.3 1414.2,747.9 1409.4,755.1 1414.2,758" stroke="#111" stroke-width="1.5" fill="none" stroke-linejoin="round"/>
<polyline points="1401.7,581.5 1414.2,584.4 1419,585.6 1411.8,589.2 1409.4,596.4 1407,603.7 1409.4,610.9 1407,618.1 1404.6,627.7 1404.6,637.3 1414.2,642.1 1421.4,645.7 1414.2,649.3 1411.8,656.5 1414.2,663.8 1421.4,668.6 1419,675.8 1426.2,680.6 1431.1,683 1416.6,685.4 1411.8,690.2 1419,695 1423.8,704.6 1435.9,709.4 1426.2,714.2 1419,719 1414.2,723.8 1419,731.1 1421.4,738.3 1426.2,745.5 1421.4,750.3 1433.5,753.9 1419,756.3 1421.4,758" stroke="#1a1ad8" stroke-width="1.8" fill="none" stroke-linejoin="round"/>
<polyline points="1401.7,581.5 1409.4,584.4 1419,586.8 1431.1,588.8 1419,591.6 1414.2,598.8 1411.8,606.1 1409.4,615.7 1407,622.9 1404.6,632.5 1404.6,639.7 1409.4,644.5 1419,645.7 1409.4,649.3 1404.6,656.5 1407,666.2 1409.4,675.8 1414.2,683 1404.6,687.8 1409.4,692.6 1411.8,699.8 1409.4,709.4 1407,719 1409.4,726.2 1411.8,735.9 1409.4,743.1 1414.2,747.9 1409.4,752.7 1419,755.1 1411.8,758" stroke="#e0202c" stroke-width="1.6" fill="none" stroke-linejoin="round"/>
</g>
<path d="M1401.5,581.3H1591.3" stroke="#333" stroke-width="1.6" stroke-dasharray="10.5 4.2 3 4.3" fill="none"/>
<rect x="1401.5" y="404" width="189.8" height="354" fill="none" stroke="#000" stroke-width="2"/>
<path d="M1401.5,758h6 M1591.3,758h-6 M1401.5,740.3h3.5 M1591.3,740.3h-3.5 M1401.5,722.6h6 M1591.3,722.6h-6 M1401.5,704.9h3.5 M1591.3,704.9h-3.5 M1401.5,687.2h6 M1591.3,687.2h-6 M1401.5,669.5h3.5 M1591.3,669.5h-3.5 M1401.5,651.8h6 M1591.3,651.8h-6 M1401.5,634.1h3.5 M1591.3,634.1h-3.5 M1401.5,616.4h6 M1591.3,616.4h-6 M1401.5,598.7h3.5 M1591.3,598.7h-3.5 M1401.5,581h6 M1591.3,581h-6 M1401.5,563.3h3.5 M1591.3,563.3h-3.5 M1401.5,545.6h6 M1591.3,545.6h-6 M1401.5,527.9h3.5 M1591.3,527.9h-3.5 M1401.5,510.2h6 M1591.3,510.2h-6 M1401.5,492.5h3.5 M1591.3,492.5h-3.5 M1401.5,474.8h6 M1591.3,474.8h-6 M1401.5,457.1h3.5 M1591.3,457.1h-3.5 M1401.5,439.4h6 M1591.3,439.4h-6 M1401.5,421.7h3.5 M1591.3,421.7h-3.5 M1401.5,404h6 M1591.3,404h-6 " stroke="#000" stroke-width="2" fill="none"/>
<text x="50" y="21" font-size="18" fill="#000" text-anchor="end" >5</text>
<text x="50" y="57.1" font-size="18" fill="#000" text-anchor="end" >4</text>
<text x="50" y="93.3" font-size="18" fill="#000" text-anchor="end" >3</text>
<text x="50" y="129.5" font-size="18" fill="#000" text-anchor="end" >2</text>
<text x="50" y="165.7" font-size="18" fill="#000" text-anchor="end" >1</text>
<text x="50" y="201.8" font-size="18" fill="#000" text-anchor="end" >0</text>
<text x="50" y="238" font-size="18" fill="#000" text-anchor="end" >-1</text>
<text x="50" y="274.2" font-size="18" fill="#000" text-anchor="end" >-2</text>
<text x="50" y="310.3" font-size="18" fill="#000" text-anchor="end" >-3</text>
<text x="50" y="346.5" font-size="18" fill="#000" text-anchor="end" >-4</text>
<text x="50" y="382.7" font-size="18" fill="#000" text-anchor="end" >-5</text>
<text transform="translate(20,187.8) rotate(-90)" font-size="18.5" text-anchor="middle" textLength="83" lengthAdjust="spacingAndGlyphs">E-E<tspan font-size="12.9" dy="4.6">F</tspan><tspan dy="-4.6"> (eV)</tspan></text>
<text x="86" y="161.5" font-size="31" fill="#000" text-anchor="middle" >(a)</text>
<text x="57.2" y="400" font-size="19" fill="#000" text-anchor="middle" >G</text>
<text x="113" y="400" font-size="19" fill="#000" text-anchor="middle" >X</text>
<text x="209" y="400" font-size="19" fill="#000" text-anchor="middle" >S</text>
<text x="265" y="400" font-size="19" fill="#000" text-anchor="middle" >Y</text>
<text x="361" y="400" font-size="19" fill="#000" text-anchor="middle" >G</text>
<text x="463.2" y="396" font-size="16.5" fill="#000" text-anchor="middle" textLength="91" lengthAdjust="spacingAndGlyphs">DOS (a.u.)</text>
<rect x="176" y="21" width="73.5" height="26" fill="#000"/>
<rect x="171.5" y="16.5" width="73.5" height="26" fill="#fff" stroke="#bbb" stroke-width="0.8"/>
<text x="208.2" y="36.3" font-size="18" fill="#1010d0" text-anchor="middle" >Pristine</text>
<path d="M65.6,175.6H108.5" stroke="#e0202c" stroke-width="1.7"/>
<path d="M65.6,209.5H108" stroke="#3a3ad6" stroke-width="1.7" stroke-dasharray="1.6 1.9"/>
<text x="114.5" y="181.5" font-size="16" fill="#e0202c" text-anchor="start" textLength="94" lengthAdjust="spacingAndGlyphs">PBE 0.02 eV</text>
<text x="114.5" y="215.5" font-size="16" fill="#1515c8" text-anchor="start" textLength="94" lengthAdjust="spacingAndGlyphs">HSE 0.24 eV</text>
<rect x="489.1" y="73.5" width="73.1" height="26.6" fill="#000"/>
<rect x="484.6" y="69" width="73.1" height="26.6" fill="#fff" stroke="#bbb" stroke-width="0.8"/>
<text x="521.2" y="88.9" font-size="17.5" fill="#1010d0" text-anchor="middle" >Pristine</text>
<path d="M484,135.4H525.4" stroke="#111" stroke-width="1.7"/>
<text x="531.5" y="141.5" font-size="17" fill="#000" text-anchor="start" >B</text>
<path d="M484,159.2H525.4" stroke="#1a1ad8" stroke-width="1.7"/>
<text x="531.5" y="165.3" font-size="17" fill="#000" text-anchor="start" >P</text>
<path d="M484,182.9H525.4" stroke="#22ee22" stroke-width="1.7"/>
<text x="531.5" y="189" font-size="17" fill="#000" text-anchor="start" >tot</text>
<text x="598.4" y="126" font-size="31" fill="#000" text-anchor="middle" >(c)</text>
<rect x="686.9" y="20.9" width="77.2" height="26.6" fill="#000"/>
<rect x="682.4" y="16.4" width="77.2" height="26.6" fill="#fff" stroke="#bbb" stroke-width="0.8"/>
<text x="721" y="36.6" font-size="18" fill="#1010d0" text-anchor="middle" >4H-1-BP</text>
<path d="M586.4,150H624.4" stroke="#e0202c" stroke-width="1.7"/>
<path d="M586.4,177.8H623" stroke="#3a3ad6" stroke-width="1.7" stroke-dasharray="1.6 1.9"/>
<text x="630" y="154.4" font-size="16" fill="#e0202c" text-anchor="start" >PBE</text>
<text x="683.2" y="154.4" font-size="16" fill="#e0202c" text-anchor="start" >1.90</text>
<text x="719.3" y="154.4" font-size="16" fill="#e0202c" text-anchor="start" >eV</text>
<text x="630.5" y="183" font-size="16" fill="#1515c8" text-anchor="start" >HSE</text>
<text x="683.2" y="183" font-size="16" fill="#1515c8" text-anchor="start" >2.76</text>
<text x="719.3" y="183" font-size="16" fill="#1515c8" text-anchor="start" >eV</text>
<text x="1117.9" y="125" font-size="31" fill="#000" text-anchor="middle" >(d)</text>
<rect x="1215.2" y="21.3" width="75.2" height="26.2" fill="#000"/>
<rect x="1210.7" y="16.8" width="75.2" height="26.2" fill="#fff" stroke="#bbb" stroke-width="0.8"/>
<text x="1248.3" y="36.4" font-size="18" fill="#1010d0" text-anchor="middle" >4H-2-BP</text>
<path d="M1099,147.8H1140" stroke="#e0202c" stroke-width="1.7"/>
<path d="M1099,179H1140" stroke="#3a3ad6" stroke-width="1.7" stroke-dasharray="1.6 1.9"/>
<text x="1146.5" y="154" font-size="16" fill="#e0202c" text-anchor="start" >PBE</text>
<text x="1203.9" y="154" font-size="16" fill="#e0202c" text-anchor="start" >2.48</text>
<text x="1240.3" y="154" font-size="16" fill="#e0202c" text-anchor="start" >eV</text>
<text x="1147" y="185.4" font-size="16" fill="#1515c8" text-anchor="start" >HSE</text>
<text x="1203.9" y="185.4" font-size="16" fill="#1515c8" text-anchor="start" >3.46</text>
<text x="1240.3" y="185.4" font-size="16" fill="#1515c8" text-anchor="start" >eV</text>
<rect x="982.5" y="23.6" width="77.3" height="25" fill="#000"/>
<rect x="978" y="19.1" width="77.3" height="25" fill="#fff" stroke="#bbb" stroke-width="0.8"/>
<text x="1016.6" y="38.2" font-size="18" fill="#1010d0" text-anchor="middle" >4H-1-BP</text>
<path d="M983.9,68H1025.6" stroke="#111" stroke-width="1.7"/>
<text x="1031.5" y="74.1" font-size="17" fill="#000" text-anchor="start" >B</text>
<path d="M983.9,91.8H1025.6" stroke="#e0202c" stroke-width="1.7"/>
<text x="1031.5" y="97.9" font-size="17" fill="#000" text-anchor="start" >H</text>
<path d="M983.9,115.6H1025.6" stroke="#1a1ad8" stroke-width="1.7"/>
<text x="1031.5" y="121.7" font-size="17" fill="#000" text-anchor="start" >P</text>
<path d="M983.9,139.4H1025.6" stroke="#22ee22" stroke-width="1.7"/>
<text x="1031.5" y="145.5" font-size="17" fill="#000" text-anchor="start" >tot</text>
<rect x="1506.8" y="23.2" width="78.6" height="26.6" fill="#000"/>
<rect x="1502.3" y="18.7" width="78.6" height="26.6" fill="#fff" stroke="#bbb" stroke-width="0.8"/>
<text x="1541.6" y="38.7" font-size="18" fill="#1010d0" text-anchor="middle" >4H-2-BP</text>
<path d="M1504.7,68H1546.4" stroke="#111" stroke-width="1.7"/>
<text x="1552.3" y="74.1" font-size="17" fill="#000" text-anchor="start" >B</text>
<path d="M1504.7,91.8H1546.4" stroke="#e0202c" stroke-width="1.7"/>
<text x="1552.3" y="97.9" font-size="17" fill="#000" text-anchor="start" >H</text>
<path d="M1504.7,115.6H1546.4" stroke="#1a1ad8" stroke-width="1.7"/>
<text x="1552.3" y="121.7" font-size="17" fill="#000" text-anchor="start" >P</text>
<path d="M1504.7,139.4H1546.4" stroke="#22ee22" stroke-width="1.7"/>
<text x="1552.3" y="145.5" font-size="17" fill="#000" text-anchor="start" >tot</text>
<text x="56.8" y="453.2" font-size="17.5" fill="#000" text-anchor="end" >4</text>
<text x="56.8" y="522.3" font-size="17.5" fill="#000" text-anchor="end" >2</text>
<text x="56.8" y="591.4" font-size="17.5" fill="#000" text-anchor="end" >0</text>
<text x="56.8" y="660.6" font-size="17.5" fill="#000" text-anchor="end" >-2</text>
<text x="56.8" y="729.7" font-size="17.5" fill="#000" text-anchor="end" >-4</text>
<text transform="translate(27.5,576) rotate(-90)" font-size="21.5" text-anchor="middle">E-E<tspan font-size="15.0" dy="5.4">F</tspan><tspan dy="-5.4"> (eV)</tspan></text>
<text x="86.8" y="573" font-size="31" fill="#000" text-anchor="middle" >(b)</text>
<text x="63.5" y="781" font-size="19" fill="#000" text-anchor="middle" >G</text>
<text x="143.7" y="781" font-size="19" fill="#000" text-anchor="middle" >X</text>
<text x="280.7" y="781" font-size="19" fill="#000" text-anchor="middle" >S</text>
<text x="360.7" y="781" font-size="19" fill="#000" text-anchor="middle" >Y</text>
<text x="499.2" y="781" font-size="19" fill="#000" text-anchor="middle" >G</text>
<rect x="397.2" y="481.1" width="58.6" height="56.2" fill="#fff" stroke="#000" stroke-width="1.5"/>
<defs><radialGradient id="gr" cx="0.4" cy="0.35" r="0.7"><stop offset="0" stop-color="#ff6060"/><stop offset="0.6" stop-color="#e01010"/><stop offset="1" stop-color="#901010"/></radialGradient><radialGradient id="gb" cx="0.4" cy="0.35" r="0.7"><stop offset="0" stop-color="#6080ff"/><stop offset="0.6" stop-color="#1020e0"/><stop offset="1" stop-color="#101090"/></radialGradient></defs>
<circle cx="410.8" cy="490.5" r="8" fill="url(#gr)"/>
<circle cx="410.8" cy="525.6" r="8" fill="url(#gb)"/>
<text x="442" y="502" font-size="23" fill="#000" text-anchor="middle" >P</text>
<text x="442" y="536" font-size="23" fill="#000" text-anchor="middle" >B</text>
<text x="566.5" y="408.5" font-size="18" fill="#000" text-anchor="end" >5</text>
<text x="566.5" y="444.1" font-size="18" fill="#000" text-anchor="end" >4</text>
<text x="566.5" y="479.8" font-size="18" fill="#000" text-anchor="end" >3</text>
<text x="566.5" y="515.4" font-size="18" fill="#000" text-anchor="end" >2</text>
<text x="566.5" y="551.1" font-size="18" fill="#000" text-anchor="end" >1</text>
<text x="566.5" y="586.7" font-size="18" fill="#000" text-anchor="end" >0</text>
<text x="566.5" y="622.4" font-size="18" fill="#000" text-anchor="end" >-1</text>
<text x="566.5" y="658" font-size="18" fill="#000" text-anchor="end" >-2</text>
<text x="566.5" y="693.7" font-size="18" fill="#000" text-anchor="end" >-3</text>
<text x="566.5" y="729.3" font-size="18" fill="#000" text-anchor="end" >-4</text>
<text x="566.5" y="765" font-size="18" fill="#000" text-anchor="end" >-5</text>
<text transform="translate(534,574.4) rotate(-90)" font-size="23.5" text-anchor="middle">E-E<tspan font-size="16.4" dy="5.9">F</tspan><tspan dy="-5.9"> (eV)</tspan></text>
<text x="597.3" y="533.5" font-size="31" fill="#000" text-anchor="middle" >(e)</text>
<text x="574.4" y="781" font-size="19" fill="#000" text-anchor="middle" >G</text>
<text x="634.5" y="781" font-size="19" fill="#000" text-anchor="middle" >X</text>
<text x="719.5" y="781" font-size="19" fill="#000" text-anchor="middle" >S</text>
<text x="781" y="781" font-size="19" fill="#000" text-anchor="middle" >Y</text>
<text x="866" y="781" font-size="19" fill="#000" text-anchor="middle" >G</text>
<text x="973.2" y="774.8" font-size="17.5" fill="#000" text-anchor="middle" textLength="89" lengthAdjust="spacingAndGlyphs">DOS (a.u.)</text>
<rect x="693" y="409.1" width="75.8" height="25.6" fill="#000"/>
<rect x="688.5" y="404.6" width="75.8" height="25.6" fill="#fff" stroke="#bbb" stroke-width="0.8"/>
<text x="726.4" y="424" font-size="18" fill="#1010d0" text-anchor="middle" >4H-3-BP</text>
<circle cx="759.4" cy="471.6" r="7" fill="#000"/>
<path d="M593,546.8H632.5" stroke="#e0202c" stroke-width="1.7"/>
<path d="M589.5,568H632" stroke="#3a3ad6" stroke-width="1.7" stroke-dasharray="1.6 1.9"/>
<text x="637" y="551.5" font-size="16" fill="#e0202c" text-anchor="start" >PBE</text>
<text x="684.5" y="551.5" font-size="16" fill="#e0202c" text-anchor="start" >3.17</text>
<text x="721.5" y="551.5" font-size="16" fill="#e0202c" text-anchor="start" >eV</text>
<text x="637.5" y="573.5" font-size="16" fill="#1515c8" text-anchor="start" >HSE</text>
<text x="684.5" y="573.5" font-size="16" fill="#1515c8" text-anchor="start" >4.18</text>
<text x="721.5" y="573.5" font-size="16" fill="#1515c8" text-anchor="start" >eV</text>
<rect x="985.1" y="411.6" width="78.1" height="24.6" fill="#000"/>
<rect x="980.6" y="407.1" width="78.1" height="24.6" fill="#fff" stroke="#bbb" stroke-width="0.8"/>
<text x="1019.7" y="425.6" font-size="18" fill="#1010d0" text-anchor="middle" >4H-3-BP</text>
<path d="M980.6,453.3H1022.6" stroke="#111" stroke-width="1.7"/>
<text x="1028.7" y="459.4" font-size="17" fill="#000" text-anchor="start" >B</text>
<path d="M980.6,476.1H1022.6" stroke="#e0202c" stroke-width="1.7"/>
<text x="1028.7" y="482.2" font-size="17" fill="#000" text-anchor="start" >H</text>
<path d="M980.6,499.4H1022.6" stroke="#1a1ad8" stroke-width="1.7"/>
<text x="1028.7" y="505.5" font-size="17" fill="#000" text-anchor="start" >P</text>
<path d="M980.6,522.5H1022.6" stroke="#22ee22" stroke-width="1.7"/>
<text x="1028.7" y="528.6" font-size="17" fill="#000" text-anchor="start" >tot</text>
<text x="1110" y="524.3" font-size="31" fill="#000" text-anchor="middle" >(f)</text>
<text x="1089.9" y="781" font-size="19" fill="#000" text-anchor="middle" >G</text>
<text x="1144.5" y="781" font-size="19" fill="#000" text-anchor="middle" >X</text>
<text x="1240.5" y="781" font-size="19" fill="#000" text-anchor="middle" >S</text>
<text x="1295.8" y="781" font-size="19" fill="#000" text-anchor="middle" >Y</text>
<text x="1391" y="781" font-size="19" fill="#000" text-anchor="middle" >G</text>
<text x="1496.4" y="774.8" font-size="17.5" fill="#000" text-anchor="middle" textLength="89" lengthAdjust="spacingAndGlyphs">DOS (a.u.)</text>
<circle cx="1176" cy="582" r="7" fill="#000"/>
<path d="M1095.8,540H1139" stroke="#e0202c" stroke-width="1.7"/>
<path d="M1095.8,568.8H1139" stroke="#3a3ad6" stroke-width="1.7" stroke-dasharray="1.6 1.9"/>
<text x="1145.2" y="545.3" font-size="16" fill="#e0202c" text-anchor="start" >PBE</text>
<text x="1188.3" y="545.3" font-size="16" fill="#e0202c" text-anchor="start" textLength="26.5" lengthAdjust="spacingAndGlyphs">0.59</text>
<text x="1217.4" y="545.3" font-size="16" fill="#e0202c" text-anchor="start" >eV</text>
<text x="1146.4" y="574.9" font-size="16" fill="#1515c8" text-anchor="start" >HSE</text>
<text x="1191.9" y="574.9" font-size="16" fill="#1515c8" text-anchor="start" textLength="29.5" lengthAdjust="spacingAndGlyphs">1.45</text>
<text x="1226" y="574.9" font-size="16" fill="#1515c8" text-anchor="start" >eV</text>
<rect x="1506.5" y="413.3" width="74.5" height="25.2" fill="#000"/>
<rect x="1502" y="408.8" width="74.5" height="25.2" fill="#fff" stroke="#bbb" stroke-width="0.8"/>
<text x="1539.2" y="428" font-size="18" fill="#1010d0" text-anchor="middle" >4H-4-BP</text>
<path d="M1503.2,453.8H1544" stroke="#111" stroke-width="1.7"/>
<text x="1548.8" y="459.9" font-size="17" fill="#000" text-anchor="start" >B</text>
<path d="M1503.2,476.1H1544" stroke="#e0202c" stroke-width="1.7"/>
<text x="1548.8" y="482.2" font-size="17" fill="#000" text-anchor="start" >H</text>
<path d="M1503.2,500.2H1544" stroke="#1a1ad8" stroke-width="1.7"/>
<text x="1548.8" y="506.3" font-size="17" fill="#000" text-anchor="start" >P</text>
<path d="M1503.2,522.5H1544" stroke="#22ee22" stroke-width="1.7"/>
<text x="1548.8" y="528.6" font-size="17" fill="#000" text-anchor="start" >tot</text>
<rect x="1209.1" y="410.9" width="77.3" height="24.7" fill="#000"/>
<rect x="1204.6" y="406.4" width="77.3" height="24.7" fill="#fff" stroke="#bbb" stroke-width="0.8"/>
<text x="1243.2" y="424.8" font-size="18" fill="#1010d0" text-anchor="middle" >4H-4-BP</text>
</svg>
</body></html>
